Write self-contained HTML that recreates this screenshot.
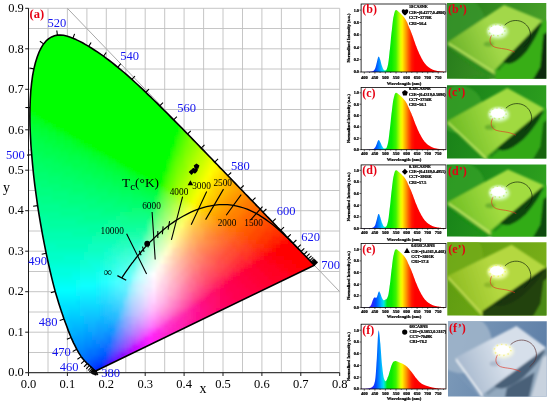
<!DOCTYPE html>
<html><head><meta charset="utf-8"><title>CIE chromaticity and LED spectra</title>
<style>
html,body{margin:0;padding:0;background:#fff;}
body{width:550px;height:403px;overflow:hidden;font-family:"Liberation Serif",serif;}
svg{display:block}
text{font-family:"Liberation Serif",serif}
</style></head><body>
<svg width="550" height="403" viewBox="0 0 550 403">
<rect width="550" height="403" fill="#fff"/>
<path d="M28.5 372.7V8.3M48 372.7V8.3M67.4 372.7V8.3M86.9 372.7V8.3M106.3 372.7V8.3M125.8 372.7V8.3M145.2 372.7V8.3M164.7 372.7V8.3M184.1 372.7V8.3M203.6 372.7V8.3M223 372.7V8.3M242.5 372.7V8.3M261.9 372.7V8.3M281.4 372.7V8.3M300.8 372.7V8.3M320.2 372.7V8.3M339.7 372.7V8.3M28.5 372.7H339.7M28.5 352.5H339.7M28.5 332.2H339.7M28.5 312H339.7M28.5 291.7H339.7M28.5 271.5H339.7M28.5 251.2H339.7M28.5 231H339.7M28.5 210.7H339.7M28.5 190.5H339.7M28.5 170.2H339.7M28.5 150H339.7M28.5 129.8H339.7M28.5 109.5H339.7M28.5 89.3H339.7M28.5 69H339.7M28.5 48.8H339.7M28.5 28.5H339.7M28.5 8.3H339.7" stroke="#c0c0c0" stroke-width="0.9" fill="none"/>
<path d="M67.4 8.3L339.7 291.7" stroke="#a8a8a8" stroke-width="1" fill="none"/>
<clipPath id="lc"><polygon points="96.2,370.7 96.2,370.7 96.2,370.7 96.2,370.7 96.2,370.7 96.2,370.7 96.2,370.7 96.2,370.7 96.1,370.7 96.1,370.7 96.1,370.7 96.1,370.7 96.1,370.7 96.1,370.7 96,370.7 96,370.7 96,370.7 96,370.7 96,370.7 95.9,370.8 95.9,370.8 95.9,370.8 95.9,370.8 95.9,370.8 95.8,370.8 95.8,370.8 95.8,370.8 95.7,370.8 95.7,370.8 95.7,370.8 95.6,370.8 95.6,370.8 95.6,370.8 95.5,370.8 95.5,370.8 95.4,370.7 95.4,370.7 95.4,370.7 95.3,370.7 95.2,370.7 95.2,370.6 95.1,370.6 95,370.5 94.9,370.5 94.8,370.4 94.7,370.4 94.6,370.3 94.5,370.2 94.4,370.1 94.3,370 94.2,369.9 94.1,369.8 93.9,369.7 93.8,369.5 93.6,369.4 93.4,369.2 93.2,369.1 93.1,368.9 92.9,368.7 92.7,368.5 92.5,368.3 92.2,368.1 92,367.9 91.7,367.6 91.5,367.4 91.2,367.1 90.9,366.8 90.5,366.5 90.2,366.2 89.8,365.9 89.4,365.5 89,365.2 88.6,364.8 88.2,364.4 87.7,363.9 87.2,363.5 86.7,363 86.2,362.5 85.7,361.9 85.1,361.3 84.5,360.7 83.9,360 83.3,359.3 82.6,358.4 81.9,357.6 81.2,356.6 80.4,355.4 79.6,354.1 78.7,352.7 77.8,351.1 76.8,349.3 75.8,347.4 74.7,345.2 73.5,342.9 72.4,340.4 71.1,337.5 69.8,334.4 68.5,331.1 67.1,327.3 65.6,323.3 64,319 62.4,314.3 60.7,309.2 58.9,303.7 57.1,297.8 55.2,291.4 53.4,284.6 51.6,277.4 49.8,269.8 48,261.8 46.2,253.3 44.4,244.4 42.6,235.1 40.9,225.5 39.2,215.6 37.6,205.6 36.2,195.5 34.8,185.2 33.6,175 32.6,164.8 31.7,154.7 30.9,144.7 30.4,135 30,125.5 29.9,116.4 30,107.6 30.3,99 30.8,90.8 31.6,83.1 32.6,75.7 33.9,68.9 35.4,62.7 37.2,57 39.1,52 41.3,47.6 43.6,43.9 46.1,40.9 48.8,38.6 51.6,36.9 54.5,35.7 57.4,35.1 60.4,35 63.5,35.3 66.6,36 69.7,37 72.9,38.2 76.1,39.6 79.3,41.1 82.5,42.8 85.6,44.6 88.7,46.4 91.7,48.3 94.7,50.2 97.7,52.1 100.6,54.2 103.5,56.2 106.4,58.3 109.3,60.5 112.1,62.7 115,65 117.8,67.3 120.6,69.6 123.5,72 126.3,74.4 129.1,76.9 131.9,79.4 134.7,82 137.5,84.5 140.3,87.1 143,89.7 145.8,92.4 148.6,95.1 151.4,97.7 154.2,100.5 157,103.2 159.7,105.9 162.5,108.7 165.3,111.5 168.1,114.3 170.9,117.1 173.6,119.9 176.4,122.7 179.2,125.5 182,128.3 184.7,131.1 187.5,134 190.3,136.8 193,139.6 195.8,142.5 198.5,145.3 201.2,148.1 204,150.9 206.7,153.7 209.4,156.5 212.1,159.3 214.7,162.1 217.4,164.8 220,167.6 222.7,170.3 225.3,173 227.9,175.7 230.4,178.3 233,181 235.5,183.6 238,186.2 240.4,188.7 242.9,191.2 245.2,193.7 247.6,196.1 249.9,198.6 252.2,200.9 254.5,203.3 256.7,205.6 258.9,207.8 261,210 263,212.2 265,214.2 266.9,216.2 268.8,218.1 270.6,220 272.4,221.9 274.2,223.7 275.9,225.5 277.5,227.2 279.1,228.8 280.7,230.4 282.1,231.9 283.6,233.4 284.9,234.8 286.2,236.2 287.5,237.5 288.7,238.7 289.9,239.9 291,241.1 292,242.2 293.1,243.2 294,244.2 295,245.2 295.8,246.1 296.7,247 297.5,247.9 298.3,248.7 299,249.4 299.7,250.1 300.4,250.8 301,251.5 301.7,252.2 302.2,252.8 302.8,253.3 303.4,253.9 303.9,254.5 304.4,255 304.9,255.5 305.4,256 305.8,256.5 306.3,256.9 306.7,257.4 307.1,257.8 307.5,258.2 307.8,258.6 308.2,258.9 308.5,259.3 308.9,259.6 309.2,260 309.5,260.3 309.8,260.6 310,260.8 310.3,261.1 310.5,261.3 310.7,261.5 310.9,261.8 311.1,262 311.3,262.2 311.5,262.3 311.6,262.5 311.8,262.7 311.9,262.8 312.1,263 312.2,263.1 312.3,263.2 312.5,263.4 312.6,263.5 312.7,263.6 312.7,263.7 312.8,263.7 312.9,263.8 313,263.9 313,264 313.1,264 313.2,264.1 313.2,264.2 313.3,264.2 313.4,264.3 313.4,264.4 313.5,264.4 313.5,264.5 313.6,264.5 313.6,264.6 313.7,264.6 313.7,264.7 313.8,264.8 313.9,264.8 313.9,264.9 314,264.9 314,265 314,265 314.1,265.1 314.1,265.1 314.1,265.1 314.2,265.1 314.2,265.2 314.2,265.2 314.2,265.2 314.2,265.2 314.2,265.2 314.3,265.2 314.3,265.2 314.3,265.3 314.3,265.3 314.3,265.3 314.3,265.3"/></clipPath>
<filter id="bl" x="-5%" y="-5%" width="110%" height="110%"><feGaussianBlur stdDeviation="1.6"/></filter>
<g clip-path="url(#lc)"><g filter="url(#bl)" shape-rendering="crispEdges">
<path fill="#00ff00" d="M52 28h16v4h-16zM44 32h36v4h-36zM40 36h48v4h-48zM36 40h56v4h-56zM36 44h64v4h-64zM32 48h72v4h-72zM32 52h80v4h-80zM32 56h84v4h-84zM28 60h92v4h-92zM28 64h96v4h-96zM28 68h104v4h-104zM28 72h108v4h-108zM28 76h112v4h-112zM24 80h120v4h-120zM24 84h124v4h-124zM24 88h128v4h-128zM24 92h132v4h-132zM24 96h136v4h-136zM24 100h140v4h-140zM24 104h144v4h-144zM28 108h144v4h-144zM36 112h140v4h-140zM40 116h140v4h-140zM48 120h132v4h-132zM56 124h124v4h-124zM64 128h116v4h-116zM68 132h108v4h-108zM76 136h100v4h-100zM84 140h92v4h-92zM92 144h80v4h-80zM96 148h76v4h-76zM104 152h68v4h-68zM112 156h56v4h-56zM120 160h48v4h-48zM124 164h44v4h-44zM132 168h36v4h-36zM140 172h24v4h-24zM148 176h16v4h-16zM152 180h12v4h-12z"/>
<path fill="#00ff10" d="M24 108h4v4h-4zM44 120h4v4h-4zM52 124h4v4h-4zM72 136h4v4h-4zM80 140h4v4h-4zM108 156h4v4h-4zM136 172h4v4h-4z"/>
<path fill="#00ff20" d="M24 112h4v4h-4zM32 116h4v4h-4zM40 120h4v4h-4zM44 124h8v4h-8zM52 128h4v4h-4zM60 132h4v4h-4zM68 136h4v4h-4zM76 140h4v4h-4zM80 144h4v4h-4zM88 148h4v4h-4zM96 152h4v4h-4zM104 156h4v4h-4zM112 160h4v4h-4zM124 168h4v4h-4zM132 172h4v4h-4zM140 176h4v4h-4zM148 180h4v4h-4z"/>
<path fill="#00ff18" d="M28 112h4v4h-4zM36 116h4v4h-4zM56 128h4v4h-4zM64 132h4v4h-4zM84 144h4v4h-4zM92 148h4v4h-4zM100 152h4v4h-4zM120 164h4v4h-4zM128 168h4v4h-4zM156 184h4v4h-4z"/>
<path fill="#00ff08" d="M32 112h4v4h-4zM60 128h4v4h-4zM88 144h4v4h-4zM116 160h4v4h-4zM144 176h4v4h-4z"/>
<path fill="#00ff28" d="M24 116h8v4h-8zM32 120h8v4h-8zM40 124h4v4h-4zM48 128h4v4h-4zM56 132h4v4h-4zM64 136h4v4h-4zM72 140h4v4h-4zM76 144h4v4h-4zM84 148h4v4h-4zM92 152h4v4h-4zM100 156h4v4h-4zM108 160h4v4h-4zM116 164h4v4h-4zM128 172h4v4h-4zM136 176h4v4h-4zM144 180h4v4h-4zM152 184h4v4h-4z"/>
<path fill="#00ff30" d="M24 120h8v4h-8zM32 124h8v4h-8zM40 128h8v4h-8zM48 132h8v4h-8zM56 136h8v4h-8zM64 140h8v4h-8zM72 144h4v4h-4zM80 148h4v4h-4zM88 152h4v4h-4zM92 156h8v4h-8zM100 160h8v4h-8zM108 164h8v4h-8zM116 168h8v4h-8zM124 172h4v4h-4zM132 176h4v4h-4zM140 180h4v4h-4zM148 184h4v4h-4zM156 188h4v4h-4z"/>
<path fill="#10ff00" d="M180 120h4v4h-4zM176 132h4v4h-4zM172 144h4v4h-4z"/>
<path fill="#00ff38" d="M24 124h8v4h-8zM32 128h8v4h-8zM40 132h8v4h-8zM48 136h8v4h-8zM56 140h8v4h-8zM64 144h8v4h-8zM72 148h8v4h-8zM80 152h8v4h-8zM88 156h4v4h-4zM96 160h4v4h-4zM104 164h4v4h-4zM112 168h4v4h-4zM120 172h4v4h-4zM128 176h4v4h-4zM136 180h4v4h-4zM144 184h4v4h-4zM152 188h4v4h-4z"/>
<path fill="#28ff00" d="M180 124h4v4h-4zM176 136h4v4h-4zM172 148h4v4h-4zM168 160h4v4h-4zM164 172h4v4h-4zM160 184h4v4h-4z"/>
<path fill="#48ff00" d="M184 124h4v4h-4zM180 136h4v4h-4zM176 148h4v4h-4z"/>
<path fill="#00ff40" d="M24 128h8v4h-8zM28 132h12v4h-12zM36 136h12v4h-12zM44 140h12v4h-12zM52 144h12v4h-12zM60 148h12v4h-12zM68 152h12v4h-12zM80 156h8v4h-8zM88 160h8v4h-8zM96 164h8v4h-8zM104 168h8v4h-8zM112 172h8v4h-8zM120 176h8v4h-8zM128 180h8v4h-8zM136 184h8v4h-8zM144 188h8v4h-8zM156 192h4v4h-4z"/>
<path fill="#38ff00" d="M180 128h4v4h-4zM176 140h4v4h-4zM172 152h4v4h-4zM168 164h4v4h-4zM164 176h4v4h-4z"/>
<path fill="#50ff00" d="M184 128h4v4h-4zM180 140h4v4h-4zM176 152h4v4h-4zM172 160h4v4h-4zM168 172h4v4h-4zM164 184h4v4h-4z"/>
<path fill="#68ff00" d="M188 128h4v4h-4zM184 140h4v4h-4zM180 152h4v4h-4zM176 160h4v4h-4zM172 172h4v4h-4zM168 184h4v4h-4z"/>
<path fill="#00ff48" d="M24 132h4v4h-4zM24 136h12v4h-12zM36 140h8v4h-8zM44 144h8v4h-8zM52 148h8v4h-8zM60 152h8v4h-8zM68 156h12v4h-12zM80 160h8v4h-8zM88 164h8v4h-8zM96 168h8v4h-8zM104 172h8v4h-8zM112 176h8v4h-8zM124 180h4v4h-4zM132 184h4v4h-4zM140 188h4v4h-4zM148 192h8v4h-8z"/>
<path fill="#40ff00" d="M180 132h4v4h-4zM176 144h4v4h-4zM172 156h4v4h-4zM168 168h4v4h-4zM164 180h4v4h-4z"/>
<path fill="#58ff00" d="M184 132h4v4h-4zM180 144h4v4h-4zM172 164h4v4h-4zM168 176h4v4h-4z"/>
<path fill="#70ff00" d="M188 132h4v4h-4zM184 144h4v4h-4zM180 156h4v4h-4zM176 164h4v4h-4zM172 176h4v4h-4zM168 188h4v4h-4z"/>
<path fill="#80ff00" d="M192 132h4v4h-4zM188 140h4v4h-4zM188 144h4v4h-4zM184 152h4v4h-4zM180 164h4v4h-4zM176 172h4v4h-4zM172 184h4v4h-4z"/>
<path fill="#60ff00" d="M184 136h4v4h-4zM180 148h4v4h-4zM176 156h4v4h-4zM172 168h4v4h-4zM168 180h4v4h-4z"/>
<path fill="#78ff00" d="M188 136h4v4h-4zM184 148h4v4h-4zM180 160h4v4h-4zM176 168h4v4h-4zM172 180h4v4h-4z"/>
<path fill="#88ff00" d="M192 136h4v4h-4zM188 148h4v4h-4zM184 156h4v4h-4zM180 168h4v4h-4zM176 176h4v4h-4zM172 188h4v4h-4z"/>
<path fill="#98ff00" d="M196 136h4v4h-4zM192 148h4v4h-4zM188 156h4v4h-4zM184 168h4v4h-4zM180 176h4v4h-4zM176 184h4v4h-4z"/>
<path fill="#00ff50" d="M24 140h12v4h-12zM28 144h16v4h-16zM36 148h16v4h-16zM44 152h16v4h-16zM56 156h12v4h-12zM64 160h16v4h-16zM72 164h16v4h-16zM84 168h12v4h-12zM92 172h12v4h-12zM104 176h8v4h-8zM112 180h12v4h-12zM120 184h12v4h-12zM132 188h8v4h-8zM140 192h8v4h-8zM152 196h4v4h-4z"/>
<path fill="#90ff00" d="M192 140h4v4h-4zM192 144h4v4h-4zM188 152h4v4h-4zM184 160h4v4h-4zM184 164h4v4h-4zM180 172h4v4h-4zM176 180h4v4h-4zM172 192h4v4h-4z"/>
<path fill="#a0ff00" d="M196 140h4v4h-4zM196 144h4v4h-4zM192 152h4v4h-4zM188 160h4v4h-4zM184 172h4v4h-4zM180 180h4v4h-4zM176 188h4v4h-4z"/>
<path fill="#a8ff00" d="M200 140h4v4h-4zM196 148h4v4h-4zM192 156h4v4h-4zM188 164h4v4h-4zM184 176h4v4h-4zM180 184h4v4h-4zM176 192h4v4h-4z"/>
<path fill="#00ff58" d="M24 144h4v4h-4zM24 148h12v4h-12zM32 152h12v4h-12zM40 156h16v4h-16zM52 160h12v4h-12zM60 164h12v4h-12zM72 168h12v4h-12zM80 172h12v4h-12zM92 176h12v4h-12zM100 180h12v4h-12zM112 184h8v4h-8zM120 188h12v4h-12zM132 192h8v4h-8zM144 196h8v4h-8zM152 200h4v4h-4z"/>
<path fill="#b0ff00" d="M200 144h4v4h-4zM196 152h4v4h-4zM192 160h4v4h-4zM188 168h4v4h-4zM188 172h4v4h-4zM184 180h4v4h-4zM180 188h4v4h-4z"/>
<path fill="#c0ff00" d="M204 144h4v4h-4zM200 152h4v4h-4zM200 156h4v4h-4zM196 160h4v4h-4zM196 164h4v4h-4zM192 168h4v4h-4zM192 172h4v4h-4zM188 180h4v4h-4zM184 188h4v4h-4zM180 196h4v4h-4z"/>
<path fill="#b8ff00" d="M200 148h4v4h-4zM196 156h4v4h-4zM192 164h4v4h-4zM188 176h4v4h-4zM184 184h4v4h-4zM180 192h4v4h-4z"/>
<path fill="#c8ff00" d="M204 148h4v4h-4zM200 160h4v4h-4zM196 168h4v4h-4zM192 176h4v4h-4zM188 184h4v4h-4zM184 192h4v4h-4z"/>
<path fill="#d0ff00" d="M208 148h4v4h-4zM204 152h4v4h-4zM204 156h4v4h-4zM200 164h4v4h-4zM196 172h4v4h-4zM192 180h4v4h-4zM188 188h4v4h-4zM184 196h4v4h-4z"/>
<path fill="#00ff60" d="M24 152h8v4h-8zM24 156h16v4h-16zM32 160h20v4h-20zM44 164h16v4h-16zM52 168h20v4h-20zM64 172h16v4h-16zM76 176h16v4h-16zM84 180h16v4h-16zM96 184h16v4h-16zM108 188h12v4h-12zM120 192h12v4h-12zM132 196h12v4h-12zM144 200h8v4h-8zM152 204h4v4h-4z"/>
<path fill="#d8ff00" d="M208 152h4v4h-4zM204 160h4v4h-4zM200 168h4v4h-4zM196 176h4v4h-4zM192 184h4v4h-4zM188 192h4v4h-4z"/>
<path fill="#e8ff00" d="M212 152h4v4h-4zM208 160h4v4h-4zM204 168h4v4h-4zM200 176h4v4h-4zM196 184h4v4h-4zM192 192h4v4h-4zM188 200h4v4h-4z"/>
<path fill="#08ff00" d="M168 156h4v4h-4z"/>
<path fill="#e0ff00" d="M208 156h4v4h-4zM204 164h4v4h-4zM200 172h4v4h-4zM196 180h4v4h-4zM192 188h4v4h-4zM188 196h4v4h-4z"/>
<path fill="#f0ff00" d="M212 156h4v4h-4zM212 160h4v4h-4zM208 164h4v4h-4zM204 172h4v4h-4zM200 180h4v4h-4zM196 188h4v4h-4zM192 196h4v4h-4z"/>
<path fill="#f8ff00" d="M216 156h4v4h-4zM208 168h4v4h-4zM204 176h4v4h-4zM200 184h4v4h-4zM196 192h4v4h-4zM192 200h4v4h-4z"/>
<path fill="#00ff68" d="M28 160h4v4h-4zM28 164h16v4h-16zM36 168h16v4h-16zM48 172h16v4h-16zM60 176h16v4h-16zM72 180h12v4h-12zM84 184h12v4h-12zM96 188h12v4h-12zM108 192h12v4h-12zM120 196h12v4h-12zM132 200h12v4h-12zM144 204h8v4h-8z"/>
<path fill="#ffff00" d="M216 160h4v4h-4zM212 164h4v4h-4zM208 172h4v4h-4zM204 180h4v4h-4zM200 188h4v4h-4z"/>
<path fill="#fff000" d="M220 160h4v4h-4zM216 164h4v4h-4zM216 168h4v4h-4zM212 172h4v4h-4zM208 180h4v4h-4zM204 188h4v4h-4zM200 192h4v4h-4zM196 200h4v4h-4z"/>
<path fill="#ffe800" d="M220 164h4v4h-4zM216 172h4v4h-4zM212 176h4v4h-4zM208 184h4v4h-4zM204 192h4v4h-4zM200 196h4v4h-4zM196 204h4v4h-4z"/>
<path fill="#ffe000" d="M224 164h4v4h-4zM220 168h4v4h-4zM216 176h4v4h-4zM212 180h4v4h-4zM208 188h4v4h-4zM204 196h4v4h-4zM200 200h4v4h-4z"/>
<path fill="#00ff70" d="M28 168h8v4h-8zM28 172h20v4h-20zM36 176h24v4h-24zM48 180h24v4h-24zM60 184h24v4h-24zM72 188h24v4h-24zM88 192h20v4h-20zM100 196h20v4h-20zM116 200h16v4h-16zM128 204h16v4h-16z"/>
<path fill="#fff800" d="M212 168h4v4h-4zM208 176h4v4h-4zM204 184h4v4h-4zM196 196h4v4h-4z"/>
<path fill="#ffd800" d="M224 168h4v4h-4zM220 172h4v4h-4zM216 180h4v4h-4zM212 184h4v4h-4zM208 192h4v4h-4zM204 200h4v4h-4zM200 204h4v4h-4z"/>
<path fill="#ffc800" d="M228 168h4v4h-4zM228 172h4v4h-4zM224 176h4v4h-4zM220 184h4v4h-4zM216 188h4v4h-4zM212 196h4v4h-4zM208 200h4v4h-4zM204 208h4v4h-4z"/>
<path fill="#ffd000" d="M224 172h4v4h-4zM220 176h4v4h-4zM220 180h4v4h-4zM216 184h4v4h-4zM212 188h4v4h-4zM212 192h4v4h-4zM208 196h4v4h-4zM204 204h4v4h-4zM200 208h4v4h-4z"/>
<path fill="#ffc000" d="M232 172h4v4h-4zM228 176h4v4h-4zM224 180h4v4h-4zM220 188h4v4h-4zM216 192h4v4h-4zM212 200h4v4h-4zM208 204h4v4h-4z"/>
<path fill="#00ff78" d="M28 176h8v4h-8zM28 180h20v4h-20zM40 184h20v4h-20zM52 188h20v4h-20zM68 192h20v4h-20zM84 196h16v4h-16zM96 200h20v4h-20zM112 204h16v4h-16zM128 208h4v4h-4z"/>
<path fill="#ffb800" d="M232 176h4v4h-4zM228 180h4v4h-4zM224 184h4v4h-4zM224 188h4v4h-4zM220 192h4v4h-4zM216 196h4v4h-4zM212 204h4v4h-4zM208 208h4v4h-4z"/>
<path fill="#ffb000" d="M236 176h4v4h-4zM232 180h4v4h-4zM228 184h4v4h-4zM228 188h4v4h-4zM224 192h4v4h-4zM220 196h4v4h-4zM216 200h4v4h-4zM216 204h4v4h-4zM212 208h4v4h-4zM208 212h4v4h-4z"/>
<path fill="#ffa800" d="M236 180h4v4h-4zM232 184h4v4h-4zM232 188h4v4h-4zM228 192h4v4h-4zM224 196h4v4h-4zM220 200h4v4h-4zM220 204h4v4h-4zM216 208h4v4h-4zM212 212h4v4h-4z"/>
<path fill="#ffa000" d="M240 180h4v4h-4zM236 184h8v4h-8zM236 188h4v4h-4zM232 192h4v4h-4zM228 196h4v4h-4zM224 200h4v4h-4zM224 204h4v4h-4zM220 208h4v4h-4zM216 212h4v4h-4z"/>
<path fill="#00ff80" d="M28 184h12v4h-12zM28 188h24v4h-24zM36 192h32v4h-32zM52 196h32v4h-32zM68 200h28v4h-28zM88 204h24v4h-24zM104 208h24v4h-24z"/>
<path fill="#ff9800" d="M244 184h4v4h-4zM240 188h4v4h-4zM236 192h4v4h-4zM232 196h4v4h-4zM228 200h4v4h-4zM228 204h4v4h-4zM224 208h4v4h-4zM220 212h4v4h-4zM216 216h4v4h-4z"/>
<path fill="#38ff28" d="M160 188h4v4h-4z"/>
<path fill="#58ff10" d="M164 188h4v4h-4z"/>
<path fill="#ff9000" d="M244 188h4v4h-4zM240 192h4v4h-4zM236 196h8v4h-8zM232 200h8v4h-8zM232 204h4v4h-4zM228 208h4v4h-4zM224 212h4v4h-4zM220 216h4v4h-4z"/>
<path fill="#ff8800" d="M248 188h4v4h-4zM244 192h8v4h-8zM244 196h4v4h-4zM240 200h4v4h-4zM236 204h4v4h-4zM232 208h4v4h-4zM228 212h4v4h-4zM224 216h4v4h-4zM224 220h4v4h-4z"/>
<path fill="#00ff88" d="M28 192h8v4h-8zM32 196h20v4h-20zM40 200h28v4h-28zM60 204h28v4h-28zM80 208h24v4h-24zM100 212h20v4h-20z"/>
<path fill="#48ff38" d="M160 192h4v4h-4z"/>
<path fill="#68ff30" d="M164 192h4v4h-4z"/>
<path fill="#80ff20" d="M168 192h4v4h-4z"/>
<path fill="#28ff48" d="M156 196h4v4h-4z"/>
<path fill="#50ff48" d="M160 196h4v4h-4z"/>
<path fill="#70ff40" d="M164 196h4v4h-4z"/>
<path fill="#88ff38" d="M168 196h4v4h-4z"/>
<path fill="#98ff30" d="M172 196h4v4h-4z"/>
<path fill="#b0ff20" d="M176 196h4v4h-4z"/>
<path fill="#ff8000" d="M248 196h4v4h-4zM244 200h4v4h-4zM240 204h4v4h-4zM236 208h8v4h-8zM232 212h8v4h-8zM228 216h8v4h-8zM228 220h4v4h-4z"/>
<path fill="#ff7800" d="M252 196h4v4h-4zM248 200h8v4h-8zM244 204h8v4h-8zM244 208h4v4h-4zM240 212h4v4h-4zM236 216h4v4h-4zM232 220h4v4h-4zM228 224h4v4h-4z"/>
<path fill="#00ff90" d="M32 200h8v4h-8zM32 204h28v4h-28zM40 208h40v4h-40zM60 212h40v4h-40zM84 216h32v4h-32z"/>
<path fill="#38ff58" d="M156 200h4v4h-4z"/>
<path fill="#60ff50" d="M160 200h4v4h-4z"/>
<path fill="#78ff50" d="M164 200h4v4h-4z"/>
<path fill="#90ff48" d="M168 200h4v4h-4z"/>
<path fill="#a0ff40" d="M172 200h4v4h-4z"/>
<path fill="#b8ff38" d="M176 200h4v4h-4z"/>
<path fill="#c8ff28" d="M180 200h4v4h-4z"/>
<path fill="#d8ff18" d="M184 200h4v4h-4z"/>
<path fill="#ff7000" d="M256 200h4v4h-4zM252 204h4v4h-4zM248 208h4v4h-4zM244 212h4v4h-4zM240 216h4v4h-4zM236 220h8v4h-8zM232 224h8v4h-8z"/>
<path fill="#48ff60" d="M156 204h4v4h-4z"/>
<path fill="#68ff60" d="M160 204h4v4h-4z"/>
<path fill="#80ff58" d="M164 204h4v4h-4z"/>
<path fill="#98ff50" d="M168 204h4v4h-4z"/>
<path fill="#b0ff50" d="M172 204h4v4h-4z"/>
<path fill="#c0ff48" d="M176 204h4v4h-4z"/>
<path fill="#d0ff38" d="M180 204h4v4h-4z"/>
<path fill="#e0ff30" d="M184 204h4v4h-4z"/>
<path fill="#f0ff20" d="M188 204h4v4h-4z"/>
<path fill="#fff810" d="M192 204h4v4h-4z"/>
<path fill="#ff6800" d="M256 204h8v4h-8zM252 208h8v4h-8zM248 212h8v4h-8zM244 216h8v4h-8zM244 220h4v4h-4zM240 224h4v4h-4zM236 228h4v4h-4z"/>
<path fill="#00ff98" d="M32 208h8v4h-8zM32 212h28v4h-28zM48 216h36v4h-36zM76 220h32v4h-32z"/>
<path fill="#08ff78" d="M132 208h12v4h-12zM148 212h4v4h-4z"/>
<path fill="#08ff70" d="M144 208h8v4h-8z"/>
<path fill="#28ff70" d="M152 208h4v4h-4z"/>
<path fill="#58ff68" d="M156 208h4v4h-4z"/>
<path fill="#70ff68" d="M160 208h4v4h-4z"/>
<path fill="#90ff60" d="M164 208h4v4h-4z"/>
<path fill="#a0ff60" d="M168 208h4v4h-4z"/>
<path fill="#b8ff58" d="M172 208h4v4h-4z"/>
<path fill="#c8ff50" d="M176 208h4v4h-4z"/>
<path fill="#d8ff48" d="M180 208h4v4h-4z"/>
<path fill="#f0ff40" d="M184 208h4v4h-4z"/>
<path fill="#ffff30" d="M188 208h4v4h-4z"/>
<path fill="#fff028" d="M192 208h4v4h-4z"/>
<path fill="#ffe018" d="M196 208h4v4h-4z"/>
<path fill="#ff6000" d="M260 208h8v4h-8zM256 212h8v4h-8zM252 216h8v4h-8zM248 220h4v4h-4zM244 224h4v4h-4zM240 228h4v4h-4z"/>
<path fill="#08ff88" d="M120 212h4v4h-4zM128 216h20v4h-20z"/>
<path fill="#08ff80" d="M124 212h24v4h-24zM148 216h4v4h-4z"/>
<path fill="#40ff78" d="M152 212h4v4h-4z"/>
<path fill="#60ff70" d="M156 212h4v4h-4z"/>
<path fill="#80ff70" d="M160 212h4v4h-4z"/>
<path fill="#98ff70" d="M164 212h4v4h-4z"/>
<path fill="#a8ff68" d="M168 212h4v4h-4z"/>
<path fill="#c0ff60" d="M172 212h4v4h-4z"/>
<path fill="#d0ff60" d="M176 212h4v4h-4z"/>
<path fill="#e0ff50" d="M180 212h4v4h-4z"/>
<path fill="#f8ff48" d="M184 212h4v4h-4z"/>
<path fill="#fff840" d="M188 212h4v4h-4z"/>
<path fill="#ffe830" d="M192 212h4v4h-4z"/>
<path fill="#ffd828" d="M196 212h4v4h-4z"/>
<path fill="#ffc818" d="M200 212h4v4h-4z"/>
<path fill="#ffc010" d="M204 212h4v4h-4z"/>
<path fill="#ff5800" d="M264 212h4v4h-4zM260 216h4v4h-4zM252 220h8v4h-8zM248 224h8v4h-8zM244 228h8v4h-8zM244 232h4v4h-4z"/>
<path fill="#ff5000" d="M268 212h4v4h-4zM264 216h8v4h-8zM260 220h8v4h-8zM256 224h8v4h-8zM252 228h4v4h-4zM248 232h4v4h-4z"/>
<path fill="#00ffa0" d="M32 216h16v4h-16zM36 220h40v4h-40zM48 224h56v4h-56zM88 228h12v4h-12z"/>
<path fill="#08ff90" d="M116 216h12v4h-12zM120 220h12v4h-12z"/>
<path fill="#50ff80" d="M152 216h4v4h-4z"/>
<path fill="#70ff80" d="M156 216h4v4h-4z"/>
<path fill="#88ff78" d="M160 216h4v4h-4z"/>
<path fill="#a0ff78" d="M164 216h4v4h-4z"/>
<path fill="#b8ff70" d="M168 216h4v4h-4z"/>
<path fill="#c8ff70" d="M172 216h4v4h-4z"/>
<path fill="#d8ff68" d="M176 216h4v4h-4z"/>
<path fill="#f0ff60" d="M180 216h4v4h-4z"/>
<path fill="#ffff58" d="M184 216h4v4h-4z"/>
<path fill="#fff048" d="M188 216h4v4h-4z"/>
<path fill="#ffe040" d="M192 216h4v4h-4z"/>
<path fill="#ffd030" d="M196 216h4v4h-4z"/>
<path fill="#ffc028" d="M200 216h4v4h-4z"/>
<path fill="#ffb820" d="M204 216h4v4h-4z"/>
<path fill="#ffb018" d="M208 216h4v4h-4z"/>
<path fill="#ffa008" d="M212 216h4v4h-4z"/>
<path fill="#ff4800" d="M272 216h4v4h-4zM268 220h4v4h-4zM264 224h4v4h-4zM256 228h8v4h-8zM252 232h8v4h-8zM248 236h8v4h-8z"/>
<path fill="#08ff98" d="M108 220h12v4h-12zM120 224h4v4h-4z"/>
<path fill="#10ff90" d="M132 220h16v4h-16z"/>
<path fill="#30ff90" d="M148 220h4v4h-4z"/>
<path fill="#60ff88" d="M152 220h4v4h-4z"/>
<path fill="#80ff88" d="M156 220h4v4h-4z"/>
<path fill="#98ff88" d="M160 220h4v4h-4z"/>
<path fill="#a8ff80" d="M164 220h4v4h-4z"/>
<path fill="#c0ff80" d="M168 220h4v4h-4z"/>
<path fill="#d0ff78" d="M172 220h4v4h-4z"/>
<path fill="#e8ff70" d="M176 220h4v4h-4z"/>
<path fill="#f8ff68" d="M180 220h4v4h-4z"/>
<path fill="#fff060" d="M184 220h4v4h-4z"/>
<path fill="#ffe050" d="M188 220h4v4h-4z"/>
<path fill="#ffd040" d="M192 220h4v4h-4z"/>
<path fill="#ffc838" d="M196 220h4v4h-4z"/>
<path fill="#ffb830" d="M200 220h4v4h-4z"/>
<path fill="#ffb028" d="M204 220h4v4h-4z"/>
<path fill="#ffa820" d="M208 220h4v4h-4z"/>
<path fill="#ffa018" d="M212 220h4v4h-4z"/>
<path fill="#ff9010" d="M216 220h4v4h-4z"/>
<path fill="#ff9008" d="M220 220h4v4h-4z"/>
<path fill="#ff4000" d="M272 220h8v4h-8zM268 224h8v4h-8zM264 228h8v4h-8zM260 232h4v4h-4zM256 236h4v4h-4z"/>
<path fill="#00ffa8" d="M36 224h12v4h-12zM36 228h52v4h-52zM72 232h24v4h-24z"/>
<path fill="#08ffa0" d="M104 224h16v4h-16zM100 228h16v4h-16z"/>
<path fill="#10ff98" d="M124 224h24v4h-24z"/>
<path fill="#48ff98" d="M148 224h4v4h-4z"/>
<path fill="#70ff90" d="M152 224h4v4h-4z"/>
<path fill="#88ff90" d="M156 224h4v4h-4z"/>
<path fill="#a0ff90" d="M160 224h4v4h-4z"/>
<path fill="#b8ff90" d="M164 224h4v4h-4z"/>
<path fill="#c8ff88" d="M168 224h4v4h-4z"/>
<path fill="#e0ff80" d="M172 224h4v4h-4z"/>
<path fill="#f0ff78" d="M176 224h4v4h-4z"/>
<path fill="#ffff70" d="M180 224h4v4h-4z"/>
<path fill="#ffe860" d="M184 224h4v4h-4z"/>
<path fill="#ffd858" d="M188 224h4v4h-4z"/>
<path fill="#ffc848" d="M192 224h4v4h-4z"/>
<path fill="#ffc040" d="M196 224h4v4h-4z"/>
<path fill="#ffb038" d="M200 224h4v4h-4z"/>
<path fill="#ffa830" d="M204 224h4v4h-4z"/>
<path fill="#ffa028" d="M208 224h4v4h-4z"/>
<path fill="#ff9820" d="M212 224h4v4h-4z"/>
<path fill="#ff9020" d="M216 224h4v4h-4z"/>
<path fill="#ff8818" d="M220 224h4v4h-4z"/>
<path fill="#ff8010" d="M224 224h4v4h-4z"/>
<path fill="#ff3800" d="M276 224h4v4h-4zM272 228h4v4h-4zM264 232h8v4h-8zM260 236h8v4h-8zM256 240h4v4h-4z"/>
<path fill="#ff3000" d="M280 224h4v4h-4zM276 228h8v4h-8zM272 232h8v4h-8zM268 236h4v4h-4zM260 240h8v4h-8z"/>
<path fill="#10ffa0" d="M116 228h20v4h-20z"/>
<path fill="#18ffa0" d="M136 228h12v4h-12z"/>
<path fill="#58ffa0" d="M148 228h4v4h-4z"/>
<path fill="#78ffa0" d="M152 228h4v4h-4z"/>
<path fill="#98ffa0" d="M156 228h4v4h-4z"/>
<path fill="#a8ff98" d="M160 228h4v4h-4z"/>
<path fill="#c0ff98" d="M164 228h4v4h-4z"/>
<path fill="#d0ff90" d="M168 228h4v4h-4z"/>
<path fill="#e8ff88" d="M172 228h4v4h-4z"/>
<path fill="#f8ff80" d="M176 228h4v4h-4z"/>
<path fill="#fff078" d="M180 228h4v4h-4z"/>
<path fill="#ffe068" d="M184 228h4v4h-4z"/>
<path fill="#ffd060" d="M188 228h4v4h-4z"/>
<path fill="#ffc050" d="M192 228h4v4h-4z"/>
<path fill="#ffb848" d="M196 228h4v4h-4z"/>
<path fill="#ffb040" d="M200 228h4v4h-4z"/>
<path fill="#ffa038" d="M204 228h4v4h-4z"/>
<path fill="#ff9830" d="M208 228h4v4h-4z"/>
<path fill="#ff9028" d="M212 228h4v4h-4z"/>
<path fill="#ff8820" d="M216 228h4v4h-4z"/>
<path fill="#ff8020" d="M220 228h4v4h-4z"/>
<path fill="#ff7818" d="M224 228h4v4h-4z"/>
<path fill="#ff7010" d="M228 228h4v4h-4z"/>
<path fill="#ff7008" d="M232 228h4v4h-4z"/>
<path fill="#ff2800" d="M284 228h4v4h-4zM280 232h4v4h-4zM272 236h4v4h-4zM268 240h4v4h-4zM264 244h4v4h-4z"/>
<path fill="#00ffb0" d="M36 232h36v4h-36zM36 236h56v4h-56z"/>
<path fill="#08ffa8" d="M96 232h16v4h-16z"/>
<path fill="#10ffa8" d="M112 232h12v4h-12z"/>
<path fill="#18ffa8" d="M124 232h16v4h-16z"/>
<path fill="#20ffa8" d="M140 232h4v4h-4z"/>
<path fill="#38ffa8" d="M144 232h4v4h-4z"/>
<path fill="#68ffa8" d="M148 232h4v4h-4z"/>
<path fill="#88ffa8" d="M152 232h4v4h-4z"/>
<path fill="#a0ffa8" d="M156 232h4v4h-4z"/>
<path fill="#b8ffa0" d="M160 232h4v4h-4z"/>
<path fill="#c8ffa0" d="M164 232h4v4h-4z"/>
<path fill="#e0ff98" d="M168 232h4v4h-4z"/>
<path fill="#f0ff90" d="M172 232h4v4h-4z"/>
<path fill="#fff888" d="M176 232h4v4h-4z"/>
<path fill="#ffe878" d="M180 232h4v4h-4z"/>
<path fill="#ffd870" d="M184 232h4v4h-4z"/>
<path fill="#ffc860" d="M188 232h4v4h-4z"/>
<path fill="#ffb858" d="M192 232h4v4h-4z"/>
<path fill="#ffb050" d="M196 232h4v4h-4z"/>
<path fill="#ffa848" d="M200 232h4v4h-4z"/>
<path fill="#ff9840" d="M204 232h4v4h-4z"/>
<path fill="#ff9038" d="M208 232h4v4h-4z"/>
<path fill="#ff8830" d="M212 232h4v4h-4z"/>
<path fill="#ff8028" d="M216 232h4v4h-4z"/>
<path fill="#ff7828" d="M220 232h4v4h-4z"/>
<path fill="#ff7020" d="M224 232h4v4h-4z"/>
<path fill="#ff7018" d="M228 232h4v4h-4z"/>
<path fill="#ff6818" d="M232 232h4v4h-4z"/>
<path fill="#ff6010" d="M236 232h4v4h-4z"/>
<path fill="#ff5808" d="M240 232h4v4h-4z"/>
<path fill="#ff2000" d="M284 232h4v4h-4zM276 236h8v4h-8zM272 240h8v4h-8zM268 244h4v4h-4z"/>
<path fill="#ff1800" d="M288 232h4v4h-4zM284 236h4v4h-4zM272 244h4v4h-4z"/>
<path fill="#08ffb0" d="M92 236h16v4h-16z"/>
<path fill="#10ffb0" d="M108 236h12v4h-12z"/>
<path fill="#18ffb0" d="M120 236h8v4h-8z"/>
<path fill="#20ffb0" d="M128 236h16v4h-16z"/>
<path fill="#58ffb0" d="M144 236h4v4h-4z"/>
<path fill="#78ffb0" d="M148 236h4v4h-4z"/>
<path fill="#98ffb0" d="M152 236h4v4h-4z"/>
<path fill="#b0ffb0" d="M156 236h4v4h-4z"/>
<path fill="#c0ffb0" d="M160 236h4v4h-4z"/>
<path fill="#d8ffa8" d="M164 236h4v4h-4z"/>
<path fill="#e8ffa0" d="M168 236h4v4h-4z"/>
<path fill="#f8ffa0" d="M172 236h4v4h-4z"/>
<path fill="#fff090" d="M176 236h4v4h-4z"/>
<path fill="#ffe080" d="M180 236h4v4h-4z"/>
<path fill="#ffd070" d="M184 236h4v4h-4z"/>
<path fill="#ffc068" d="M188 236h4v4h-4z"/>
<path fill="#ffb060" d="M192 236h4v4h-4zM192 240h4v4h-4z"/>
<path fill="#ffa850" d="M196 236h4v4h-4z"/>
<path fill="#ffa050" d="M200 236h4v4h-4z"/>
<path fill="#ff9040" d="M204 236h4v4h-4z"/>
<path fill="#ff8840" d="M208 236h4v4h-4zM208 240h4v4h-4z"/>
<path fill="#ff8038" d="M212 236h4v4h-4z"/>
<path fill="#ff7830" d="M216 236h4v4h-4z"/>
<path fill="#ff7030" d="M220 236h4v4h-4zM220 240h4v4h-4z"/>
<path fill="#ff7028" d="M224 236h4v4h-4z"/>
<path fill="#ff6820" d="M228 236h4v4h-4z"/>
<path fill="#ff6020" d="M232 236h4v4h-4z"/>
<path fill="#ff5818" d="M236 236h4v4h-4z"/>
<path fill="#ff5810" d="M240 236h4v4h-4z"/>
<path fill="#ff5010" d="M244 236h4v4h-4z"/>
<path fill="#ff1000" d="M288 236h4v4h-4zM280 240h4v4h-4zM276 244h4v4h-4z"/>
<path fill="#ff0000" d="M292 236h4v4h-4zM288 240h12v4h-12zM280 244h24v4h-24zM276 248h32v4h-32zM276 252h36v4h-36zM284 256h32v4h-32zM292 260h28v4h-28zM296 264h28v4h-28zM304 268h24v4h-24zM316 272h12v4h-12zM320 276h8v4h-8zM324 280h4v4h-4z"/>
<path fill="#00ffb8" d="M36 240h56v4h-56zM56 244h32v4h-32z"/>
<path fill="#08ffb8" d="M92 240h12v4h-12z"/>
<path fill="#10ffb8" d="M104 240h12v4h-12z"/>
<path fill="#18ffb8" d="M116 240h4v4h-4z"/>
<path fill="#20ffb8" d="M120 240h8v4h-8z"/>
<path fill="#20ffc0" d="M128 240h4v4h-4zM116 244h8v4h-8z"/>
<path fill="#28ffc0" d="M132 240h8v4h-8zM124 244h8v4h-8z"/>
<path fill="#30ffc0" d="M140 240h4v4h-4z"/>
<path fill="#68ffc0" d="M144 240h4v4h-4z"/>
<path fill="#88ffc0" d="M148 240h4v4h-4z"/>
<path fill="#a0ffb8" d="M152 240h4v4h-4z"/>
<path fill="#b8ffb8" d="M156 240h4v4h-4z"/>
<path fill="#d0ffb8" d="M160 240h4v4h-4z"/>
<path fill="#e0ffb0" d="M164 240h4v4h-4z"/>
<path fill="#f0ffb0" d="M168 240h4v4h-4z"/>
<path fill="#fff8a0" d="M172 240h4v4h-4z"/>
<path fill="#ffe890" d="M176 240h4v4h-4z"/>
<path fill="#ffd888" d="M180 240h4v4h-4z"/>
<path fill="#ffc878" d="M184 240h4v4h-4z"/>
<path fill="#ffb870" d="M188 240h4v4h-4z"/>
<path fill="#ffa058" d="M196 240h4v4h-4z"/>
<path fill="#ff9850" d="M200 240h4v4h-4z"/>
<path fill="#ff9048" d="M204 240h4v4h-4z"/>
<path fill="#ff8040" d="M212 240h4v4h-4z"/>
<path fill="#ff7838" d="M216 240h4v4h-4z"/>
<path fill="#ff6830" d="M224 240h4v4h-4z"/>
<path fill="#ff6028" d="M228 240h4v4h-4z"/>
<path fill="#ff5820" d="M232 240h8v4h-8z"/>
<path fill="#ff5018" d="M240 240h4v4h-4z"/>
<path fill="#ff4818" d="M244 240h4v4h-4z"/>
<path fill="#ff4010" d="M248 240h4v4h-4z"/>
<path fill="#ff4008" d="M252 240h4v4h-4z"/>
<path fill="#ff0800" d="M284 240h4v4h-4zM272 248h4v4h-4z"/>
<path fill="#00ffc0" d="M40 244h16v4h-16zM40 248h48v4h-48z"/>
<path fill="#08ffc0" d="M88 244h12v4h-12zM88 248h12v4h-12z"/>
<path fill="#10ffc0" d="M100 244h12v4h-12zM100 248h4v4h-4z"/>
<path fill="#18ffc0" d="M112 244h4v4h-4z"/>
<path fill="#30ffc8" d="M132 244h8v4h-8zM124 248h4v4h-4z"/>
<path fill="#48ffc8" d="M140 244h4v4h-4z"/>
<path fill="#80ffc8" d="M144 244h4v4h-4z"/>
<path fill="#98ffc8" d="M148 244h4v4h-4z"/>
<path fill="#b0ffc8" d="M152 244h4v4h-4z"/>
<path fill="#c8ffc0" d="M156 244h4v4h-4z"/>
<path fill="#d8ffc0" d="M160 244h4v4h-4z"/>
<path fill="#e8ffc0" d="M164 244h4v4h-4z"/>
<path fill="#ffffb8" d="M168 244h4v4h-4z"/>
<path fill="#fff0a8" d="M172 244h4v4h-4z"/>
<path fill="#ffe098" d="M176 244h4v4h-4z"/>
<path fill="#ffd088" d="M180 244h4v4h-4z"/>
<path fill="#ffc080" d="M184 244h4v4h-4z"/>
<path fill="#ffb070" d="M188 244h4v4h-4z"/>
<path fill="#ffa868" d="M192 244h4v4h-4z"/>
<path fill="#ff9860" d="M196 244h4v4h-4z"/>
<path fill="#ff9058" d="M200 244h4v4h-4z"/>
<path fill="#ff8850" d="M204 244h4v4h-4z"/>
<path fill="#ff8048" d="M208 244h4v4h-4z"/>
<path fill="#ff7840" d="M212 244h4v4h-4z"/>
<path fill="#ff7040" d="M216 244h4v4h-4z"/>
<path fill="#ff6838" d="M220 244h4v4h-4z"/>
<path fill="#ff6030" d="M224 244h4v4h-4z"/>
<path fill="#ff5830" d="M228 244h4v4h-4z"/>
<path fill="#ff5028" d="M232 244h4v4h-4z"/>
<path fill="#ff5020" d="M236 244h4v4h-4z"/>
<path fill="#ff4820" d="M240 244h4v4h-4z"/>
<path fill="#ff4020" d="M244 244h4v4h-4zM244 248h4v4h-4z"/>
<path fill="#ff4018" d="M248 244h4v4h-4z"/>
<path fill="#ff3810" d="M252 244h4v4h-4z"/>
<path fill="#ff3010" d="M256 244h4v4h-4z"/>
<path fill="#ff3008" d="M260 244h4v4h-4z"/>
<path fill="#10ffc8" d="M104 248h4v4h-4zM96 252h8v4h-8z"/>
<path fill="#18ffc8" d="M108 248h4v4h-4z"/>
<path fill="#20ffc8" d="M112 248h8v4h-8z"/>
<path fill="#28ffc8" d="M120 248h4v4h-4z"/>
<path fill="#30ffd0" d="M128 248h4v4h-4zM120 252h4v4h-4z"/>
<path fill="#38ffd0" d="M132 248h4v4h-4zM124 252h8v4h-8z"/>
<path fill="#40ffd0" d="M136 248h4v4h-4z"/>
<path fill="#68ffd0" d="M140 248h4v4h-4z"/>
<path fill="#90ffd0" d="M144 248h4v4h-4z"/>
<path fill="#a8ffd0" d="M148 248h4v4h-4z"/>
<path fill="#c0ffd0" d="M152 248h4v4h-4z"/>
<path fill="#d0ffd0" d="M156 248h4v4h-4z"/>
<path fill="#e0ffc8" d="M160 248h4v4h-4z"/>
<path fill="#f8ffc8" d="M164 248h4v4h-4z"/>
<path fill="#fff8c0" d="M168 248h4v4h-4z"/>
<path fill="#ffe0a8" d="M172 248h4v4h-4z"/>
<path fill="#ffd0a0" d="M176 248h4v4h-4zM176 252h4v4h-4z"/>
<path fill="#ffc890" d="M180 248h4v4h-4z"/>
<path fill="#ffb880" d="M184 248h4v4h-4z"/>
<path fill="#ffa878" d="M188 248h4v4h-4z"/>
<path fill="#ffa070" d="M192 248h4v4h-4z"/>
<path fill="#ff9060" d="M196 248h4v4h-4z"/>
<path fill="#ff8858" d="M200 248h4v4h-4z"/>
<path fill="#ff8050" d="M204 248h4v4h-4z"/>
<path fill="#ff7850" d="M208 248h4v4h-4z"/>
<path fill="#ff7048" d="M212 248h4v4h-4z"/>
<path fill="#ff6840" d="M216 248h4v4h-4z"/>
<path fill="#ff6040" d="M220 248h4v4h-4z"/>
<path fill="#ff5838" d="M224 248h4v4h-4z"/>
<path fill="#ff5030" d="M228 248h8v4h-8z"/>
<path fill="#ff4828" d="M236 248h4v4h-4z"/>
<path fill="#ff4028" d="M240 248h4v4h-4z"/>
<path fill="#ff3820" d="M248 248h4v4h-4z"/>
<path fill="#ff3018" d="M252 248h4v4h-4z"/>
<path fill="#ff2818" d="M256 248h4v4h-4z"/>
<path fill="#ff2010" d="M260 248h8v4h-8z"/>
<path fill="#ff1808" d="M268 248h4v4h-4z"/>
<path fill="#00ffc8" d="M40 252h44v4h-44zM40 256h24v4h-24z"/>
<path fill="#08ffc8" d="M84 252h12v4h-12z"/>
<path fill="#18ffd0" d="M104 252h8v4h-8zM104 256h4v4h-4z"/>
<path fill="#20ffd0" d="M112 252h4v4h-4zM108 256h4v4h-4z"/>
<path fill="#28ffd0" d="M116 252h4v4h-4z"/>
<path fill="#40ffd8" d="M132 252h4v4h-4zM124 256h4v4h-4z"/>
<path fill="#48ffd8" d="M136 252h4v4h-4z"/>
<path fill="#80ffd8" d="M140 252h4v4h-4z"/>
<path fill="#a0ffd8" d="M144 252h4v4h-4z"/>
<path fill="#b8ffd8" d="M148 252h4v4h-4z"/>
<path fill="#c8ffd8" d="M152 252h4v4h-4z"/>
<path fill="#e0ffd8" d="M156 252h4v4h-4z"/>
<path fill="#f0ffd0" d="M160 252h4v4h-4z"/>
<path fill="#ffffd0" d="M164 252h4v4h-4z"/>
<path fill="#fff0c0" d="M168 252h4v4h-4z"/>
<path fill="#ffd8b0" d="M172 252h4v4h-4z"/>
<path fill="#ffc090" d="M180 252h4v4h-4z"/>
<path fill="#ffb088" d="M184 252h4v4h-4z"/>
<path fill="#ffa080" d="M188 252h4v4h-4zM188 256h4v4h-4z"/>
<path fill="#ff9870" d="M192 252h4v4h-4z"/>
<path fill="#ff9068" d="M196 252h4v4h-4z"/>
<path fill="#ff8060" d="M200 252h4v4h-4z"/>
<path fill="#ff7858" d="M204 252h4v4h-4z"/>
<path fill="#ff7050" d="M208 252h4v4h-4z"/>
<path fill="#ff6848" d="M212 252h4v4h-4z"/>
<path fill="#ff6048" d="M216 252h4v4h-4z"/>
<path fill="#ff5840" d="M220 252h4v4h-4z"/>
<path fill="#ff5038" d="M224 252h8v4h-8z"/>
<path fill="#ff4830" d="M232 252h4v4h-4z"/>
<path fill="#ff4030" d="M236 252h4v4h-4z"/>
<path fill="#ff3828" d="M240 252h8v4h-8z"/>
<path fill="#ff3020" d="M248 252h4v4h-4z"/>
<path fill="#ff2820" d="M252 252h4v4h-4z"/>
<path fill="#ff2018" d="M256 252h4v4h-4z"/>
<path fill="#ff1818" d="M260 252h4v4h-4z"/>
<path fill="#ff1010" d="M264 252h4v4h-4z"/>
<path fill="#ff0010" d="M268 252h4v4h-4zM272 256h8v4h-8zM276 260h12v4h-12zM284 264h8v4h-8zM288 268h12v4h-12zM296 272h12v4h-12zM324 284h4v4h-4z"/>
<path fill="#ff0008" d="M272 252h4v4h-4zM280 256h4v4h-4zM288 260h4v4h-4zM292 264h4v4h-4zM300 268h4v4h-4zM308 272h4v4h-4z"/>
<path fill="#00ffd0" d="M64 256h20v4h-20zM40 260h40v4h-40z"/>
<path fill="#08ffd0" d="M84 256h12v4h-12zM80 260h8v4h-8z"/>
<path fill="#10ffd0" d="M96 256h8v4h-8z"/>
<path fill="#28ffd8" d="M112 256h4v4h-4z"/>
<path fill="#30ffd8" d="M116 256h4v4h-4z"/>
<path fill="#38ffd8" d="M120 256h4v4h-4z"/>
<path fill="#40ffe0" d="M128 256h4v4h-4zM120 260h8v4h-8z"/>
<path fill="#48ffe0" d="M132 256h4v4h-4z"/>
<path fill="#60ffe0" d="M136 256h4v4h-4z"/>
<path fill="#90ffe0" d="M140 256h4v4h-4z"/>
<path fill="#b0ffe0" d="M144 256h4v4h-4z"/>
<path fill="#c0ffe0" d="M148 256h4v4h-4z"/>
<path fill="#d8ffe0" d="M152 256h4v4h-4z"/>
<path fill="#e8ffe0" d="M156 256h4v4h-4z"/>
<path fill="#f8ffe0" d="M160 256h4v4h-4z"/>
<path fill="#fff0d0" d="M164 256h4v4h-4zM164 260h4v4h-4z"/>
<path fill="#ffe0c0" d="M168 256h4v4h-4z"/>
<path fill="#ffd0b0" d="M172 256h4v4h-4z"/>
<path fill="#ffc8a8" d="M176 256h4v4h-4z"/>
<path fill="#ffb898" d="M180 256h4v4h-4z"/>
<path fill="#ffa890" d="M184 256h4v4h-4zM184 260h4v4h-4z"/>
<path fill="#ff9078" d="M192 256h4v4h-4zM192 260h4v4h-4z"/>
<path fill="#ff8870" d="M196 256h4v4h-4z"/>
<path fill="#ff8068" d="M200 256h4v4h-4z"/>
<path fill="#ff7060" d="M204 256h4v4h-4zM204 260h4v4h-4z"/>
<path fill="#ff6858" d="M208 256h4v4h-4zM208 260h4v4h-4z"/>
<path fill="#ff6050" d="M212 256h4v4h-4zM212 260h4v4h-4z"/>
<path fill="#ff5848" d="M216 256h4v4h-4z"/>
<path fill="#ff5040" d="M220 256h8v4h-8z"/>
<path fill="#ff4838" d="M228 256h4v4h-4z"/>
<path fill="#ff4038" d="M232 256h4v4h-4z"/>
<path fill="#ff3830" d="M236 256h4v4h-4z"/>
<path fill="#ff3030" d="M240 256h4v4h-4z"/>
<path fill="#ff3028" d="M244 256h4v4h-4z"/>
<path fill="#ff2828" d="M248 256h4v4h-4z"/>
<path fill="#ff2020" d="M252 256h4v4h-4z"/>
<path fill="#ff1820" d="M256 256h4v4h-4z"/>
<path fill="#ff0820" d="M260 256h4v4h-4z"/>
<path fill="#ff0018" d="M264 256h8v4h-8zM268 260h8v4h-8zM276 264h8v4h-8zM280 268h8v4h-8zM288 272h8v4h-8zM292 276h8v4h-8z"/>
<path fill="#08ffd8" d="M88 260h4v4h-4zM80 264h12v4h-12z"/>
<path fill="#10ffd8" d="M92 260h8v4h-8z"/>
<path fill="#18ffd8" d="M100 260h4v4h-4z"/>
<path fill="#20ffd8" d="M104 260h8v4h-8z"/>
<path fill="#28ffe0" d="M112 260h4v4h-4zM108 264h4v4h-4z"/>
<path fill="#30ffe0" d="M116 260h4v4h-4zM112 264h4v4h-4z"/>
<path fill="#50ffe0" d="M128 260h4v4h-4z"/>
<path fill="#50ffe8" d="M132 260h4v4h-4zM124 264h4v4h-4z"/>
<path fill="#80ffe8" d="M136 260h4v4h-4z"/>
<path fill="#a0ffe8" d="M140 260h4v4h-4z"/>
<path fill="#b8ffe8" d="M144 260h4v4h-4z"/>
<path fill="#d0ffe8" d="M148 260h4v4h-4z"/>
<path fill="#e0ffe8" d="M152 260h4v4h-4z"/>
<path fill="#f0ffe8" d="M156 260h4v4h-4z"/>
<path fill="#ffffe0" d="M160 260h4v4h-4z"/>
<path fill="#ffe0c8" d="M168 260h4v4h-4z"/>
<path fill="#ffd0b8" d="M172 260h4v4h-4z"/>
<path fill="#ffc0a8" d="M176 260h4v4h-4z"/>
<path fill="#ffb0a0" d="M180 260h4v4h-4zM180 264h4v4h-4z"/>
<path fill="#ff9888" d="M188 260h4v4h-4z"/>
<path fill="#ff8070" d="M196 260h4v4h-4z"/>
<path fill="#ff7868" d="M200 260h4v4h-4z"/>
<path fill="#ff5050" d="M216 260h4v4h-4zM216 264h4v4h-4z"/>
<path fill="#ff5048" d="M220 260h4v4h-4z"/>
<path fill="#ff4840" d="M224 260h4v4h-4z"/>
<path fill="#ff4040" d="M228 260h4v4h-4z"/>
<path fill="#ff3838" d="M232 260h4v4h-4z"/>
<path fill="#ff3038" d="M236 260h4v4h-4z"/>
<path fill="#ff2830" d="M240 260h4v4h-4z"/>
<path fill="#ff2030" d="M244 260h8v4h-8z"/>
<path fill="#ff1028" d="M252 260h4v4h-4z"/>
<path fill="#ff0028" d="M256 260h4v4h-4zM256 264h8v4h-8zM260 268h8v4h-8zM264 272h8v4h-8zM268 276h12v4h-12zM272 280h12v4h-12zM280 284h4v4h-4z"/>
<path fill="#ff0020" d="M260 260h8v4h-8zM264 264h12v4h-12zM268 268h12v4h-12zM272 272h16v4h-16zM280 276h12v4h-12zM284 280h8v4h-8z"/>
<path fill="#00ffd8" d="M44 264h36v4h-36zM44 268h8v4h-8z"/>
<path fill="#10ffe0" d="M92 264h8v4h-8zM92 268h4v4h-4z"/>
<path fill="#18ffe0" d="M100 264h4v4h-4z"/>
<path fill="#20ffe0" d="M104 264h4v4h-4z"/>
<path fill="#38ffe8" d="M116 264h4v4h-4z"/>
<path fill="#40ffe8" d="M120 264h4v4h-4z"/>
<path fill="#58ffe8" d="M128 264h4v4h-4z"/>
<path fill="#60fff0" d="M132 264h4v4h-4zM128 268h4v4h-4z"/>
<path fill="#90fff0" d="M136 264h4v4h-4z"/>
<path fill="#b0fff0" d="M140 264h4v4h-4z"/>
<path fill="#c8fff0" d="M144 264h4v4h-4z"/>
<path fill="#d8fff0" d="M148 264h4v4h-4z"/>
<path fill="#e8fff0" d="M152 264h4v4h-4z"/>
<path fill="#f8fff0" d="M156 264h4v4h-4z"/>
<path fill="#fff0e8" d="M160 264h4v4h-4zM160 268h4v4h-4z"/>
<path fill="#ffe0d8" d="M164 264h4v4h-4zM164 268h4v4h-4z"/>
<path fill="#ffd8c8" d="M168 264h4v4h-4z"/>
<path fill="#ffc8b8" d="M172 264h4v4h-4z"/>
<path fill="#ffb8b0" d="M176 264h4v4h-4zM176 268h4v4h-4z"/>
<path fill="#ffa098" d="M184 264h4v4h-4z"/>
<path fill="#ff9088" d="M188 264h4v4h-4z"/>
<path fill="#ff8880" d="M192 264h4v4h-4z"/>
<path fill="#ff8078" d="M196 264h4v4h-4z"/>
<path fill="#ff7070" d="M200 264h4v4h-4z"/>
<path fill="#ff6868" d="M204 264h4v4h-4z"/>
<path fill="#ff6060" d="M208 264h4v4h-4z"/>
<path fill="#ff5858" d="M212 264h4v4h-4z"/>
<path fill="#ff4850" d="M220 264h4v4h-4zM216 268h4v4h-4z"/>
<path fill="#ff4048" d="M224 264h4v4h-4z"/>
<path fill="#ff3840" d="M228 264h4v4h-4z"/>
<path fill="#ff3040" d="M232 264h4v4h-4z"/>
<path fill="#ff2838" d="M236 264h4v4h-4z"/>
<path fill="#ff2038" d="M240 264h4v4h-4z"/>
<path fill="#ff1830" d="M244 264h4v4h-4z"/>
<path fill="#ff1030" d="M248 264h4v4h-4z"/>
<path fill="#ff0030" d="M252 264h4v4h-4zM248 268h12v4h-12zM252 272h12v4h-12zM256 276h12v4h-12zM260 280h12v4h-12zM264 284h16v4h-16zM268 288h8v4h-8z"/>
<path fill="#00ffe0" d="M52 268h28v4h-28zM44 272h28v4h-28z"/>
<path fill="#08ffe0" d="M80 268h12v4h-12z"/>
<path fill="#10ffe8" d="M96 268h4v4h-4zM88 272h8v4h-8z"/>
<path fill="#18ffe8" d="M100 268h4v4h-4z"/>
<path fill="#20ffe8" d="M104 268h4v4h-4z"/>
<path fill="#28ffe8" d="M108 268h4v4h-4z"/>
<path fill="#30ffe8" d="M112 268h4v4h-4z"/>
<path fill="#40fff0" d="M116 268h4v4h-4zM116 272h4v4h-4z"/>
<path fill="#48fff0" d="M120 268h4v4h-4z"/>
<path fill="#50fff0" d="M124 268h4v4h-4z"/>
<path fill="#70fff0" d="M132 268h4v4h-4z"/>
<path fill="#a0fff8" d="M136 268h4v4h-4z"/>
<path fill="#c0fff8" d="M140 268h4v4h-4z"/>
<path fill="#d0fff8" d="M144 268h4v4h-4z"/>
<path fill="#e0fff8" d="M148 268h4v4h-4z"/>
<path fill="#f0fff8" d="M152 268h4v4h-4z"/>
<path fill="#fff8f0" d="M156 268h4v4h-4z"/>
<path fill="#ffd0c8" d="M168 268h4v4h-4z"/>
<path fill="#ffc0c0" d="M172 268h4v4h-4zM172 272h4v4h-4z"/>
<path fill="#ffa8a8" d="M180 268h4v4h-4z"/>
<path fill="#ff9898" d="M184 268h4v4h-4z"/>
<path fill="#ff9090" d="M188 268h4v4h-4z"/>
<path fill="#ff8080" d="M192 268h4v4h-4z"/>
<path fill="#ff7878" d="M196 268h4v4h-4z"/>
<path fill="#ff6870" d="M200 268h4v4h-4z"/>
<path fill="#ff6068" d="M204 268h4v4h-4z"/>
<path fill="#ff5860" d="M208 268h4v4h-4z"/>
<path fill="#ff5058" d="M212 268h4v4h-4z"/>
<path fill="#ff4050" d="M220 268h4v4h-4z"/>
<path fill="#ff3848" d="M224 268h4v4h-4z"/>
<path fill="#ff3048" d="M228 268h4v4h-4z"/>
<path fill="#ff2840" d="M232 268h4v4h-4z"/>
<path fill="#ff2040" d="M236 268h4v4h-4z"/>
<path fill="#ff1038" d="M240 268h4v4h-4z"/>
<path fill="#ff0038" d="M244 268h4v4h-4zM244 272h8v4h-8zM248 276h8v4h-8zM252 280h8v4h-8zM256 284h8v4h-8zM260 288h8v4h-8zM264 292h4v4h-4z"/>
<path fill="#00ffe8" d="M72 272h8v4h-8zM44 276h28v4h-28z"/>
<path fill="#08ffe8" d="M80 272h8v4h-8z"/>
<path fill="#18fff0" d="M96 272h4v4h-4zM96 276h4v4h-4z"/>
<path fill="#20fff0" d="M100 272h8v4h-8z"/>
<path fill="#30fff0" d="M108 272h4v4h-4z"/>
<path fill="#38fff0" d="M112 272h4v4h-4z"/>
<path fill="#50fff8" d="M120 272h4v4h-4z"/>
<path fill="#58fff8" d="M124 272h4v4h-4z"/>
<path fill="#60fff8" d="M128 272h4v4h-4z"/>
<path fill="#88fff8" d="M132 272h4v4h-4z"/>
<path fill="#b0fff8" d="M136 272h4v4h-4z"/>
<path fill="#c8ffff" d="M140 272h4v4h-4z"/>
<path fill="#d8ffff" d="M144 272h4v4h-4z"/>
<path fill="#f0ffff" d="M148 272h4v4h-4z"/>
<path fill="#ffffff" d="M152 272h4v4h-4z"/>
<path fill="#fff0f0" d="M156 272h4v4h-4zM156 276h4v4h-4z"/>
<path fill="#ffe8e8" d="M160 272h4v4h-4z"/>
<path fill="#ffd8d8" d="M164 272h4v4h-4z"/>
<path fill="#ffc8d0" d="M168 272h4v4h-4zM168 276h4v4h-4z"/>
<path fill="#ffb0b8" d="M176 272h4v4h-4z"/>
<path fill="#ffa0a8" d="M180 272h4v4h-4z"/>
<path fill="#ff98a0" d="M184 272h4v4h-4z"/>
<path fill="#ff8890" d="M188 272h4v4h-4z"/>
<path fill="#ff7888" d="M192 272h4v4h-4z"/>
<path fill="#ff7080" d="M196 272h4v4h-4z"/>
<path fill="#ff6070" d="M200 272h4v4h-4z"/>
<path fill="#ff5870" d="M204 272h4v4h-4z"/>
<path fill="#ff5060" d="M208 272h4v4h-4z"/>
<path fill="#ff4860" d="M212 272h4v4h-4z"/>
<path fill="#ff4058" d="M216 272h4v4h-4z"/>
<path fill="#ff3850" d="M220 272h4v4h-4z"/>
<path fill="#ff3050" d="M224 272h4v4h-4z"/>
<path fill="#ff2048" d="M228 272h4v4h-4z"/>
<path fill="#ff1848" d="M232 272h4v4h-4z"/>
<path fill="#ff1040" d="M236 272h4v4h-4z"/>
<path fill="#ff0040" d="M240 272h4v4h-4zM236 276h12v4h-12zM240 280h12v4h-12zM244 284h12v4h-12zM248 288h12v4h-12zM252 292h12v4h-12zM252 296h8v4h-8z"/>
<path fill="#00fff0" d="M72 276h8v4h-8zM48 280h28v4h-28zM48 284h8v4h-8z"/>
<path fill="#08fff0" d="M80 276h8v4h-8zM76 280h4v4h-4z"/>
<path fill="#10fff0" d="M88 276h8v4h-8z"/>
<path fill="#20fff8" d="M100 276h4v4h-4z"/>
<path fill="#28fff8" d="M104 276h4v4h-4z"/>
<path fill="#30fff8" d="M108 276h4v4h-4z"/>
<path fill="#38fff8" d="M112 276h4v4h-4z"/>
<path fill="#48fff8" d="M116 276h4v4h-4z"/>
<path fill="#50ffff" d="M120 276h4v4h-4z"/>
<path fill="#60ffff" d="M124 276h4v4h-4z"/>
<path fill="#68ffff" d="M128 276h4v4h-4z"/>
<path fill="#98ffff" d="M132 276h4v4h-4z"/>
<path fill="#b8ffff" d="M136 276h4v4h-4z"/>
<path fill="#d0ffff" d="M140 276h4v4h-4z"/>
<path fill="#e0f8ff" d="M144 276h4v4h-4zM144 280h4v4h-4z"/>
<path fill="#f0f8ff" d="M148 276h4v4h-4z"/>
<path fill="#fff8ff" d="M152 276h4v4h-4z"/>
<path fill="#ffe0e8" d="M160 276h4v4h-4z"/>
<path fill="#ffd0e0" d="M164 276h4v4h-4zM164 280h4v4h-4z"/>
<path fill="#ffb8c0" d="M172 276h4v4h-4z"/>
<path fill="#ffa8b8" d="M176 276h4v4h-4zM176 280h4v4h-4z"/>
<path fill="#ffa0b0" d="M180 276h4v4h-4z"/>
<path fill="#ff90a0" d="M184 276h4v4h-4z"/>
<path fill="#ff8098" d="M188 276h4v4h-4z"/>
<path fill="#ff7088" d="M192 276h4v4h-4z"/>
<path fill="#ff6880" d="M196 276h4v4h-4z"/>
<path fill="#ff6078" d="M200 276h4v4h-4z"/>
<path fill="#ff5070" d="M204 276h4v4h-4z"/>
<path fill="#ff4868" d="M208 276h4v4h-4z"/>
<path fill="#ff4060" d="M212 276h4v4h-4z"/>
<path fill="#ff3858" d="M216 276h4v4h-4z"/>
<path fill="#ff2858" d="M220 276h4v4h-4z"/>
<path fill="#ff2050" d="M224 276h4v4h-4z"/>
<path fill="#ff1850" d="M228 276h4v4h-4z"/>
<path fill="#ff0048" d="M232 276h4v4h-4zM232 280h8v4h-8zM236 284h8v4h-8zM240 288h8v4h-8zM240 292h12v4h-12zM244 296h8v4h-8zM248 300h4v4h-4z"/>
<path fill="#08fff8" d="M80 280h8v4h-8zM76 284h4v4h-4z"/>
<path fill="#10fff8" d="M88 280h8v4h-8z"/>
<path fill="#18fff8" d="M96 280h4v4h-4z"/>
<path fill="#20ffff" d="M100 280h4v4h-4z"/>
<path fill="#28ffff" d="M104 280h4v4h-4z"/>
<path fill="#30ffff" d="M108 280h4v4h-4z"/>
<path fill="#40ffff" d="M112 280h4v4h-4z"/>
<path fill="#48ffff" d="M116 280h4v4h-4z"/>
<path fill="#50f8ff" d="M120 280h4v4h-4z"/>
<path fill="#60f8ff" d="M124 280h4v4h-4z"/>
<path fill="#70f8ff" d="M128 280h4v4h-4z"/>
<path fill="#a8f8ff" d="M132 280h4v4h-4z"/>
<path fill="#c0f8ff" d="M136 280h4v4h-4z"/>
<path fill="#d0f8ff" d="M140 280h4v4h-4z"/>
<path fill="#f0f0ff" d="M148 280h4v4h-4zM148 284h4v4h-4z"/>
<path fill="#fff0ff" d="M152 280h4v4h-4zM152 284h4v4h-4z"/>
<path fill="#ffe8f0" d="M156 280h4v4h-4z"/>
<path fill="#ffd8e8" d="M160 280h4v4h-4z"/>
<path fill="#ffc0d0" d="M168 280h4v4h-4z"/>
<path fill="#ffb0c8" d="M172 280h4v4h-4zM172 284h4v4h-4z"/>
<path fill="#ff98b0" d="M180 280h4v4h-4z"/>
<path fill="#ff88a0" d="M184 280h4v4h-4z"/>
<path fill="#ff7898" d="M188 280h4v4h-4z"/>
<path fill="#ff7090" d="M192 280h4v4h-4z"/>
<path fill="#ff6080" d="M196 280h4v4h-4z"/>
<path fill="#ff5878" d="M200 280h4v4h-4z"/>
<path fill="#ff4870" d="M204 280h4v4h-4z"/>
<path fill="#ff4068" d="M208 280h4v4h-4z"/>
<path fill="#ff3060" d="M212 280h4v4h-4z"/>
<path fill="#ff2860" d="M216 280h4v4h-4z"/>
<path fill="#ff2058" d="M220 280h4v4h-4z"/>
<path fill="#ff1050" d="M224 280h4v4h-4z"/>
<path fill="#ff0050" d="M228 280h4v4h-4zM228 284h8v4h-8zM228 288h12v4h-12zM232 292h8v4h-8zM232 296h12v4h-12zM236 300h12v4h-12zM240 304h4v4h-4z"/>
<path fill="#00fff8" d="M56 284h20v4h-20zM48 288h8v4h-8z"/>
<path fill="#08ffff" d="M80 284h8v4h-8z"/>
<path fill="#10ffff" d="M88 284h8v4h-8z"/>
<path fill="#18f8ff" d="M96 284h4v4h-4z"/>
<path fill="#20f8ff" d="M100 284h4v4h-4z"/>
<path fill="#28f8ff" d="M104 284h4v4h-4z"/>
<path fill="#30f8ff" d="M108 284h4v4h-4z"/>
<path fill="#40f8ff" d="M112 284h4v4h-4z"/>
<path fill="#48f8ff" d="M116 284h4v4h-4z"/>
<path fill="#58f8ff" d="M120 284h4v4h-4z"/>
<path fill="#60f0ff" d="M124 284h4v4h-4zM124 288h4v4h-4z"/>
<path fill="#88f0ff" d="M128 284h4v4h-4z"/>
<path fill="#b0f0ff" d="M132 284h4v4h-4zM132 288h4v4h-4z"/>
<path fill="#c8f0ff" d="M136 284h4v4h-4zM136 288h4v4h-4z"/>
<path fill="#d8f0ff" d="M140 284h4v4h-4zM140 288h4v4h-4z"/>
<path fill="#e8f0ff" d="M144 284h4v4h-4z"/>
<path fill="#ffe0f0" d="M156 284h4v4h-4z"/>
<path fill="#ffd0e8" d="M160 284h4v4h-4zM160 288h4v4h-4z"/>
<path fill="#ffc8e0" d="M164 284h4v4h-4z"/>
<path fill="#ffb8d0" d="M168 284h4v4h-4z"/>
<path fill="#ffa0c0" d="M176 284h4v4h-4z"/>
<path fill="#ff90b0" d="M180 284h4v4h-4z"/>
<path fill="#ff80a8" d="M184 284h4v4h-4z"/>
<path fill="#ff7098" d="M188 284h4v4h-4zM188 288h4v4h-4z"/>
<path fill="#ff6890" d="M192 284h4v4h-4z"/>
<path fill="#ff5888" d="M196 284h4v4h-4z"/>
<path fill="#ff5080" d="M200 284h4v4h-4z"/>
<path fill="#ff4070" d="M204 284h4v4h-4z"/>
<path fill="#ff3870" d="M208 284h4v4h-4z"/>
<path fill="#ff2868" d="M212 284h4v4h-4z"/>
<path fill="#ff2060" d="M216 284h4v4h-4z"/>
<path fill="#ff0858" d="M220 284h4v4h-4z"/>
<path fill="#ff0058" d="M224 284h4v4h-4zM224 288h4v4h-4zM224 292h8v4h-8zM228 296h4v4h-4zM228 300h8v4h-8zM232 304h8v4h-8zM232 308h4v4h-4z"/>
<path fill="#00ffff" d="M56 288h20v4h-20zM48 292h8v4h-8z"/>
<path fill="#08f8ff" d="M76 288h12v4h-12z"/>
<path fill="#10f8ff" d="M88 288h8v4h-8z"/>
<path fill="#18f0ff" d="M96 288h4v4h-4zM96 292h4v4h-4z"/>
<path fill="#20f0ff" d="M100 288h4v4h-4z"/>
<path fill="#28f0ff" d="M104 288h4v4h-4z"/>
<path fill="#30f0ff" d="M108 288h4v4h-4z"/>
<path fill="#40f0ff" d="M112 288h4v4h-4z"/>
<path fill="#48f0ff" d="M116 288h4v4h-4z"/>
<path fill="#58f0ff" d="M120 288h4v4h-4z"/>
<path fill="#90f0ff" d="M128 288h4v4h-4z"/>
<path fill="#e8e8ff" d="M144 288h4v4h-4zM144 292h4v4h-4z"/>
<path fill="#f0e8ff" d="M148 288h4v4h-4z"/>
<path fill="#ffe8ff" d="M152 288h4v4h-4z"/>
<path fill="#ffd8f0" d="M156 288h4v4h-4z"/>
<path fill="#ffc0e0" d="M164 288h4v4h-4z"/>
<path fill="#ffb0d0" d="M168 288h4v4h-4zM168 292h4v4h-4z"/>
<path fill="#ffa8c8" d="M172 288h4v4h-4z"/>
<path fill="#ff98c0" d="M176 288h4v4h-4z"/>
<path fill="#ff88b0" d="M180 288h4v4h-4z"/>
<path fill="#ff78a8" d="M184 288h4v4h-4z"/>
<path fill="#ff6090" d="M192 288h4v4h-4z"/>
<path fill="#ff5088" d="M196 288h4v4h-4z"/>
<path fill="#ff4080" d="M200 288h4v4h-4z"/>
<path fill="#ff3878" d="M204 288h4v4h-4z"/>
<path fill="#ff2870" d="M208 288h4v4h-4z"/>
<path fill="#ff1868" d="M212 288h4v4h-4z"/>
<path fill="#ff0860" d="M216 288h4v4h-4zM216 292h4v4h-4z"/>
<path fill="#ff0060" d="M220 288h4v4h-4zM220 292h4v4h-4zM220 296h8v4h-8zM220 300h8v4h-8zM224 304h8v4h-8zM224 308h8v4h-8z"/>
<path fill="#00f8ff" d="M56 292h20v4h-20zM52 296h4v4h-4z"/>
<path fill="#08f0ff" d="M76 292h12v4h-12z"/>
<path fill="#10f0ff" d="M88 292h8v4h-8z"/>
<path fill="#20e8ff" d="M100 292h4v4h-4z"/>
<path fill="#28e8ff" d="M104 292h4v4h-4z"/>
<path fill="#30e8ff" d="M108 292h4v4h-4z"/>
<path fill="#40e8ff" d="M112 292h4v4h-4z"/>
<path fill="#48e8ff" d="M116 292h4v4h-4z"/>
<path fill="#50e8ff" d="M120 292h4v4h-4z"/>
<path fill="#60e8ff" d="M124 292h4v4h-4z"/>
<path fill="#98e8ff" d="M128 292h4v4h-4z"/>
<path fill="#b0e8ff" d="M132 292h4v4h-4z"/>
<path fill="#c8e8ff" d="M136 292h4v4h-4z"/>
<path fill="#d8e8ff" d="M140 292h4v4h-4z"/>
<path fill="#f8e0ff" d="M148 292h4v4h-4z"/>
<path fill="#ffe0ff" d="M152 292h4v4h-4z"/>
<path fill="#ffd0f0" d="M156 292h4v4h-4z"/>
<path fill="#ffc8e8" d="M160 292h4v4h-4z"/>
<path fill="#ffb8e0" d="M164 292h4v4h-4z"/>
<path fill="#ffa0c8" d="M172 292h4v4h-4z"/>
<path fill="#ff90c0" d="M176 292h4v4h-4z"/>
<path fill="#ff80b0" d="M180 292h4v4h-4z"/>
<path fill="#ff70a8" d="M184 292h4v4h-4z"/>
<path fill="#ff60a0" d="M188 292h4v4h-4z"/>
<path fill="#ff5090" d="M192 292h4v4h-4z"/>
<path fill="#ff4888" d="M196 292h4v4h-4z"/>
<path fill="#ff3880" d="M200 292h4v4h-4z"/>
<path fill="#ff2878" d="M204 292h4v4h-4z"/>
<path fill="#ff1070" d="M208 292h4v4h-4z"/>
<path fill="#ff0868" d="M212 292h4v4h-4zM216 296h4v4h-4zM216 300h4v4h-4zM216 304h4v4h-4z"/>
<path fill="#00f0ff" d="M56 296h24v4h-24zM52 300h8v4h-8z"/>
<path fill="#08e8ff" d="M80 296h8v4h-8z"/>
<path fill="#10e8ff" d="M88 296h8v4h-8z"/>
<path fill="#18e0ff" d="M96 296h4v4h-4zM96 300h4v4h-4z"/>
<path fill="#20e0ff" d="M100 296h4v4h-4z"/>
<path fill="#28e0ff" d="M104 296h4v4h-4z"/>
<path fill="#30e0ff" d="M108 296h4v4h-4z"/>
<path fill="#38e0ff" d="M112 296h4v4h-4z"/>
<path fill="#48e0ff" d="M116 296h4v4h-4z"/>
<path fill="#50e0ff" d="M120 296h4v4h-4z"/>
<path fill="#70e0ff" d="M124 296h4v4h-4z"/>
<path fill="#a0e0ff" d="M128 296h4v4h-4z"/>
<path fill="#b8e0ff" d="M132 296h4v4h-4z"/>
<path fill="#c8e0ff" d="M136 296h4v4h-4z"/>
<path fill="#d8e0ff" d="M140 296h4v4h-4z"/>
<path fill="#e8e0ff" d="M144 296h4v4h-4z"/>
<path fill="#f8d8ff" d="M148 296h4v4h-4z"/>
<path fill="#ffd8ff" d="M152 296h4v4h-4z"/>
<path fill="#ffc8f0" d="M156 296h4v4h-4z"/>
<path fill="#ffc0e8" d="M160 296h4v4h-4z"/>
<path fill="#ffb0e0" d="M164 296h4v4h-4z"/>
<path fill="#ffa0d0" d="M168 296h4v4h-4z"/>
<path fill="#ff98c8" d="M172 296h4v4h-4z"/>
<path fill="#ff88c0" d="M176 296h4v4h-4z"/>
<path fill="#ff78b0" d="M180 296h4v4h-4z"/>
<path fill="#ff68a8" d="M184 296h4v4h-4z"/>
<path fill="#ff58a0" d="M188 296h4v4h-4z"/>
<path fill="#ff4890" d="M192 296h4v4h-4z"/>
<path fill="#ff3888" d="M196 296h4v4h-4z"/>
<path fill="#ff2880" d="M200 296h4v4h-4z"/>
<path fill="#ff1078" d="M204 296h4v4h-4zM204 300h4v4h-4z"/>
<path fill="#ff0870" d="M208 296h8v4h-8zM208 300h8v4h-8zM212 304h4v4h-4zM212 308h4v4h-4zM212 312h4v4h-4zM212 316h4v4h-4z"/>
<path fill="#00e8ff" d="M60 300h16v4h-16zM52 304h8v4h-8z"/>
<path fill="#00e0ff" d="M76 300h4v4h-4zM60 304h20v4h-20zM56 308h12v4h-12z"/>
<path fill="#08e0ff" d="M80 300h8v4h-8z"/>
<path fill="#10e0ff" d="M88 300h8v4h-8z"/>
<path fill="#20d8ff" d="M100 300h8v4h-8z"/>
<path fill="#30d8ff" d="M108 300h4v4h-4z"/>
<path fill="#38d8ff" d="M112 300h4v4h-4z"/>
<path fill="#40d8ff" d="M116 300h4v4h-4z"/>
<path fill="#50d8ff" d="M120 300h4v4h-4z"/>
<path fill="#80d8ff" d="M124 300h4v4h-4z"/>
<path fill="#a0d8ff" d="M128 300h4v4h-4z"/>
<path fill="#b8d8ff" d="M132 300h4v4h-4z"/>
<path fill="#c8d8ff" d="M136 300h4v4h-4z"/>
<path fill="#d8d8ff" d="M140 300h4v4h-4z"/>
<path fill="#e8d8ff" d="M144 300h4v4h-4z"/>
<path fill="#f8d0ff" d="M148 300h4v4h-4z"/>
<path fill="#ffd0ff" d="M152 300h4v4h-4z"/>
<path fill="#ffc0f0" d="M156 300h4v4h-4z"/>
<path fill="#ffb8e8" d="M160 300h4v4h-4z"/>
<path fill="#ffa8e0" d="M164 300h4v4h-4z"/>
<path fill="#ff98d0" d="M168 300h4v4h-4z"/>
<path fill="#ff88c8" d="M172 300h4v4h-4z"/>
<path fill="#ff78c0" d="M176 300h4v4h-4z"/>
<path fill="#ff68b0" d="M180 300h4v4h-4z"/>
<path fill="#ff58a8" d="M184 300h4v4h-4z"/>
<path fill="#ff48a0" d="M188 300h4v4h-4z"/>
<path fill="#ff3890" d="M192 300h4v4h-4z"/>
<path fill="#ff2088" d="M196 300h4v4h-4z"/>
<path fill="#ff1080" d="M200 300h4v4h-4zM200 304h8v4h-8zM204 308h4v4h-4z"/>
<path fill="#08d8ff" d="M80 304h12v4h-12z"/>
<path fill="#10d8ff" d="M92 304h8v4h-8z"/>
<path fill="#18d0ff" d="M100 304h4v4h-4z"/>
<path fill="#20d0ff" d="M104 304h4v4h-4z"/>
<path fill="#28d0ff" d="M108 304h4v4h-4z"/>
<path fill="#30d0ff" d="M112 304h4v4h-4z"/>
<path fill="#40d0ff" d="M116 304h4v4h-4z"/>
<path fill="#48d0ff" d="M120 304h4v4h-4z"/>
<path fill="#80d0ff" d="M124 304h4v4h-4z"/>
<path fill="#a0d0ff" d="M128 304h4v4h-4z"/>
<path fill="#b8d0ff" d="M132 304h4v4h-4z"/>
<path fill="#c8d0ff" d="M136 304h4v4h-4z"/>
<path fill="#d8d0ff" d="M140 304h4v4h-4z"/>
<path fill="#e8d0ff" d="M144 304h4v4h-4z"/>
<path fill="#f8c8ff" d="M148 304h4v4h-4z"/>
<path fill="#ffc0f8" d="M152 304h4v4h-4z"/>
<path fill="#ffb8f0" d="M156 304h4v4h-4z"/>
<path fill="#ffa8e8" d="M160 304h4v4h-4z"/>
<path fill="#ffa0d8" d="M164 304h4v4h-4z"/>
<path fill="#ff90d0" d="M168 304h4v4h-4z"/>
<path fill="#ff80c8" d="M172 304h4v4h-4z"/>
<path fill="#ff70c0" d="M176 304h4v4h-4z"/>
<path fill="#ff60b0" d="M180 304h4v4h-4z"/>
<path fill="#ff50a8" d="M184 304h4v4h-4z"/>
<path fill="#ff38a0" d="M188 304h4v4h-4z"/>
<path fill="#ff2098" d="M192 304h4v4h-4z"/>
<path fill="#ff1890" d="M196 304h4v4h-4zM196 308h4v4h-4z"/>
<path fill="#ff0878" d="M208 304h4v4h-4zM208 308h4v4h-4zM208 312h4v4h-4zM208 316h4v4h-4zM208 320h4v4h-4z"/>
<path fill="#ff0068" d="M220 304h4v4h-4zM220 308h4v4h-4zM220 312h8v4h-8z"/>
<path fill="#00d8ff" d="M68 308h12v4h-12zM56 312h12v4h-12z"/>
<path fill="#08d0ff" d="M80 308h12v4h-12zM80 312h4v4h-4z"/>
<path fill="#10d0ff" d="M92 308h8v4h-8z"/>
<path fill="#18c8ff" d="M100 308h4v4h-4z"/>
<path fill="#20c8ff" d="M104 308h4v4h-4z"/>
<path fill="#28c8ff" d="M108 308h4v4h-4z"/>
<path fill="#30c8ff" d="M112 308h4v4h-4z"/>
<path fill="#38c8ff" d="M116 308h4v4h-4z"/>
<path fill="#58c8ff" d="M120 308h4v4h-4z"/>
<path fill="#80c8ff" d="M124 308h4v4h-4z"/>
<path fill="#a0c8ff" d="M128 308h4v4h-4z"/>
<path fill="#b8c8ff" d="M132 308h4v4h-4z"/>
<path fill="#c8c8ff" d="M136 308h4v4h-4z"/>
<path fill="#d8c8ff" d="M140 308h4v4h-4z"/>
<path fill="#e8c0ff" d="M144 308h4v4h-4z"/>
<path fill="#f8c0ff" d="M148 308h4v4h-4z"/>
<path fill="#ffb8f8" d="M152 308h4v4h-4z"/>
<path fill="#ffa8f0" d="M156 308h4v4h-4z"/>
<path fill="#ffa0e0" d="M160 308h4v4h-4z"/>
<path fill="#ff90d8" d="M164 308h4v4h-4z"/>
<path fill="#ff80d0" d="M168 308h4v4h-4z"/>
<path fill="#ff70c8" d="M172 308h4v4h-4z"/>
<path fill="#ff60b8" d="M176 308h4v4h-4z"/>
<path fill="#ff50b0" d="M180 308h4v4h-4z"/>
<path fill="#ff38a8" d="M184 308h4v4h-4z"/>
<path fill="#ff20a0" d="M188 308h4v4h-4zM188 312h4v4h-4zM188 316h4v4h-4z"/>
<path fill="#ff1898" d="M192 308h4v4h-4zM192 312h4v4h-4zM192 316h4v4h-4z"/>
<path fill="#ff1088" d="M200 308h4v4h-4zM200 312h4v4h-4zM200 316h4v4h-4z"/>
<path fill="#ff0070" d="M216 308h4v4h-4zM216 312h4v4h-4zM216 316h4v4h-4z"/>
<path fill="#00d0ff" d="M68 312h12v4h-12zM56 316h12v4h-12z"/>
<path fill="#08c8ff" d="M84 312h8v4h-8z"/>
<path fill="#10c8ff" d="M92 312h8v4h-8z"/>
<path fill="#18c0ff" d="M100 312h4v4h-4z"/>
<path fill="#20c0ff" d="M104 312h8v4h-8z"/>
<path fill="#28c0ff" d="M112 312h4v4h-4z"/>
<path fill="#30c0ff" d="M116 312h4v4h-4z"/>
<path fill="#60c0ff" d="M120 312h4v4h-4z"/>
<path fill="#88c0ff" d="M124 312h4v4h-4z"/>
<path fill="#a0c0ff" d="M128 312h4v4h-4z"/>
<path fill="#b8c0ff" d="M132 312h4v4h-4z"/>
<path fill="#c8c0ff" d="M136 312h4v4h-4z"/>
<path fill="#d8b8ff" d="M140 312h4v4h-4z"/>
<path fill="#e8b8ff" d="M144 312h4v4h-4z"/>
<path fill="#f8b0ff" d="M148 312h4v4h-4z"/>
<path fill="#ffa8f8" d="M152 312h4v4h-4z"/>
<path fill="#ff98f0" d="M156 312h4v4h-4z"/>
<path fill="#ff90e0" d="M160 312h4v4h-4z"/>
<path fill="#ff80d8" d="M164 312h4v4h-4z"/>
<path fill="#ff70d0" d="M168 312h4v4h-4z"/>
<path fill="#ff60c0" d="M172 312h4v4h-4z"/>
<path fill="#ff48b8" d="M176 312h4v4h-4z"/>
<path fill="#ff30b0" d="M180 312h4v4h-4z"/>
<path fill="#ff28a8" d="M184 312h4v4h-4z"/>
<path fill="#ff1090" d="M196 312h4v4h-4zM196 316h4v4h-4zM196 320h4v4h-4zM196 324h4v4h-4z"/>
<path fill="#ff0880" d="M204 312h4v4h-4zM204 316h4v4h-4zM204 320h4v4h-4z"/>
<path fill="#00c8ff" d="M68 316h16v4h-16zM60 320h8v4h-8z"/>
<path fill="#08c0ff" d="M84 316h12v4h-12z"/>
<path fill="#10c0ff" d="M96 316h4v4h-4z"/>
<path fill="#10b8ff" d="M100 316h4v4h-4z"/>
<path fill="#18b8ff" d="M104 316h4v4h-4z"/>
<path fill="#20b8ff" d="M108 316h4v4h-4z"/>
<path fill="#28b8ff" d="M112 316h4v4h-4z"/>
<path fill="#30b8ff" d="M116 316h4v4h-4z"/>
<path fill="#68b8ff" d="M120 316h4v4h-4z"/>
<path fill="#88b0ff" d="M124 316h4v4h-4z"/>
<path fill="#a0b0ff" d="M128 316h4v4h-4z"/>
<path fill="#b8b0ff" d="M132 316h4v4h-4z"/>
<path fill="#c8b0ff" d="M136 316h4v4h-4z"/>
<path fill="#d8b0ff" d="M140 316h4v4h-4z"/>
<path fill="#e8a8ff" d="M144 316h4v4h-4z"/>
<path fill="#f8a0ff" d="M148 316h4v4h-4z"/>
<path fill="#ff98f8" d="M152 316h4v4h-4z"/>
<path fill="#ff88f0" d="M156 316h4v4h-4z"/>
<path fill="#ff78e0" d="M160 316h4v4h-4z"/>
<path fill="#ff70d8" d="M164 316h4v4h-4z"/>
<path fill="#ff58d0" d="M168 316h4v4h-4z"/>
<path fill="#ff40c0" d="M172 316h4v4h-4z"/>
<path fill="#ff30b8" d="M176 316h4v4h-4z"/>
<path fill="#ff28b0" d="M180 316h4v4h-4z"/>
<path fill="#ff20a8" d="M184 316h4v4h-4zM184 320h4v4h-4z"/>
<path fill="#00c0ff" d="M68 320h16v4h-16zM60 324h12v4h-12z"/>
<path fill="#08b8ff" d="M84 320h12v4h-12z"/>
<path fill="#10b0ff" d="M96 320h8v4h-8z"/>
<path fill="#18b0ff" d="M104 320h8v4h-8z"/>
<path fill="#20b0ff" d="M112 320h4v4h-4z"/>
<path fill="#40a8ff" d="M116 320h4v4h-4z"/>
<path fill="#68a8ff" d="M120 320h4v4h-4z"/>
<path fill="#88a8ff" d="M124 320h4v4h-4z"/>
<path fill="#a0a8ff" d="M128 320h4v4h-4z"/>
<path fill="#b8a8ff" d="M132 320h4v4h-4z"/>
<path fill="#c8a0ff" d="M136 320h4v4h-4z"/>
<path fill="#d8a0ff" d="M140 320h4v4h-4z"/>
<path fill="#e898ff" d="M144 320h4v4h-4z"/>
<path fill="#f890ff" d="M148 320h4v4h-4z"/>
<path fill="#ff80f8" d="M152 320h4v4h-4z"/>
<path fill="#ff78e8" d="M156 320h4v4h-4z"/>
<path fill="#ff68e0" d="M160 320h4v4h-4z"/>
<path fill="#ff50d8" d="M164 320h4v4h-4z"/>
<path fill="#ff38c8" d="M168 320h4v4h-4z"/>
<path fill="#ff30c0" d="M172 320h4v4h-4z"/>
<path fill="#ff28b8" d="M176 320h4v4h-4z"/>
<path fill="#ff20b0" d="M180 320h4v4h-4zM180 324h4v4h-4z"/>
<path fill="#ff18a0" d="M188 320h4v4h-4z"/>
<path fill="#ff1098" d="M192 320h4v4h-4zM192 324h4v4h-4zM192 328h4v4h-4z"/>
<path fill="#ff0888" d="M200 320h4v4h-4zM200 324h4v4h-4z"/>
<path fill="#00b8ff" d="M72 324h12v4h-12zM60 328h12v4h-12z"/>
<path fill="#00b0ff" d="M84 324h4v4h-4zM72 328h12v4h-12zM64 332h12v4h-12z"/>
<path fill="#08b0ff" d="M88 324h8v4h-8z"/>
<path fill="#08a8ff" d="M96 324h4v4h-4zM88 328h8v4h-8z"/>
<path fill="#10a8ff" d="M100 324h8v4h-8z"/>
<path fill="#18a0ff" d="M108 324h4v4h-4z"/>
<path fill="#20a0ff" d="M112 324h4v4h-4z"/>
<path fill="#48a0ff" d="M116 324h4v4h-4z"/>
<path fill="#70a0ff" d="M120 324h4v4h-4z"/>
<path fill="#88a0ff" d="M124 324h4v4h-4z"/>
<path fill="#a098ff" d="M128 324h4v4h-4z"/>
<path fill="#b898ff" d="M132 324h4v4h-4z"/>
<path fill="#c890ff" d="M136 324h4v4h-4z"/>
<path fill="#d890ff" d="M140 324h4v4h-4z"/>
<path fill="#e888ff" d="M144 324h4v4h-4z"/>
<path fill="#f880ff" d="M148 324h4v4h-4z"/>
<path fill="#ff70f8" d="M152 324h4v4h-4z"/>
<path fill="#ff60e8" d="M156 324h4v4h-4z"/>
<path fill="#ff48e0" d="M160 324h4v4h-4z"/>
<path fill="#ff30d0" d="M164 324h4v4h-4zM164 328h4v4h-4z"/>
<path fill="#ff30c8" d="M168 324h4v4h-4z"/>
<path fill="#ff28c0" d="M172 324h4v4h-4z"/>
<path fill="#ff20b8" d="M176 324h4v4h-4zM176 328h4v4h-4z"/>
<path fill="#ff18a8" d="M184 324h4v4h-4zM184 328h4v4h-4z"/>
<path fill="#ff10a0" d="M188 324h4v4h-4zM188 328h4v4h-4z"/>
<path fill="#00a8ff" d="M84 328h4v4h-4zM76 332h8v4h-8zM64 336h8v4h-8z"/>
<path fill="#08a0ff" d="M96 328h4v4h-4zM92 332h4v4h-4z"/>
<path fill="#10a0ff" d="M100 328h8v4h-8z"/>
<path fill="#1098ff" d="M108 328h4v4h-4z"/>
<path fill="#1898ff" d="M112 328h4v4h-4z"/>
<path fill="#5098ff" d="M116 328h4v4h-4z"/>
<path fill="#7090ff" d="M120 328h4v4h-4z"/>
<path fill="#9090ff" d="M124 328h4v4h-4z"/>
<path fill="#a090ff" d="M128 328h4v4h-4z"/>
<path fill="#b888ff" d="M132 328h4v4h-4z"/>
<path fill="#c880ff" d="M136 328h4v4h-4z"/>
<path fill="#d878ff" d="M140 328h4v4h-4z"/>
<path fill="#e870ff" d="M144 328h4v4h-4z"/>
<path fill="#f860ff" d="M148 328h4v4h-4z"/>
<path fill="#ff50f8" d="M152 328h4v4h-4z"/>
<path fill="#ff30e8" d="M156 328h4v4h-4z"/>
<path fill="#ff30e0" d="M160 328h4v4h-4z"/>
<path fill="#ff28c8" d="M168 328h4v4h-4z"/>
<path fill="#ff20c0" d="M172 328h4v4h-4zM172 332h4v4h-4z"/>
<path fill="#ff18b0" d="M180 328h4v4h-4zM180 332h4v4h-4z"/>
<path fill="#00a0ff" d="M84 332h8v4h-8zM72 336h12v4h-12zM68 340h8v4h-8z"/>
<path fill="#0898ff" d="M96 332h8v4h-8z"/>
<path fill="#1090ff" d="M104 332h8v4h-8z"/>
<path fill="#2890ff" d="M112 332h4v4h-4z"/>
<path fill="#5888ff" d="M116 332h4v4h-4z"/>
<path fill="#7088ff" d="M120 332h4v4h-4z"/>
<path fill="#9080ff" d="M124 332h4v4h-4z"/>
<path fill="#a080ff" d="M128 332h4v4h-4z"/>
<path fill="#b878ff" d="M132 332h4v4h-4z"/>
<path fill="#c870ff" d="M136 332h4v4h-4z"/>
<path fill="#e060ff" d="M140 332h4v4h-4z"/>
<path fill="#f058ff" d="M144 332h4v4h-4z"/>
<path fill="#ff40ff" d="M148 332h4v4h-4z"/>
<path fill="#ff28f0" d="M152 332h4v4h-4z"/>
<path fill="#ff28e8" d="M156 332h4v4h-4z"/>
<path fill="#ff28d8" d="M160 332h4v4h-4z"/>
<path fill="#ff20d0" d="M164 332h4v4h-4zM164 336h4v4h-4z"/>
<path fill="#ff20c8" d="M168 332h4v4h-4z"/>
<path fill="#ff18b8" d="M176 332h4v4h-4z"/>
<path fill="#0098ff" d="M84 336h8v4h-8zM76 340h8v4h-8zM68 344h8v4h-8z"/>
<path fill="#0890ff" d="M92 336h12v4h-12z"/>
<path fill="#0888ff" d="M104 336h4v4h-4zM96 340h4v4h-4z"/>
<path fill="#1080ff" d="M108 336h4v4h-4z"/>
<path fill="#3880ff" d="M112 336h4v4h-4z"/>
<path fill="#5880ff" d="M116 336h4v4h-4z"/>
<path fill="#7878ff" d="M120 336h4v4h-4z"/>
<path fill="#9070ff" d="M124 336h4v4h-4z"/>
<path fill="#a868ff" d="M128 336h4v4h-4z"/>
<path fill="#b860ff" d="M132 336h4v4h-4z"/>
<path fill="#d058ff" d="M136 336h4v4h-4z"/>
<path fill="#e048ff" d="M140 336h4v4h-4z"/>
<path fill="#f020ff" d="M144 336h4v4h-4zM144 340h4v4h-4z"/>
<path fill="#ff20ff" d="M148 336h4v4h-4zM148 340h4v4h-4z"/>
<path fill="#ff20f0" d="M152 336h4v4h-4zM152 340h4v4h-4z"/>
<path fill="#ff20e8" d="M156 336h4v4h-4z"/>
<path fill="#ff20d8" d="M160 336h4v4h-4z"/>
<path fill="#ff18c8" d="M168 336h4v4h-4z"/>
<path fill="#ff18c0" d="M172 336h4v4h-4z"/>
<path fill="#0090ff" d="M84 340h8v4h-8zM76 344h8v4h-8zM72 348h4v4h-4z"/>
<path fill="#0088ff" d="M92 340h4v4h-4zM84 344h8v4h-8zM76 348h8v4h-8zM72 352h4v4h-4z"/>
<path fill="#0880ff" d="M100 340h8v4h-8z"/>
<path fill="#0878ff" d="M108 340h4v4h-4zM100 344h4v4h-4z"/>
<path fill="#4070ff" d="M112 340h4v4h-4z"/>
<path fill="#6070ff" d="M116 340h4v4h-4z"/>
<path fill="#7868ff" d="M120 340h4v4h-4z"/>
<path fill="#9060ff" d="M124 340h4v4h-4z"/>
<path fill="#a858ff" d="M128 340h4v4h-4z"/>
<path fill="#b848ff" d="M132 340h4v4h-4z"/>
<path fill="#d038ff" d="M136 340h4v4h-4z"/>
<path fill="#e018ff" d="M140 340h4v4h-4zM140 344h4v4h-4z"/>
<path fill="#ff18e8" d="M156 340h4v4h-4z"/>
<path fill="#ff18d8" d="M160 340h4v4h-4z"/>
<path fill="#ff18d0" d="M164 340h4v4h-4z"/>
<path fill="#0080ff" d="M92 344h8v4h-8zM84 348h4v4h-4zM76 352h8v4h-8z"/>
<path fill="#0870ff" d="M104 344h4v4h-4z"/>
<path fill="#2070ff" d="M108 344h4v4h-4z"/>
<path fill="#4868ff" d="M112 344h4v4h-4z"/>
<path fill="#6860ff" d="M116 344h4v4h-4z"/>
<path fill="#8058ff" d="M120 344h4v4h-4z"/>
<path fill="#9850ff" d="M124 344h4v4h-4z"/>
<path fill="#a840ff" d="M128 344h4v4h-4z"/>
<path fill="#c010ff" d="M132 344h4v4h-4zM132 348h4v4h-4z"/>
<path fill="#d010ff" d="M136 344h4v4h-4zM136 348h4v4h-4zM136 352h4v4h-4z"/>
<path fill="#f018ff" d="M144 344h4v4h-4z"/>
<path fill="#ff18ff" d="M148 344h4v4h-4z"/>
<path fill="#ff18f0" d="M152 344h4v4h-4z"/>
<path fill="#ff18e0" d="M156 344h4v4h-4z"/>
<path fill="#0078ff" d="M88 348h8v4h-8zM84 352h4v4h-4zM76 356h4v4h-4z"/>
<path fill="#0070ff" d="M96 348h4v4h-4zM88 352h8v4h-8zM80 356h8v4h-8zM76 360h4v4h-4z"/>
<path fill="#0068ff" d="M100 348h4v4h-4zM96 352h4v4h-4zM88 356h4v4h-4zM80 360h4v4h-4z"/>
<path fill="#0868ff" d="M104 348h4v4h-4z"/>
<path fill="#2860ff" d="M108 348h4v4h-4z"/>
<path fill="#5058ff" d="M112 348h4v4h-4z"/>
<path fill="#6850ff" d="M116 348h4v4h-4z"/>
<path fill="#8040ff" d="M120 348h4v4h-4z"/>
<path fill="#9830ff" d="M124 348h4v4h-4z"/>
<path fill="#a810ff" d="M128 348h4v4h-4z"/>
<path fill="#e010ff" d="M140 348h4v4h-4zM140 352h4v4h-4z"/>
<path fill="#f010ff" d="M144 348h4v4h-4z"/>
<path fill="#ff10ff" d="M148 348h4v4h-4z"/>
<path fill="#0060ff" d="M100 352h4v4h-4zM92 356h4v4h-4zM84 360h4v4h-4zM80 364h4v4h-4z"/>
<path fill="#0058ff" d="M104 352h4v4h-4zM96 356h4v4h-4zM88 360h4v4h-4zM84 364h4v4h-4z"/>
<path fill="#3850ff" d="M108 352h4v4h-4z"/>
<path fill="#5840ff" d="M112 352h4v4h-4z"/>
<path fill="#7030ff" d="M116 352h4v4h-4z"/>
<path fill="#8810ff" d="M120 352h4v4h-4z"/>
<path fill="#9808ff" d="M124 352h4v4h-4z"/>
<path fill="#b008ff" d="M128 352h4v4h-4zM128 356h4v4h-4z"/>
<path fill="#c008ff" d="M132 352h4v4h-4zM132 356h4v4h-4z"/>
<path fill="#0050ff" d="M100 356h4v4h-4zM92 360h4v4h-4zM88 364h4v4h-4z"/>
<path fill="#1048ff" d="M104 356h4v4h-4z"/>
<path fill="#4038ff" d="M108 356h4v4h-4z"/>
<path fill="#6028ff" d="M112 356h4v4h-4z"/>
<path fill="#7008ff" d="M116 356h4v4h-4z"/>
<path fill="#8808ff" d="M120 356h4v4h-4z"/>
<path fill="#a008ff" d="M124 356h4v4h-4zM124 360h4v4h-4z"/>
<path fill="#0048ff" d="M96 360h4v4h-4zM84 368h4v4h-4z"/>
<path fill="#0040ff" d="M100 360h4v4h-4zM92 364h4v4h-4zM88 368h4v4h-4z"/>
<path fill="#2030ff" d="M104 360h4v4h-4z"/>
<path fill="#4810ff" d="M108 360h4v4h-4z"/>
<path fill="#6000ff" d="M112 360h4v4h-4z"/>
<path fill="#7800ff" d="M116 360h4v4h-4z"/>
<path fill="#9000ff" d="M120 360h4v4h-4z"/>
<path fill="#0038ff" d="M96 364h4v4h-4z"/>
<path fill="#0020ff" d="M100 364h4v4h-4z"/>
<path fill="#3000ff" d="M104 364h4v4h-4z"/>
<path fill="#5000ff" d="M108 364h4v4h-4z"/>
<path fill="#6800ff" d="M112 364h4v4h-4z"/>
<path fill="#8000ff" d="M116 364h4v4h-4z"/>
<path fill="#0030ff" d="M92 368h4v4h-4zM88 372h4v4h-4z"/>
<path fill="#0010ff" d="M96 368h4v4h-4zM92 372h4v4h-4z"/>
<path fill="#1000ff" d="M100 368h4v4h-4z"/>
<path fill="#3800ff" d="M104 368h4v4h-4z"/>
<path fill="#5800ff" d="M108 368h4v4h-4z"/>
<path fill="#0000ff" d="M96 372h4v4h-4z"/>
<path fill="#1800ff" d="M100 372h4v4h-4z"/>
</g></g>
<polygon points="96.2,370.7 96.2,370.7 96.2,370.7 96.2,370.7 96.2,370.7 96.2,370.7 96.2,370.7 96.2,370.7 96.1,370.7 96.1,370.7 96.1,370.7 96.1,370.7 96.1,370.7 96.1,370.7 96,370.7 96,370.7 96,370.7 96,370.7 96,370.7 95.9,370.8 95.9,370.8 95.9,370.8 95.9,370.8 95.9,370.8 95.8,370.8 95.8,370.8 95.8,370.8 95.7,370.8 95.7,370.8 95.7,370.8 95.6,370.8 95.6,370.8 95.6,370.8 95.5,370.8 95.5,370.8 95.4,370.7 95.4,370.7 95.4,370.7 95.3,370.7 95.2,370.7 95.2,370.6 95.1,370.6 95,370.5 94.9,370.5 94.8,370.4 94.7,370.4 94.6,370.3 94.5,370.2 94.4,370.1 94.3,370 94.2,369.9 94.1,369.8 93.9,369.7 93.8,369.5 93.6,369.4 93.4,369.2 93.2,369.1 93.1,368.9 92.9,368.7 92.7,368.5 92.5,368.3 92.2,368.1 92,367.9 91.7,367.6 91.5,367.4 91.2,367.1 90.9,366.8 90.5,366.5 90.2,366.2 89.8,365.9 89.4,365.5 89,365.2 88.6,364.8 88.2,364.4 87.7,363.9 87.2,363.5 86.7,363 86.2,362.5 85.7,361.9 85.1,361.3 84.5,360.7 83.9,360 83.3,359.3 82.6,358.4 81.9,357.6 81.2,356.6 80.4,355.4 79.6,354.1 78.7,352.7 77.8,351.1 76.8,349.3 75.8,347.4 74.7,345.2 73.5,342.9 72.4,340.4 71.1,337.5 69.8,334.4 68.5,331.1 67.1,327.3 65.6,323.3 64,319 62.4,314.3 60.7,309.2 58.9,303.7 57.1,297.8 55.2,291.4 53.4,284.6 51.6,277.4 49.8,269.8 48,261.8 46.2,253.3 44.4,244.4 42.6,235.1 40.9,225.5 39.2,215.6 37.6,205.6 36.2,195.5 34.8,185.2 33.6,175 32.6,164.8 31.7,154.7 30.9,144.7 30.4,135 30,125.5 29.9,116.4 30,107.6 30.3,99 30.8,90.8 31.6,83.1 32.6,75.7 33.9,68.9 35.4,62.7 37.2,57 39.1,52 41.3,47.6 43.6,43.9 46.1,40.9 48.8,38.6 51.6,36.9 54.5,35.7 57.4,35.1 60.4,35 63.5,35.3 66.6,36 69.7,37 72.9,38.2 76.1,39.6 79.3,41.1 82.5,42.8 85.6,44.6 88.7,46.4 91.7,48.3 94.7,50.2 97.7,52.1 100.6,54.2 103.5,56.2 106.4,58.3 109.3,60.5 112.1,62.7 115,65 117.8,67.3 120.6,69.6 123.5,72 126.3,74.4 129.1,76.9 131.9,79.4 134.7,82 137.5,84.5 140.3,87.1 143,89.7 145.8,92.4 148.6,95.1 151.4,97.7 154.2,100.5 157,103.2 159.7,105.9 162.5,108.7 165.3,111.5 168.1,114.3 170.9,117.1 173.6,119.9 176.4,122.7 179.2,125.5 182,128.3 184.7,131.1 187.5,134 190.3,136.8 193,139.6 195.8,142.5 198.5,145.3 201.2,148.1 204,150.9 206.7,153.7 209.4,156.5 212.1,159.3 214.7,162.1 217.4,164.8 220,167.6 222.7,170.3 225.3,173 227.9,175.7 230.4,178.3 233,181 235.5,183.6 238,186.2 240.4,188.7 242.9,191.2 245.2,193.7 247.6,196.1 249.9,198.6 252.2,200.9 254.5,203.3 256.7,205.6 258.9,207.8 261,210 263,212.2 265,214.2 266.9,216.2 268.8,218.1 270.6,220 272.4,221.9 274.2,223.7 275.9,225.5 277.5,227.2 279.1,228.8 280.7,230.4 282.1,231.9 283.6,233.4 284.9,234.8 286.2,236.2 287.5,237.5 288.7,238.7 289.9,239.9 291,241.1 292,242.2 293.1,243.2 294,244.2 295,245.2 295.8,246.1 296.7,247 297.5,247.9 298.3,248.7 299,249.4 299.7,250.1 300.4,250.8 301,251.5 301.7,252.2 302.2,252.8 302.8,253.3 303.4,253.9 303.9,254.5 304.4,255 304.9,255.5 305.4,256 305.8,256.5 306.3,256.9 306.7,257.4 307.1,257.8 307.5,258.2 307.8,258.6 308.2,258.9 308.5,259.3 308.9,259.6 309.2,260 309.5,260.3 309.8,260.6 310,260.8 310.3,261.1 310.5,261.3 310.7,261.5 310.9,261.8 311.1,262 311.3,262.2 311.5,262.3 311.6,262.5 311.8,262.7 311.9,262.8 312.1,263 312.2,263.1 312.3,263.2 312.5,263.4 312.6,263.5 312.7,263.6 312.7,263.7 312.8,263.7 312.9,263.8 313,263.9 313,264 313.1,264 313.2,264.1 313.2,264.2 313.3,264.2 313.4,264.3 313.4,264.4 313.5,264.4 313.5,264.5 313.6,264.5 313.6,264.6 313.7,264.6 313.7,264.7 313.8,264.8 313.9,264.8 313.9,264.9 314,264.9 314,265 314,265 314.1,265.1 314.1,265.1 314.1,265.1 314.2,265.1 314.2,265.2 314.2,265.2 314.2,265.2 314.2,265.2 314.2,265.2 314.3,265.2 314.3,265.2 314.3,265.3 314.3,265.3 314.3,265.3 314.3,265.3" fill="none" stroke="#000" stroke-width="1.6" stroke-linejoin="round"/>
<path d="M96.2 370.7L95.2 375.2M96.2 370.7L97.6 375.1M96.1 370.7L95.8 375.3M96 370.7L97.9 374.9M95.9 370.8L97.3 375.1M95.8 370.8L95.6 375.4M95.6 370.8L95.7 375.4M95.4 370.7L94.5 375.2M95.2 370.6L93 374.7M94.7 370.4L92 374M94.2 369.9L91.2 373.4M93.4 369.2L90.3 372.6M92.5 368.3L89.3 371.6M91.2 367.1L88.1 370.5M89.4 365.5L86.3 368.9M87.2 363.5L84 366.8M84.5 360.7L81.1 363.7M81.2 356.6L77.4 359.2M76.8 349.3L72.7 351.5M71.1 337.5L66.9 339.3M64 319L59.7 320.5M55.2 291.4L50.8 292.7M46.2 253.3L41.7 254.2M37.6 205.6L33.1 206.3M31.7 154.7L27.1 155.1M30 107.6L25.4 107.5M33.9 68.9L29.4 68M43.6 43.9L39.9 41.2M57.4 35.1L56.8 30.5M72.9 38.2L74.6 33.9M88.7 46.4L91.1 42.5M103.5 56.2L106.2 52.5M117.8 67.3L120.7 63.7M131.9 79.4L135 76M145.8 92.4L149 89.1M159.7 105.9L163 102.7M173.6 119.9L176.9 116.6M187.5 134L190.8 130.8M201.2 148.1L204.5 144.9M214.7 162.1L218.1 158.9M227.9 175.7L231.2 172.5M240.4 188.7L243.7 185.5M252.2 200.9L255.5 197.7M263 212.2L266.4 209M272.4 221.9L275.7 218.7M280.7 230.4L284 227.2M287.5 237.5L290.8 234.3M293.1 243.2L296.4 240M297.5 247.9L300.8 244.7M301 251.5L304.3 248.3M303.9 254.5L307.2 251.3M306.3 256.9L309.6 253.7M308.2 258.9L311.5 255.8M309.8 260.6L313.1 257.4M310.9 261.8L314.2 258.6M311.8 262.7L315.1 259.5M312.5 263.4L315.8 260.2M312.9 263.8L316.2 260.6M313.2 264.2L316.6 261M313.5 264.5L316.8 261.3M313.8 264.8L317.1 261.6M314 265L317.4 261.8M314.2 265.2L317.5 262M314.3 265.2L317.6 262M314.3 265.3L317.6 262.1" stroke="#000" stroke-width="1.1" fill="none"/>
<path d="M28.5 8.3V372.7H339.7M28.5 372.7v3.3M67.4 372.7v3.3M106.3 372.7v3.3M145.2 372.7v3.3M184.1 372.7v3.3M223 372.7v3.3M261.9 372.7v3.3M300.8 372.7v3.3M339.7 372.7v3.3M28.5 372.7h-3.3M28.5 332.2h-3.3M28.5 291.7h-3.3M28.5 251.2h-3.3M28.5 210.7h-3.3M28.5 170.2h-3.3M28.5 129.8h-3.3M28.5 89.3h-3.3M28.5 48.8h-3.3M28.5 8.3h-3.3" stroke="#111" stroke-width="0.95" fill="none"/>
<text x="28.5" y="388.2" font-size="12.5" fill="#000" text-anchor="middle">0.0</text>
<text x="67.4" y="388.2" font-size="12.5" fill="#000" text-anchor="middle">0.1</text>
<text x="106.3" y="388.2" font-size="12.5" fill="#000" text-anchor="middle">0.2</text>
<text x="145.2" y="388.2" font-size="12.5" fill="#000" text-anchor="middle">0.3</text>
<text x="184.1" y="388.2" font-size="12.5" fill="#000" text-anchor="middle">0.4</text>
<text x="223" y="388.2" font-size="12.5" fill="#000" text-anchor="middle">0.5</text>
<text x="261.9" y="388.2" font-size="12.5" fill="#000" text-anchor="middle">0.6</text>
<text x="300.8" y="388.2" font-size="12.5" fill="#000" text-anchor="middle">0.7</text>
<text x="339.7" y="388.2" font-size="12.5" fill="#000" text-anchor="middle">0.8</text>
<text x="23.8" y="376.4" font-size="12.5" fill="#000" text-anchor="end">0.0</text>
<text x="23.8" y="335.9" font-size="12.5" fill="#000" text-anchor="end">0.1</text>
<text x="23.8" y="295.4" font-size="12.5" fill="#000" text-anchor="end">0.2</text>
<text x="23.8" y="254.9" font-size="12.5" fill="#000" text-anchor="end">0.3</text>
<text x="23.8" y="214.4" font-size="12.5" fill="#000" text-anchor="end">0.4</text>
<text x="23.8" y="173.9" font-size="12.5" fill="#000" text-anchor="end">0.5</text>
<text x="23.8" y="133.5" font-size="12.5" fill="#000" text-anchor="end">0.6</text>
<text x="23.8" y="93" font-size="12.5" fill="#000" text-anchor="end">0.7</text>
<text x="23.8" y="52.5" font-size="12.5" fill="#000" text-anchor="end">0.8</text>
<text x="23.8" y="12" font-size="12.5" fill="#000" text-anchor="end">0.9</text>
<text x="203" y="392.5" font-size="14" fill="#000" text-anchor="middle">x</text>
<text x="6.5" y="191.5" font-size="14" fill="#000" text-anchor="middle">y</text>
<text x="29.5" y="17.5" font-size="12.5" fill="#e60012" text-anchor="start" font-weight="bold">(a)</text>
<text x="56.8" y="26.6" font-size="12.5" fill="#1414f0" text-anchor="middle">520</text>
<text x="129.6" y="59.9" font-size="12.5" fill="#1414f0" text-anchor="middle">540</text>
<text x="186.5" y="111.6" font-size="12.5" fill="#1414f0" text-anchor="middle">560</text>
<text x="240.4" y="169.8" font-size="12.5" fill="#1414f0" text-anchor="middle">580</text>
<text x="286.1" y="214.8" font-size="12.5" fill="#1414f0" text-anchor="middle">600</text>
<text x="310.5" y="241.4" font-size="12.5" fill="#1414f0" text-anchor="middle">620</text>
<text x="330.5" y="269" font-size="12.5" fill="#1414f0" text-anchor="middle">700</text>
<text x="15.4" y="158.5" font-size="12.5" fill="#1414f0" text-anchor="middle">500</text>
<text x="37.6" y="265" font-size="12.5" fill="#1414f0" text-anchor="middle">490</text>
<text x="48.2" y="325.5" font-size="12.5" fill="#1414f0" text-anchor="middle">480</text>
<text x="61.3" y="356.2" font-size="12.5" fill="#1414f0" text-anchor="middle">470</text>
<text x="69.2" y="371" font-size="12.5" fill="#1414f0" text-anchor="middle">460</text>
<text x="110.7" y="377.2" font-size="12.5" fill="#1414f0" text-anchor="middle">380</text>
<path d="M299 249.5L297.1 247.6L295.1 245.5L293 243.4L290.7 241.2L288.4 238.9L285.9 236.5L283.3 234.1L280.6 231.6L277.8 229.1L274.9 226.6L271.9 224.1L268.8 221.7L265.6 219.4L262.2 217.1L258.8 214.9L255.2 212.9L251.5 211.1L247.8 209.4L243.9 208L239.9 206.8L235.9 205.8L231.8 205.1L227.6 204.7L223.4 204.6L219.1 204.7L214.9 205.1L210.7 205.8L206.5 206.7L202.3 207.8L198.3 209.2L194.3 210.7L190.4 212.4L186.6 214.3L183 216.2L179.5 218.3L176.1 220.4L172.8 222.6L169.7 224.8L166.8 227.1L164 229.3L161.4 231.5L158.8 233.7L156.5 235.8L154.3 237.9L152.2 240L150.2 241.9L148.4 243.8L146.6 245.6L145 247.4L143.5 249.1L142.1 250.7L140.8 252.2L139.6 253.6L138.5 255L137.4 256.3L136.4 257.5L135.5 258.7L134.6 259.8L133.8 260.8L133.1 261.8L132.4 262.7L131.7 263.6L131.1 264.4L130.6 265.2L130 265.9L129.5 266.6L129.1 267.2L128.7 267.8L128.3 268.4L127.6 269.4L126 271.7L124.8 273.4L124 274.5L123.5 275.4L123 276L122.7 276.5L122.5 276.9L122.3 277.1L122.2 277.3L122.1 277.5L122 277.6L122 277.7L121.9 277.7L121.9 277.8L121.8 278" stroke="#000" stroke-width="1.3" fill="none"/>
<path d="M117.4 275.6L126.2 280.3" stroke="#000" stroke-width="1.3"/>
<path d="M126.6 233.7L146.6 273.9M152.1 212L155.2 259.5M182.6 196.6L171.4 239.8M206.7 191.4L191.2 224.7M223.5 189.1L205.6 219.6M241.2 194.6L226.2 215.3M262.5 206.6L250.5 220.1M139.2 250.7L141.1 255.3M142.5 246.7L144.1 251.8M147.1 241.6L148.2 247.4M157.8 231L157.8 238.1M163.1 226.4L162.4 234.2M169.6 221.2L168.1 229.7" stroke="#000" stroke-width="1.1" fill="none"/>
<text x="112.2" y="233.9" font-size="9.3" fill="#000" text-anchor="middle">10000</text>
<text x="151.5" y="208.7" font-size="9.3" fill="#000" text-anchor="middle">6000</text>
<text x="179" y="194.6" font-size="9.3" fill="#000" text-anchor="middle">4000</text>
<text x="201.5" y="188.9" font-size="9.3" fill="#000" text-anchor="middle">3000</text>
<text x="222.7" y="185.8" font-size="9.3" fill="#000" text-anchor="middle">2500</text>
<text x="227" y="225.9" font-size="9.3" fill="#000" text-anchor="middle">2000</text>
<text x="253.6" y="225.9" font-size="9.3" fill="#000" text-anchor="middle">1500</text>
<text x="107.8" y="275.5" font-size="12" fill="#000" text-anchor="middle">∞</text>
<text x="122" y="186.9" font-size="13.4" fill="#000">T<tspan font-size="11" dy="3">c</tspan><tspan dy="-3">(°K)</tspan></text>
<circle cx="147.2" cy="243.7" r="2.9" fill="#000"/>
<path d="M190.4 180.3l2.8 4.9h-5.6z" fill="#000"/>
<path d="M191.5 169.3l2.8 2.8l-2.8 2.8l-2.8-2.8z" fill="#000"/>
<path transform="translate(194.9 170.8) scale(0.824)" d="M0 3.6C-1.2 2.4-3.6 0.6-3.6-1.2C-3.6-2.8-2.5-3.4-1.7-3.4C-0.9-3.4-0.3-3 0-2.3C0.3-3 0.9-3.4 1.7-3.4C2.5-3.4 3.6-2.8 3.6-1.2C3.6 0.6 1.2 2.4 0 3.6z" fill="#000"/>
<polygon points="196.5,163.4 199.4,165.4 198.3,168.8 194.7,168.8 193.7,165.4" fill="#000"/>
<defs><linearGradient id="rb" gradientUnits="userSpaceOnUse" x1="361.1" x2="445.2" y1="0" y2="0"><stop offset="0.000" stop-color="#5a00b0"/><stop offset="0.063" stop-color="#5a10d8"/><stop offset="0.126" stop-color="#3020ff"/><stop offset="0.176" stop-color="#0048ff"/><stop offset="0.214" stop-color="#0088ff"/><stop offset="0.244" stop-color="#00c0ff"/><stop offset="0.269" stop-color="#00e8e0"/><stop offset="0.289" stop-color="#00f080"/><stop offset="0.309" stop-color="#00e418"/><stop offset="0.364" stop-color="#08ec00"/><stop offset="0.415" stop-color="#40f400"/><stop offset="0.445" stop-color="#98fc00"/><stop offset="0.470" stop-color="#e0ff00"/><stop offset="0.490" stop-color="#fff000"/><stop offset="0.515" stop-color="#ffc000"/><stop offset="0.540" stop-color="#ff9000"/><stop offset="0.570" stop-color="#ff5000"/><stop offset="0.603" stop-color="#ff1800"/><stop offset="0.641" stop-color="#ff0000"/><stop offset="1.000" stop-color="#f80000"/></linearGradient></defs>
<polygon points="361.1,72 361.1,71.96 361.3,71.96 361.6,71.96 361.8,71.96 362,71.95 362.2,71.95 362.4,71.95 362.6,71.95 362.8,71.94 363,71.94 363.2,71.94 363.5,71.94 363.7,71.93 363.9,71.93 364.1,71.93 364.3,71.93 364.5,71.92 364.7,71.92 364.9,71.91 365.1,71.91 365.4,71.91 365.6,71.9 365.8,71.9 366,71.89 366.2,71.89 366.4,71.88 366.6,71.87 366.8,71.87 367,71.86 367.3,71.85 367.5,71.85 367.7,71.84 367.9,71.83 368.1,71.82 368.3,71.81 368.5,71.8 368.7,71.79 368.9,71.78 369.2,71.76 369.4,71.75 369.6,71.73 369.8,71.72 370,71.7 370.2,71.68 370.4,71.66 370.6,71.64 370.8,71.61 371.1,71.59 371.3,71.56 371.5,71.52 371.7,71.49 371.9,71.45 372.1,71.4 372.3,71.35 372.5,71.28 372.7,71.21 373,71.12 373.2,71.02 373.4,70.9 373.6,70.75 373.8,70.58 374,70.37 374.2,70.12 374.4,69.82 374.6,69.48 374.9,69.07 375.1,68.61 375.3,68.07 375.5,67.47 375.7,66.8 375.9,66.05 376.1,65.25 376.3,64.39 376.5,63.48 376.8,62.55 377,61.6 377.2,60.67 377.4,59.77 377.6,58.93 377.8,58.18 378,57.55 378.2,57.05 378.5,56.7 378.7,56.52 378.9,56.67 379.1,56.93 379.3,57.3 379.5,57.77 379.7,58.32 379.9,58.94 380.1,59.62 380.4,60.35 380.6,61.11 380.8,61.88 381,62.66 381.2,63.43 381.4,64.18 381.6,64.9 381.8,65.59 382,66.24 382.3,66.84 382.5,67.4 382.7,67.91 382.9,68.38 383.1,68.8 383.3,69.17 383.5,69.5 383.7,69.76 383.9,69.97 384.2,70.13 384.4,70.25 384.6,70.33 384.8,70.38 385,70.4 385.2,70.4 385.4,70.37 385.6,70.31 385.8,70.2 386.1,70.04 386.3,69.83 386.5,69.57 386.7,69.21 386.9,68.72 387.1,68.11 387.3,67.41 387.5,66.64 387.7,65.73 388,64.63 388.2,63.37 388.4,62 388.6,60.55 388.8,58.97 389,57.19 389.2,55.29 389.4,53.32 389.6,51.34 389.9,49.33 390.1,47.25 390.3,45.12 390.5,42.98 390.7,40.87 390.9,38.75 391.1,36.61 391.3,34.48 391.5,32.4 391.8,30.38 392,28.4 392.2,26.42 392.4,24.51 392.6,22.72 392.8,21.13 393,19.69 393.2,18.33 393.4,17.09 393.7,15.96 393.9,14.96 394.1,14.04 394.3,13.17 394.5,12.39 394.7,11.74 394.9,11.26 395.1,10.9 395.3,10.57 395.6,10.29 395.8,10.11 396,10.1 396.2,10.1 396.4,10.11 396.6,10.18 396.8,10.27 397,10.36 397.2,10.49 397.5,10.67 397.7,10.88 397.9,11.09 398.1,11.3 398.3,11.48 398.5,11.67 398.7,11.85 398.9,12.03 399.1,12.21 399.4,12.4 399.6,12.59 399.8,12.77 400,12.97 400.2,13.17 400.4,13.37 400.6,13.58 400.8,13.79 401,14 401.3,14.22 401.5,14.43 401.7,14.66 401.9,14.88 402.1,15.11 402.3,15.34 402.5,15.57 402.7,15.8 402.9,16.04 403.2,16.27 403.4,16.51 403.6,16.76 403.8,17.01 404,17.27 404.2,17.54 404.4,17.82 404.6,18.11 404.9,18.42 405.1,18.73 405.3,19.05 405.5,19.38 405.7,19.73 405.9,20.08 406.1,20.45 406.3,20.83 406.5,21.23 406.8,21.65 407,22.11 407.2,22.58 407.4,23.08 407.6,23.59 407.8,24.12 408,24.64 408.2,25.17 408.4,25.68 408.7,26.19 408.9,26.68 409.1,27.17 409.3,27.65 409.5,28.14 409.7,28.63 409.9,29.12 410.1,29.61 410.3,30.11 410.6,30.62 410.8,31.14 411,31.67 411.2,32.2 411.4,32.75 411.6,33.29 411.8,33.85 412,34.41 412.2,34.98 412.5,35.55 412.7,36.13 412.9,36.71 413.1,37.31 413.3,37.92 413.5,38.54 413.7,39.17 413.9,39.81 414.1,40.44 414.4,41.07 414.6,41.7 414.8,42.31 415,42.9 415.2,43.49 415.4,44.07 415.6,44.64 415.8,45.21 416,45.77 416.3,46.32 416.5,46.87 416.7,47.41 416.9,47.95 417.1,48.48 417.3,49 417.5,49.51 417.7,50.02 417.9,50.53 418.2,51.03 418.4,51.52 418.6,52.01 418.8,52.49 419,52.96 419.2,53.43 419.4,53.89 419.6,54.34 419.8,54.79 420.1,55.24 420.3,55.67 420.5,56.1 420.7,56.53 420.9,56.95 421.1,57.36 421.3,57.76 421.5,58.16 421.7,58.56 422,58.95 422.2,59.34 422.4,59.72 422.6,60.09 422.8,60.46 423,60.81 423.2,61.15 423.4,61.48 423.6,61.79 423.9,62.1 424.1,62.39 424.3,62.68 424.5,62.96 424.7,63.24 424.9,63.5 425.1,63.76 425.3,64.01 425.5,64.26 425.8,64.5 426,64.74 426.2,64.97 426.4,65.2 426.6,65.42 426.8,65.64 427,65.85 427.2,66.05 427.4,66.24 427.7,66.43 427.9,66.61 428.1,66.78 428.3,66.94 428.5,67.1 428.7,67.26 428.9,67.41 429.1,67.55 429.3,67.7 429.6,67.84 429.8,67.98 430,68.11 430.2,68.25 430.4,68.38 430.6,68.51 430.8,68.63 431,68.76 431.3,68.88 431.5,68.99 431.7,69.11 431.9,69.21 432.1,69.32 432.3,69.43 432.5,69.53 432.7,69.63 432.9,69.73 433.2,69.82 433.4,69.91 433.6,70 433.8,70.07 434,70.14 434.2,70.2 434.4,70.26 434.6,70.32 434.8,70.37 435.1,70.41 435.3,70.46 435.5,70.5 435.7,70.55 435.9,70.59 436.1,70.64 436.3,70.68 436.5,70.73 436.7,70.78 437,70.83 437.2,70.88 437.4,70.92 437.6,70.96 437.8,71 438,71.04 438.2,71.07 438.4,71.1 438.6,71.13 438.9,71.16 439.1,71.19 439.3,71.21 439.5,71.24 439.7,71.27 439.9,71.3 440.1,71.33 440.3,71.35 440.5,71.38 440.8,71.4 441,71.43 441.2,71.45 441.4,71.48 441.6,71.5 441.8,71.52 442,71.55 442.2,71.57 442.4,71.59 442.7,71.61 442.9,71.62 443.1,71.64 443.3,71.66 443.5,71.67 443.7,71.69 443.9,71.7 444.1,71.71 444.3,71.72 444.6,71.73 444.8,71.74 445,71.74 445.2,71.75 445.2,72" fill="url(#rb)"/>
<rect x="361.1" y="4" width="84.9" height="68" fill="none" stroke="#000" stroke-width="0.8"/>
<path d="M364.3 72v1.6M374.9 72v1.6M385.4 72v1.6M396 72v1.6M406.5 72v1.6M417.1 72v1.6M427.7 72v1.6M438.2 72v1.6M369.6 72v0.9M380.1 72v0.9M390.7 72v0.9M401.3 72v0.9M411.8 72v0.9M422.4 72v0.9M432.9 72v0.9M443.5 72v0.9M361.1 72h-1.6M361.1 59.6h-1.6M361.1 47.2h-1.6M361.1 34.9h-1.6M361.1 22.5h-1.6M361.1 10.1h-1.6" stroke="#000" stroke-width="0.6" fill="none"/>
<text x="364.3" y="78.5" font-size="4.5" font-weight="bold" text-anchor="middle" fill="#000" stroke="#000" stroke-width="0.22">400</text>
<text x="374.9" y="78.5" font-size="4.5" font-weight="bold" text-anchor="middle" fill="#000" stroke="#000" stroke-width="0.22">450</text>
<text x="385.4" y="78.5" font-size="4.5" font-weight="bold" text-anchor="middle" fill="#000" stroke="#000" stroke-width="0.22">500</text>
<text x="396" y="78.5" font-size="4.5" font-weight="bold" text-anchor="middle" fill="#000" stroke="#000" stroke-width="0.22">550</text>
<text x="406.5" y="78.5" font-size="4.5" font-weight="bold" text-anchor="middle" fill="#000" stroke="#000" stroke-width="0.22">600</text>
<text x="417.1" y="78.5" font-size="4.5" font-weight="bold" text-anchor="middle" fill="#000" stroke="#000" stroke-width="0.22">650</text>
<text x="427.7" y="78.5" font-size="4.5" font-weight="bold" text-anchor="middle" fill="#000" stroke="#000" stroke-width="0.22">700</text>
<text x="438.2" y="78.5" font-size="4.5" font-weight="bold" text-anchor="middle" fill="#000" stroke="#000" stroke-width="0.22">750</text>
<text x="358.9" y="73.4" font-size="4.2" font-weight="bold" text-anchor="end" fill="#000" stroke="#000" stroke-width="0.22">0.0</text>
<text x="358.9" y="61" font-size="4.2" font-weight="bold" text-anchor="end" fill="#000" stroke="#000" stroke-width="0.22">0.2</text>
<text x="358.9" y="48.6" font-size="4.2" font-weight="bold" text-anchor="end" fill="#000" stroke="#000" stroke-width="0.22">0.4</text>
<text x="358.9" y="36.3" font-size="4.2" font-weight="bold" text-anchor="end" fill="#000" stroke="#000" stroke-width="0.22">0.6</text>
<text x="358.9" y="23.9" font-size="4.2" font-weight="bold" text-anchor="end" fill="#000" stroke="#000" stroke-width="0.22">0.8</text>
<text x="358.9" y="11.5" font-size="4.2" font-weight="bold" text-anchor="end" fill="#000" stroke="#000" stroke-width="0.22">1.0</text>
<text x="404.1" y="85.4" font-size="4.7" font-weight="bold" text-anchor="middle" fill="#000" stroke="#000" stroke-width="0.22">Wavelength (nm)</text>
<text x="350.2" y="38" font-size="4.25" font-weight="bold" text-anchor="middle" fill="#000" stroke="#000" stroke-width="0.22" transform="rotate(-90 350.2 38)">Normalized Intensity (a.u.)</text>
<text x="409" y="7.8" font-size="4.2" font-weight="bold" text-anchor="start" fill="#000" stroke="#000" stroke-width="0.22">1SCASNE</text>
<text x="409" y="13.6" font-size="4.2" font-weight="bold" text-anchor="start" fill="#000" stroke="#000" stroke-width="0.22">CIE=(0.4277,0.4986)</text>
<text x="409" y="19.1" font-size="4.2" font-weight="bold" text-anchor="start" fill="#000" stroke="#000" stroke-width="0.22">CCT=3770K</text>
<text x="409" y="24.6" font-size="4.2" font-weight="bold" text-anchor="start" fill="#000" stroke="#000" stroke-width="0.22">CRI=56.4</text>
<path transform="translate(405 12.3) scale(0.912)" d="M0 3.6C-1.2 2.4-3.6 0.6-3.6-1.2C-3.6-2.8-2.5-3.4-1.7-3.4C-0.9-3.4-0.3-3 0-2.3C0.3-3 0.9-3.4 1.7-3.4C2.5-3.4 3.6-2.8 3.6-1.2C3.6 0.6 1.2 2.4 0 3.6z" fill="#000"/>
<text x="362.3" y="13.4" font-size="12" font-weight="bold" text-anchor="start" fill="#e60012">(b)</text>
<polygon points="361.1,149.7 361.1,149.68 361.3,149.67 361.6,149.67 361.8,149.67 362,149.67 362.2,149.67 362.4,149.67 362.6,149.67 362.8,149.67 363,149.66 363.2,149.66 363.5,149.66 363.7,149.66 363.9,149.66 364.1,149.66 364.3,149.65 364.5,149.65 364.7,149.65 364.9,149.65 365.1,149.64 365.4,149.64 365.6,149.64 365.8,149.64 366,149.63 366.2,149.63 366.4,149.63 366.6,149.62 366.8,149.62 367,149.61 367.3,149.61 367.5,149.6 367.7,149.6 367.9,149.59 368.1,149.59 368.3,149.58 368.5,149.57 368.7,149.57 368.9,149.56 369.2,149.55 369.4,149.54 369.6,149.53 369.8,149.52 370,149.51 370.2,149.5 370.4,149.49 370.6,149.47 370.8,149.46 371.1,149.44 371.3,149.42 371.5,149.4 371.7,149.38 371.9,149.35 372.1,149.32 372.3,149.29 372.5,149.25 372.7,149.21 373,149.15 373.2,149.09 373.4,149.01 373.6,148.92 373.8,148.81 374,148.68 374.2,148.52 374.4,148.34 374.6,148.12 374.9,147.87 375.1,147.58 375.3,147.24 375.5,146.87 375.7,146.45 375.9,145.98 376.1,145.48 376.3,144.94 376.5,144.38 376.8,143.79 377,143.2 377.2,142.62 377.4,142.06 377.6,141.53 377.8,141.06 378,140.67 378.2,140.35 378.5,140.14 378.7,140.03 378.9,140.12 379.1,140.28 379.3,140.51 379.5,140.8 379.7,141.15 379.9,141.54 380.1,141.96 380.4,142.42 380.6,142.89 380.8,143.37 381,143.86 381.2,144.34 381.4,144.81 381.6,145.26 381.8,145.69 382,146.1 382.3,146.48 382.5,146.83 382.7,147.15 382.9,147.44 383.1,147.7 383.3,147.93 383.5,148.13 383.7,148.29 383.9,148.41 384.2,148.49 384.4,148.54 384.6,148.57 384.8,148.57 385,148.55 385.2,148.51 385.4,148.46 385.6,148.39 385.8,148.26 386.1,148.1 386.3,147.89 386.5,147.63 386.7,147.29 386.9,146.83 387.1,146.26 387.3,145.61 387.5,144.89 387.7,144.05 388,143.03 388.2,141.87 388.4,140.6 388.6,139.27 388.8,137.81 389,136.17 389.2,134.42 389.4,132.6 389.6,130.78 389.9,128.93 390.1,127.01 390.3,125.05 390.5,123.08 390.7,121.14 390.9,119.19 391.1,117.22 391.3,115.26 391.5,113.34 391.8,111.49 392,109.66 392.2,107.84 392.4,106.08 392.6,104.44 392.8,102.97 393,101.64 393.2,100.4 393.4,99.25 393.7,98.21 393.9,97.29 394.1,96.45 394.3,95.65 394.5,94.93 394.7,94.33 394.9,93.89 395.1,93.56 395.3,93.25 395.6,93 395.8,92.82 396,92.8 396.2,92.8 396.4,92.82 396.6,92.89 396.8,92.97 397,93.05 397.2,93.17 397.5,93.34 397.7,93.53 397.9,93.73 398.1,93.91 398.3,94.08 398.5,94.25 398.7,94.42 398.9,94.59 399.1,94.75 399.4,94.92 399.6,95.09 399.8,95.27 400,95.45 400.2,95.63 400.4,95.81 400.6,96 400.8,96.2 401,96.39 401.3,96.59 401.5,96.79 401.7,97 401.9,97.2 402.1,97.41 402.3,97.62 402.5,97.84 402.7,98.05 402.9,98.26 403.2,98.48 403.4,98.7 403.6,98.93 403.8,99.16 404,99.4 404.2,99.65 404.4,99.9 404.6,100.17 404.9,100.45 405.1,100.73 405.3,101.03 405.5,101.34 405.7,101.65 405.9,101.98 406.1,102.32 406.3,102.67 406.5,103.04 406.8,103.42 407,103.84 407.2,104.28 407.4,104.74 407.6,105.21 407.8,105.69 408,106.17 408.2,106.65 408.4,107.13 408.7,107.59 408.9,108.04 409.1,108.49 409.3,108.94 409.5,109.38 409.7,109.83 409.9,110.28 410.1,110.74 410.3,111.2 410.6,111.67 410.8,112.14 411,112.63 411.2,113.12 411.4,113.62 411.6,114.12 411.8,114.63 412,115.15 412.2,115.67 412.5,116.2 412.7,116.73 412.9,117.26 413.1,117.81 413.3,118.37 413.5,118.95 413.7,119.53 413.9,120.11 414.1,120.69 414.4,121.27 414.6,121.85 414.8,122.41 415,122.96 415.2,123.49 415.4,124.02 415.6,124.55 415.8,125.07 416,125.59 416.3,126.1 416.5,126.6 416.7,127.1 416.9,127.59 417.1,128.08 417.3,128.56 417.5,129.03 417.7,129.5 417.9,129.97 418.2,130.42 418.4,130.88 418.6,131.32 418.8,131.77 419,132.2 419.2,132.63 419.4,133.05 419.6,133.47 419.8,133.88 420.1,134.29 420.3,134.69 420.5,135.09 420.7,135.48 420.9,135.86 421.1,136.24 421.3,136.61 421.5,136.98 421.7,137.34 422,137.71 422.2,138.06 422.4,138.41 422.6,138.76 422.8,139.09 423,139.41 423.2,139.73 423.4,140.03 423.6,140.31 423.9,140.6 424.1,140.87 424.3,141.13 424.5,141.39 424.7,141.64 424.9,141.89 425.1,142.13 425.3,142.36 425.5,142.59 425.8,142.81 426,143.03 426.2,143.24 426.4,143.45 426.6,143.66 426.8,143.85 427,144.05 427.2,144.23 427.4,144.41 427.7,144.58 427.9,144.74 428.1,144.9 428.3,145.05 428.5,145.2 428.7,145.34 428.9,145.48 429.1,145.61 429.3,145.74 429.6,145.87 429.8,146 430,146.13 430.2,146.25 430.4,146.37 430.6,146.49 430.8,146.61 431,146.72 431.3,146.83 431.5,146.94 431.7,147.04 431.9,147.14 432.1,147.24 432.3,147.33 432.5,147.43 432.7,147.52 432.9,147.61 433.2,147.7 433.4,147.78 433.6,147.86 433.8,147.93 434,147.99 434.2,148.05 434.4,148.1 434.6,148.15 434.8,148.2 435.1,148.24 435.3,148.28 435.5,148.32 435.7,148.37 435.9,148.41 436.1,148.45 436.3,148.49 436.5,148.54 436.7,148.58 437,148.62 437.2,148.67 437.4,148.71 437.6,148.75 437.8,148.78 438,148.82 438.2,148.85 438.4,148.87 438.6,148.9 438.9,148.93 439.1,148.95 439.3,148.98 439.5,149 439.7,149.03 439.9,149.05 440.1,149.08 440.3,149.1 440.5,149.13 440.8,149.15 441,149.18 441.2,149.2 441.4,149.22 441.6,149.24 441.8,149.26 442,149.28 442.2,149.3 442.4,149.32 442.7,149.34 442.9,149.35 443.1,149.37 443.3,149.38 443.5,149.4 443.7,149.41 443.9,149.42 444.1,149.43 444.3,149.44 444.6,149.45 444.8,149.46 445,149.46 445.2,149.47 445.2,149.7" fill="url(#rb)"/>
<rect x="361.1" y="87.4" width="84.9" height="62.3" fill="none" stroke="#000" stroke-width="0.8"/>
<path d="M364.3 149.7v1.6M374.9 149.7v1.6M385.4 149.7v1.6M396 149.7v1.6M406.5 149.7v1.6M417.1 149.7v1.6M427.7 149.7v1.6M438.2 149.7v1.6M369.6 149.7v0.9M380.1 149.7v0.9M390.7 149.7v0.9M401.3 149.7v0.9M411.8 149.7v0.9M422.4 149.7v0.9M432.9 149.7v0.9M443.5 149.7v0.9M361.1 149.7h-1.6M361.1 138.3h-1.6M361.1 126.9h-1.6M361.1 115.6h-1.6M361.1 104.2h-1.6M361.1 92.8h-1.6" stroke="#000" stroke-width="0.6" fill="none"/>
<text x="364.3" y="155.4" font-size="4.5" font-weight="bold" text-anchor="middle" fill="#000" stroke="#000" stroke-width="0.22">400</text>
<text x="374.9" y="155.4" font-size="4.5" font-weight="bold" text-anchor="middle" fill="#000" stroke="#000" stroke-width="0.22">450</text>
<text x="385.4" y="155.4" font-size="4.5" font-weight="bold" text-anchor="middle" fill="#000" stroke="#000" stroke-width="0.22">500</text>
<text x="396" y="155.4" font-size="4.5" font-weight="bold" text-anchor="middle" fill="#000" stroke="#000" stroke-width="0.22">550</text>
<text x="406.5" y="155.4" font-size="4.5" font-weight="bold" text-anchor="middle" fill="#000" stroke="#000" stroke-width="0.22">600</text>
<text x="417.1" y="155.4" font-size="4.5" font-weight="bold" text-anchor="middle" fill="#000" stroke="#000" stroke-width="0.22">650</text>
<text x="427.7" y="155.4" font-size="4.5" font-weight="bold" text-anchor="middle" fill="#000" stroke="#000" stroke-width="0.22">700</text>
<text x="438.2" y="155.4" font-size="4.5" font-weight="bold" text-anchor="middle" fill="#000" stroke="#000" stroke-width="0.22">750</text>
<text x="358.9" y="151.1" font-size="4.2" font-weight="bold" text-anchor="end" fill="#000" stroke="#000" stroke-width="0.22">0.0</text>
<text x="358.9" y="139.7" font-size="4.2" font-weight="bold" text-anchor="end" fill="#000" stroke="#000" stroke-width="0.22">0.2</text>
<text x="358.9" y="128.3" font-size="4.2" font-weight="bold" text-anchor="end" fill="#000" stroke="#000" stroke-width="0.22">0.4</text>
<text x="358.9" y="117" font-size="4.2" font-weight="bold" text-anchor="end" fill="#000" stroke="#000" stroke-width="0.22">0.6</text>
<text x="358.9" y="105.6" font-size="4.2" font-weight="bold" text-anchor="end" fill="#000" stroke="#000" stroke-width="0.22">0.8</text>
<text x="358.9" y="94.2" font-size="4.2" font-weight="bold" text-anchor="end" fill="#000" stroke="#000" stroke-width="0.22">1.0</text>
<text x="404.1" y="161.3" font-size="4.7" font-weight="bold" text-anchor="middle" fill="#000" stroke="#000" stroke-width="0.22">Wavelength (nm)</text>
<text x="350.2" y="118.5" font-size="4.25" font-weight="bold" text-anchor="middle" fill="#000" stroke="#000" stroke-width="0.22" transform="rotate(-90 350.2 118.5)">Normalized Intensity (a.u.)</text>
<text x="409" y="90.3" font-size="4.2" font-weight="bold" text-anchor="start" fill="#000" stroke="#000" stroke-width="0.22">0.3SCASNE</text>
<text x="409" y="95.5" font-size="4.2" font-weight="bold" text-anchor="start" fill="#000" stroke="#000" stroke-width="0.22">CIE=(0.4319,0.5096)</text>
<text x="409" y="100.8" font-size="4.2" font-weight="bold" text-anchor="start" fill="#000" stroke="#000" stroke-width="0.22">CCT=3756K</text>
<text x="409" y="106.1" font-size="4.2" font-weight="bold" text-anchor="start" fill="#000" stroke="#000" stroke-width="0.22">CRI=56.1</text>
<polygon points="404.9,89.9 407.8,92 406.7,95.5 403.1,95.5 402,92" fill="#000"/>
<text x="362.3" y="96.8" font-size="12" font-weight="bold" text-anchor="start" fill="#e60012">(c)</text>
<polygon points="361.1,228.4 361.1,228.36 361.3,228.36 361.6,228.36 361.8,228.36 362,228.36 362.2,228.35 362.4,228.35 362.6,228.35 362.8,228.35 363,228.35 363.2,228.34 363.5,228.34 363.7,228.34 363.9,228.34 364.1,228.33 364.3,228.33 364.5,228.33 364.7,228.32 364.9,228.32 365.1,228.32 365.4,228.31 365.6,228.31 365.8,228.3 366,228.3 366.2,228.29 366.4,228.29 366.6,228.28 366.8,228.28 367,228.27 367.3,228.26 367.5,228.26 367.7,228.25 367.9,228.24 368.1,228.23 368.3,228.22 368.5,228.21 368.7,228.2 368.9,228.19 369.2,228.18 369.4,228.16 369.6,228.15 369.8,228.13 370,228.12 370.2,228.1 370.4,228.08 370.6,228.06 370.8,228.04 371.1,228.01 371.3,227.98 371.5,227.95 371.7,227.92 371.9,227.88 372.1,227.84 372.3,227.79 372.5,227.73 372.7,227.66 373,227.58 373.2,227.48 373.4,227.37 373.6,227.23 373.8,227.06 374,226.87 374.2,226.63 374.4,226.36 374.6,226.03 374.9,225.65 375.1,225.21 375.3,224.71 375.5,224.15 375.7,223.51 375.9,222.82 376.1,222.06 376.3,221.25 376.5,220.4 376.8,219.53 377,218.64 377.2,217.76 377.4,216.92 377.6,216.13 377.8,215.43 378,214.83 378.2,214.36 378.5,214.04 378.7,213.88 378.9,214.01 379.1,214.26 379.3,214.6 379.5,215.04 379.7,215.56 379.9,216.14 380.1,216.78 380.4,217.47 380.6,218.18 380.8,218.9 381,219.63 381.2,220.35 381.4,221.06 381.6,221.73 381.8,222.38 382,222.99 382.3,223.56 382.5,224.08 382.7,224.57 382.9,225 383.1,225.4 383.3,225.75 383.5,226.05 383.7,226.3 383.9,226.5 384.2,226.65 384.4,226.76 384.6,226.83 384.8,226.88 385,226.9 385.2,226.89 385.4,226.87 385.6,226.82 385.8,226.71 386.1,226.56 386.3,226.36 386.5,226.12 386.7,225.78 386.9,225.32 387.1,224.75 387.3,224.09 387.5,223.37 387.7,222.51 388,221.48 388.2,220.3 388.4,219.01 388.6,217.66 388.8,216.17 389,214.5 389.2,212.71 389.4,210.86 389.6,209.01 389.9,207.12 390.1,205.17 390.3,203.17 390.5,201.17 390.7,199.18 390.9,197.19 391.1,195.18 391.3,193.19 391.5,191.23 391.8,189.34 392,187.48 392.2,185.62 392.4,183.82 392.6,182.15 392.8,180.65 393,179.3 393.2,178.03 393.4,176.86 393.7,175.8 393.9,174.86 394.1,174 394.3,173.18 394.5,172.45 394.7,171.84 394.9,171.39 395.1,171.05 395.3,170.74 395.6,170.48 395.8,170.31 396,170.3 396.2,170.3 396.4,170.31 396.6,170.37 396.8,170.46 397,170.54 397.2,170.66 397.5,170.83 397.7,171.03 397.9,171.23 398.1,171.42 398.3,171.6 398.5,171.77 398.7,171.94 398.9,172.11 399.1,172.28 399.4,172.46 399.6,172.63 399.8,172.81 400,172.99 400.2,173.18 400.4,173.37 400.6,173.56 400.8,173.76 401,173.96 401.3,174.16 401.5,174.37 401.7,174.58 401.9,174.79 402.1,175 402.3,175.22 402.5,175.44 402.7,175.65 402.9,175.87 403.2,176.09 403.4,176.32 403.6,176.55 403.8,176.79 404,177.03 404.2,177.28 404.4,177.55 404.6,177.82 404.9,178.11 405.1,178.4 405.3,178.7 405.5,179.01 405.7,179.33 405.9,179.67 406.1,180.02 406.3,180.38 406.5,180.75 406.8,181.14 407,181.57 407.2,182.02 407.4,182.48 407.6,182.97 407.8,183.46 408,183.95 408.2,184.44 408.4,184.93 408.7,185.4 408.9,185.86 409.1,186.32 409.3,186.78 409.5,187.23 409.7,187.69 409.9,188.15 410.1,188.61 410.3,189.08 410.6,189.56 410.8,190.05 411,190.54 411.2,191.05 411.4,191.56 411.6,192.07 411.8,192.59 412,193.12 412.2,193.65 412.5,194.19 412.7,194.73 412.9,195.28 413.1,195.84 413.3,196.41 413.5,197 413.7,197.59 413.9,198.18 414.1,198.78 414.4,199.37 414.6,199.96 414.8,200.53 415,201.09 415.2,201.64 415.4,202.18 415.6,202.72 415.8,203.25 416,203.78 416.3,204.3 416.5,204.81 416.7,205.32 416.9,205.82 417.1,206.32 417.3,206.81 417.5,207.29 417.7,207.77 417.9,208.25 418.2,208.72 418.4,209.18 418.6,209.64 418.8,210.09 419,210.53 419.2,210.97 419.4,211.4 419.6,211.83 419.8,212.25 420.1,212.66 420.3,213.07 420.5,213.48 420.7,213.88 420.9,214.27 421.1,214.66 421.3,215.04 421.5,215.41 421.7,215.78 422,216.15 422.2,216.52 422.4,216.87 422.6,217.22 422.8,217.57 423,217.9 423.2,218.22 423.4,218.52 423.6,218.82 423.9,219.1 424.1,219.38 424.3,219.65 424.5,219.92 424.7,220.17 424.9,220.42 425.1,220.67 425.3,220.91 425.5,221.14 425.8,221.36 426,221.59 426.2,221.81 426.4,222.02 426.6,222.23 426.8,222.43 427,222.63 427.2,222.82 427.4,223 427.7,223.17 427.9,223.34 428.1,223.5 428.3,223.65 428.5,223.8 428.7,223.95 428.9,224.09 429.1,224.23 429.3,224.36 429.6,224.49 429.8,224.62 430,224.75 430.2,224.88 430.4,225 430.6,225.12 430.8,225.24 431,225.36 431.3,225.47 431.5,225.58 431.7,225.68 431.9,225.79 432.1,225.88 432.3,225.98 432.5,226.08 432.7,226.18 432.9,226.27 433.2,226.36 433.4,226.44 433.6,226.52 433.8,226.59 434,226.66 434.2,226.71 434.4,226.77 434.6,226.82 434.8,226.87 435.1,226.91 435.3,226.95 435.5,227 435.7,227.04 435.9,227.08 436.1,227.12 436.3,227.17 436.5,227.21 436.7,227.26 437,227.3 437.2,227.35 437.4,227.39 437.6,227.43 437.8,227.47 438,227.5 438.2,227.53 438.4,227.56 438.6,227.58 438.9,227.61 439.1,227.64 439.3,227.66 439.5,227.69 439.7,227.72 439.9,227.74 440.1,227.77 440.3,227.79 440.5,227.82 440.8,227.84 441,227.86 441.2,227.89 441.4,227.91 441.6,227.93 441.8,227.95 442,227.97 442.2,227.99 442.4,228.01 442.7,228.03 442.9,228.05 443.1,228.06 443.3,228.08 443.5,228.09 443.7,228.1 443.9,228.12 444.1,228.13 444.3,228.14 444.6,228.15 444.8,228.15 445,228.16 445.2,228.16 445.2,228.4" fill="url(#rb)"/>
<rect x="361.1" y="164.9" width="84.9" height="63.5" fill="none" stroke="#000" stroke-width="0.8"/>
<path d="M364.3 228.4v1.6M374.9 228.4v1.6M385.4 228.4v1.6M396 228.4v1.6M406.5 228.4v1.6M417.1 228.4v1.6M427.7 228.4v1.6M438.2 228.4v1.6M369.6 228.4v0.9M380.1 228.4v0.9M390.7 228.4v0.9M401.3 228.4v0.9M411.8 228.4v0.9M422.4 228.4v0.9M432.9 228.4v0.9M443.5 228.4v0.9M361.1 228.4h-1.6M361.1 216.8h-1.6M361.1 205.2h-1.6M361.1 193.5h-1.6M361.1 181.9h-1.6M361.1 170.3h-1.6" stroke="#000" stroke-width="0.6" fill="none"/>
<text x="364.3" y="234.3" font-size="4.5" font-weight="bold" text-anchor="middle" fill="#000" stroke="#000" stroke-width="0.22">400</text>
<text x="374.9" y="234.3" font-size="4.5" font-weight="bold" text-anchor="middle" fill="#000" stroke="#000" stroke-width="0.22">450</text>
<text x="385.4" y="234.3" font-size="4.5" font-weight="bold" text-anchor="middle" fill="#000" stroke="#000" stroke-width="0.22">500</text>
<text x="396" y="234.3" font-size="4.5" font-weight="bold" text-anchor="middle" fill="#000" stroke="#000" stroke-width="0.22">550</text>
<text x="406.5" y="234.3" font-size="4.5" font-weight="bold" text-anchor="middle" fill="#000" stroke="#000" stroke-width="0.22">600</text>
<text x="417.1" y="234.3" font-size="4.5" font-weight="bold" text-anchor="middle" fill="#000" stroke="#000" stroke-width="0.22">650</text>
<text x="427.7" y="234.3" font-size="4.5" font-weight="bold" text-anchor="middle" fill="#000" stroke="#000" stroke-width="0.22">700</text>
<text x="438.2" y="234.3" font-size="4.5" font-weight="bold" text-anchor="middle" fill="#000" stroke="#000" stroke-width="0.22">750</text>
<text x="358.9" y="229.8" font-size="4.2" font-weight="bold" text-anchor="end" fill="#000" stroke="#000" stroke-width="0.22">0.0</text>
<text x="358.9" y="218.2" font-size="4.2" font-weight="bold" text-anchor="end" fill="#000" stroke="#000" stroke-width="0.22">0.2</text>
<text x="358.9" y="206.6" font-size="4.2" font-weight="bold" text-anchor="end" fill="#000" stroke="#000" stroke-width="0.22">0.4</text>
<text x="358.9" y="194.9" font-size="4.2" font-weight="bold" text-anchor="end" fill="#000" stroke="#000" stroke-width="0.22">0.6</text>
<text x="358.9" y="183.3" font-size="4.2" font-weight="bold" text-anchor="end" fill="#000" stroke="#000" stroke-width="0.22">0.8</text>
<text x="358.9" y="171.7" font-size="4.2" font-weight="bold" text-anchor="end" fill="#000" stroke="#000" stroke-width="0.22">1.0</text>
<text x="404.1" y="240.7" font-size="4.7" font-weight="bold" text-anchor="middle" fill="#000" stroke="#000" stroke-width="0.22">Wavelength (nm)</text>
<text x="350.2" y="196.7" font-size="4.25" font-weight="bold" text-anchor="middle" fill="#000" stroke="#000" stroke-width="0.22" transform="rotate(-90 350.2 196.7)">Normalized Intensity (a.u.)</text>
<text x="409" y="167.8" font-size="4.2" font-weight="bold" text-anchor="start" fill="#000" stroke="#000" stroke-width="0.22">0.1SCASNE</text>
<text x="409" y="173.1" font-size="4.2" font-weight="bold" text-anchor="start" fill="#000" stroke="#000" stroke-width="0.22">CIE=(0.4189,0.4955)</text>
<text x="409" y="178.4" font-size="4.2" font-weight="bold" text-anchor="start" fill="#000" stroke="#000" stroke-width="0.22">CCT=3903K</text>
<text x="409" y="183.6" font-size="4.2" font-weight="bold" text-anchor="start" fill="#000" stroke="#000" stroke-width="0.22">CRI=57.5</text>
<path d="M404.9 168.8l3 3l-3 3l-3-3z" fill="#000"/>
<text x="362.3" y="174.3" font-size="12" font-weight="bold" text-anchor="start" fill="#e60012">(d)</text>
<polygon points="361.1,307.4 361.1,307.37 361.3,307.36 361.6,307.36 361.8,307.36 362,307.36 362.2,307.36 362.4,307.36 362.6,307.36 362.8,307.35 363,307.35 363.2,307.35 363.5,307.35 363.7,307.34 363.9,307.34 364.1,307.34 364.3,307.34 364.5,307.33 364.7,307.33 364.9,307.33 365.1,307.32 365.4,307.32 365.6,307.32 365.8,307.31 366,307.31 366.2,307.3 366.4,307.3 366.6,307.29 366.8,307.28 367,307.28 367.3,307.27 367.5,307.26 367.7,307.24 367.9,307.22 368.1,307.2 368.3,307.17 368.5,307.14 368.7,307.09 368.9,307.03 369.2,306.95 369.4,306.86 369.6,306.74 369.8,306.59 370,306.41 370.2,306.2 370.4,305.94 370.6,305.64 370.8,305.29 371.1,304.89 371.3,304.44 371.5,303.94 371.7,303.4 371.9,302.83 372.1,302.22 372.3,301.6 372.5,300.98 372.7,300.37 373,299.78 373.2,299.23 373.4,298.74 373.6,298.31 373.8,297.97 374,297.7 374.2,297.52 374.4,297.42 374.6,297.4 374.9,297.44 375.1,297.52 375.3,297.62 375.5,297.73 375.7,297.81 375.9,297.85 376.1,297.82 376.3,297.7 376.5,297.48 376.8,297.15 377,296.72 377.2,296.18 377.4,295.56 377.6,294.88 377.8,294.17 378,293.45 378.2,292.79 378.5,292.2 378.7,291.74 378.9,291.44 379.1,291.32 379.3,291.53 379.5,291.82 379.7,292.18 379.9,292.59 380.1,293.07 380.4,293.59 380.6,294.14 380.8,294.72 381,295.31 381.2,295.91 381.4,296.49 381.6,297.05 381.8,297.59 382,298.08 382.3,298.53 382.5,298.93 382.7,299.28 382.9,299.58 383.1,299.82 383.3,300.01 383.5,300.14 383.7,300.21 383.9,300.22 384.2,300.19 384.4,300.12 384.6,300.03 384.8,299.92 385,299.8 385.2,299.69 385.4,299.59 385.6,299.49 385.8,299.37 386.1,299.25 386.3,299.13 386.5,299 386.7,298.82 386.9,298.55 387.1,298.2 387.3,297.81 387.5,297.37 387.7,296.82 388,296.1 388.2,295.25 388.4,294.3 388.6,293.27 388.8,292.11 389,290.76 389.2,289.27 389.4,287.71 389.6,286.11 389.9,284.47 390.1,282.74 390.3,280.95 390.5,279.12 390.7,277.29 390.9,275.44 391.1,273.55 391.3,271.66 391.5,269.79 391.8,267.97 392,266.17 392.2,264.37 392.4,262.61 392.6,260.97 392.8,259.5 393,258.17 393.2,256.92 393.4,255.77 393.7,254.72 393.9,253.79 394.1,252.94 394.3,252.12 394.5,251.39 394.7,250.79 394.9,250.35 395.1,250.01 395.3,249.7 395.6,249.44 395.8,249.3 396,249.3 396.2,249.3 396.4,249.3 396.6,249.35 396.8,249.43 397,249.52 397.2,249.64 397.5,249.81 397.7,250.01 397.9,250.21 398.1,250.4 398.3,250.58 398.5,250.75 398.7,250.92 398.9,251.09 399.1,251.27 399.4,251.44 399.6,251.62 399.8,251.79 400,251.98 400.2,252.16 400.4,252.35 400.6,252.55 400.8,252.75 401,252.95 401.3,253.15 401.5,253.36 401.7,253.57 401.9,253.78 402.1,253.99 402.3,254.21 402.5,254.43 402.7,254.64 402.9,254.86 403.2,255.08 403.4,255.31 403.6,255.54 403.8,255.78 404,256.02 404.2,256.28 404.4,256.54 404.6,256.82 404.9,257.1 405.1,257.39 405.3,257.69 405.5,258.01 405.7,258.33 405.9,258.66 406.1,259.01 406.3,259.37 406.5,259.74 406.8,260.14 407,260.56 407.2,261.01 407.4,261.48 407.6,261.96 407.8,262.45 408,262.95 408.2,263.44 408.4,263.92 408.7,264.39 408.9,264.86 409.1,265.32 409.3,265.77 409.5,266.23 409.7,266.69 409.9,267.15 410.1,267.61 410.3,268.08 410.6,268.56 410.8,269.05 411,269.54 411.2,270.04 411.4,270.55 411.6,271.07 411.8,271.59 412,272.12 412.2,272.65 412.5,273.19 412.7,273.73 412.9,274.28 413.1,274.84 413.3,275.41 413.5,275.99 413.7,276.59 413.9,277.18 414.1,277.78 414.4,278.37 414.6,278.96 414.8,279.53 415,280.09 415.2,280.64 415.4,281.18 415.6,281.72 415.8,282.25 416,282.78 416.3,283.3 416.5,283.81 416.7,284.32 416.9,284.82 417.1,285.32 417.3,285.81 417.5,286.29 417.7,286.77 417.9,287.25 418.2,287.72 418.4,288.18 418.6,288.64 418.8,289.09 419,289.53 419.2,289.97 419.4,290.4 419.6,290.83 419.8,291.25 420.1,291.66 420.3,292.07 420.5,292.48 420.7,292.88 420.9,293.27 421.1,293.66 421.3,294.03 421.5,294.41 421.7,294.78 422,295.15 422.2,295.52 422.4,295.87 422.6,296.22 422.8,296.57 423,296.9 423.2,297.22 423.4,297.52 423.6,297.82 423.9,298.1 424.1,298.38 424.3,298.65 424.5,298.92 424.7,299.17 424.9,299.42 425.1,299.67 425.3,299.9 425.5,300.14 425.8,300.36 426,300.59 426.2,300.81 426.4,301.02 426.6,301.23 426.8,301.43 427,301.63 427.2,301.81 427.4,302 427.7,302.17 427.9,302.34 428.1,302.5 428.3,302.65 428.5,302.8 428.7,302.95 428.9,303.09 429.1,303.23 429.3,303.36 429.6,303.49 429.8,303.62 430,303.75 430.2,303.88 430.4,304 430.6,304.12 430.8,304.24 431,304.36 431.3,304.47 431.5,304.58 431.7,304.68 431.9,304.78 432.1,304.88 432.3,304.98 432.5,305.08 432.7,305.18 432.9,305.27 433.2,305.36 433.4,305.44 433.6,305.52 433.8,305.59 434,305.66 434.2,305.71 434.4,305.77 434.6,305.82 434.8,305.87 435.1,305.91 435.3,305.95 435.5,306 435.7,306.04 435.9,306.08 436.1,306.12 436.3,306.17 436.5,306.21 436.7,306.26 437,306.3 437.2,306.35 437.4,306.39 437.6,306.43 437.8,306.47 438,306.5 438.2,306.53 438.4,306.56 438.6,306.58 438.9,306.61 439.1,306.64 439.3,306.66 439.5,306.69 439.7,306.72 439.9,306.74 440.1,306.77 440.3,306.79 440.5,306.82 440.8,306.84 441,306.86 441.2,306.89 441.4,306.91 441.6,306.93 441.8,306.95 442,306.97 442.2,306.99 442.4,307.01 442.7,307.03 442.9,307.05 443.1,307.06 443.3,307.08 443.5,307.09 443.7,307.1 443.9,307.12 444.1,307.13 444.3,307.14 444.6,307.15 444.8,307.15 445,307.16 445.2,307.16 445.2,307.4" fill="url(#rb)"/>
<rect x="361.1" y="243.4" width="84.9" height="64" fill="none" stroke="#000" stroke-width="0.8"/>
<path d="M364.3 307.4v1.6M374.9 307.4v1.6M385.4 307.4v1.6M396 307.4v1.6M406.5 307.4v1.6M417.1 307.4v1.6M427.7 307.4v1.6M438.2 307.4v1.6M369.6 307.4v0.9M380.1 307.4v0.9M390.7 307.4v0.9M401.3 307.4v0.9M411.8 307.4v0.9M422.4 307.4v0.9M432.9 307.4v0.9M443.5 307.4v0.9M361.1 307.4h-1.6M361.1 295.8h-1.6M361.1 284.2h-1.6M361.1 272.5h-1.6M361.1 260.9h-1.6M361.1 249.3h-1.6" stroke="#000" stroke-width="0.6" fill="none"/>
<text x="364.3" y="313" font-size="4.5" font-weight="bold" text-anchor="middle" fill="#000" stroke="#000" stroke-width="0.22">400</text>
<text x="374.9" y="313" font-size="4.5" font-weight="bold" text-anchor="middle" fill="#000" stroke="#000" stroke-width="0.22">450</text>
<text x="385.4" y="313" font-size="4.5" font-weight="bold" text-anchor="middle" fill="#000" stroke="#000" stroke-width="0.22">500</text>
<text x="396" y="313" font-size="4.5" font-weight="bold" text-anchor="middle" fill="#000" stroke="#000" stroke-width="0.22">550</text>
<text x="406.5" y="313" font-size="4.5" font-weight="bold" text-anchor="middle" fill="#000" stroke="#000" stroke-width="0.22">600</text>
<text x="417.1" y="313" font-size="4.5" font-weight="bold" text-anchor="middle" fill="#000" stroke="#000" stroke-width="0.22">650</text>
<text x="427.7" y="313" font-size="4.5" font-weight="bold" text-anchor="middle" fill="#000" stroke="#000" stroke-width="0.22">700</text>
<text x="438.2" y="313" font-size="4.5" font-weight="bold" text-anchor="middle" fill="#000" stroke="#000" stroke-width="0.22">750</text>
<text x="358.9" y="308.8" font-size="4.2" font-weight="bold" text-anchor="end" fill="#000" stroke="#000" stroke-width="0.22">0.0</text>
<text x="358.9" y="297.2" font-size="4.2" font-weight="bold" text-anchor="end" fill="#000" stroke="#000" stroke-width="0.22">0.2</text>
<text x="358.9" y="285.6" font-size="4.2" font-weight="bold" text-anchor="end" fill="#000" stroke="#000" stroke-width="0.22">0.4</text>
<text x="358.9" y="273.9" font-size="4.2" font-weight="bold" text-anchor="end" fill="#000" stroke="#000" stroke-width="0.22">0.6</text>
<text x="358.9" y="262.3" font-size="4.2" font-weight="bold" text-anchor="end" fill="#000" stroke="#000" stroke-width="0.22">0.8</text>
<text x="358.9" y="250.7" font-size="4.2" font-weight="bold" text-anchor="end" fill="#000" stroke="#000" stroke-width="0.22">1.0</text>
<text x="404.1" y="318.4" font-size="4.7" font-weight="bold" text-anchor="middle" fill="#000" stroke="#000" stroke-width="0.22">Wavelength (nm)</text>
<text x="350.2" y="275.4" font-size="4.25" font-weight="bold" text-anchor="middle" fill="#000" stroke="#000" stroke-width="0.22" transform="rotate(-90 350.2 275.4)">Normalized Intensity (a.u.)</text>
<text x="411.2" y="247.3" font-size="4.2" font-weight="bold" text-anchor="start" fill="#000" stroke="#000" stroke-width="0.22">0.05SCASNE</text>
<text x="411.2" y="252.7" font-size="4.2" font-weight="bold" text-anchor="start" fill="#000" stroke="#000" stroke-width="0.22">CIE=(0.4161,0.468)</text>
<text x="411.2" y="258" font-size="4.2" font-weight="bold" text-anchor="start" fill="#000" stroke="#000" stroke-width="0.22">CCT=3801K</text>
<text x="411.2" y="263.3" font-size="4.2" font-weight="bold" text-anchor="start" fill="#000" stroke="#000" stroke-width="0.22">CRI=57.8</text>
<path d="M407 247.8l3 5.2h-6z" fill="#000"/>
<text x="362.3" y="252.8" font-size="12" font-weight="bold" text-anchor="start" fill="#e60012">(e)</text>
<polygon points="361.1,389 361.1,388.87 361.3,388.87 361.6,388.86 361.8,388.86 362,388.85 362.2,388.84 362.4,388.84 362.6,388.83 362.8,388.82 363,388.82 363.2,388.81 363.5,388.8 363.7,388.79 363.9,388.78 364.1,388.77 364.3,388.76 364.5,388.75 364.7,388.74 364.9,388.72 365.1,388.71 365.4,388.7 365.6,388.68 365.8,388.67 366,388.65 366.2,388.63 366.4,388.61 366.6,388.59 366.8,388.57 367,388.55 367.3,388.53 367.5,388.5 367.7,388.48 367.9,388.45 368.1,388.42 368.3,388.38 368.5,388.35 368.7,388.31 368.9,388.27 369.2,388.23 369.4,388.18 369.6,388.13 369.8,388.07 370,388.02 370.2,387.95 370.4,387.88 370.6,387.81 370.8,387.73 371.1,387.64 371.3,387.55 371.5,387.45 371.7,387.33 371.9,387.21 372.1,387.07 372.3,386.92 372.5,386.75 372.7,386.56 373,386.35 373.2,386.1 373.4,385.82 373.6,385.49 373.8,385.09 374,384.61 374.2,384.04 374.4,383.34 374.6,382.49 374.9,381.46 375.1,380.2 375.3,378.69 375.5,376.88 375.7,374.74 375.9,372.26 376.1,369.41 376.3,366.2 376.5,362.64 376.8,358.8 377,354.73 377.2,350.54 377.4,346.36 377.6,342.33 377.8,338.62 378,335.41 378.2,332.85 378.5,331.08 378.7,330.2 378.9,330.81 379.1,331.8 379.3,333.15 379.5,334.84 379.7,336.81 379.9,339.04 380.1,341.47 380.4,344.05 380.6,346.74 380.8,349.49 381,352.27 381.2,355.03 381.4,357.72 381.6,360.29 381.8,362.72 382,365.01 382.3,367.14 382.5,369.1 382.7,370.89 382.9,372.52 383.1,373.99 383.3,375.31 383.5,376.48 383.7,377.49 383.9,378.36 384.2,379.09 384.4,379.7 384.6,380.19 384.8,380.57 385,380.85 385.2,381.05 385.4,381.16 385.6,381.17 385.8,381.07 386.1,380.87 386.3,380.6 386.5,380.28 386.7,379.9 386.9,379.44 387.1,378.93 387.3,378.4 387.5,377.87 387.7,377.35 388,376.84 388.2,376.31 388.4,375.75 388.6,375.14 388.8,374.46 389,373.71 389.2,372.93 389.4,372.14 389.6,371.38 389.9,370.64 390.1,369.91 390.3,369.19 390.5,368.49 390.7,367.81 390.9,367.16 391.1,366.51 391.3,365.89 391.5,365.31 391.8,364.77 392,364.26 392.2,363.76 392.4,363.3 392.6,362.89 392.8,362.56 393,362.28 393.2,362.03 393.4,361.8 393.7,361.62 393.9,361.5 394.1,361.4 394.3,361.31 394.5,361.23 394.7,361.16 394.9,361.1 395.1,361.06 395.3,361.04 395.6,361.04 395.8,361.06 396,361.1 396.2,361.15 396.4,361.21 396.6,361.27 396.8,361.34 397,361.41 397.2,361.48 397.5,361.56 397.7,361.66 397.9,361.76 398.1,361.86 398.3,361.97 398.5,362.07 398.7,362.18 398.9,362.28 399.1,362.37 399.4,362.46 399.6,362.54 399.8,362.62 400,362.7 400.2,362.78 400.4,362.86 400.6,362.94 400.8,363.01 401,363.09 401.3,363.17 401.5,363.25 401.7,363.34 401.9,363.43 402.1,363.52 402.3,363.62 402.5,363.72 402.7,363.82 402.9,363.94 403.2,364.05 403.4,364.18 403.6,364.3 403.8,364.43 404,364.56 404.2,364.69 404.4,364.82 404.6,364.95 404.9,365.09 405.1,365.23 405.3,365.37 405.5,365.51 405.7,365.66 405.9,365.82 406.1,365.98 406.3,366.14 406.5,366.31 406.8,366.49 407,366.67 407.2,366.87 407.4,367.07 407.6,367.27 407.8,367.48 408,367.7 408.2,367.92 408.4,368.15 408.7,368.38 408.9,368.62 409.1,368.87 409.3,369.13 409.5,369.4 409.7,369.67 409.9,369.94 410.1,370.22 410.3,370.5 410.6,370.77 410.8,371.04 411,371.3 411.2,371.56 411.4,371.83 411.6,372.09 411.8,372.35 412,372.61 412.2,372.87 412.5,373.14 412.7,373.41 412.9,373.69 413.1,373.97 413.3,374.27 413.5,374.56 413.7,374.86 413.9,375.16 414.1,375.47 414.4,375.77 414.6,376.06 414.8,376.35 415,376.64 415.2,376.91 415.4,377.19 415.6,377.46 415.8,377.73 416,378 416.3,378.26 416.5,378.52 416.7,378.78 416.9,379.03 417.1,379.29 417.3,379.54 417.5,379.79 417.7,380.03 417.9,380.28 418.2,380.52 418.4,380.76 418.6,380.99 418.8,381.22 419,381.43 419.2,381.64 419.4,381.84 419.6,382.04 419.8,382.23 420.1,382.42 420.3,382.6 420.5,382.78 420.7,382.94 420.9,383.11 421.1,383.26 421.3,383.41 421.5,383.55 421.7,383.68 422,383.81 422.2,383.93 422.4,384.05 422.6,384.16 422.8,384.27 423,384.38 423.2,384.48 423.4,384.58 423.6,384.68 423.9,384.78 424.1,384.87 424.3,384.97 424.5,385.05 424.7,385.14 424.9,385.23 425.1,385.31 425.3,385.39 425.5,385.47 425.8,385.55 426,385.62 426.2,385.69 426.4,385.77 426.6,385.84 426.8,385.91 427,385.98 427.2,386.04 427.4,386.11 427.7,386.17 427.9,386.24 428.1,386.3 428.3,386.37 428.5,386.43 428.7,386.5 428.9,386.56 429.1,386.63 429.3,386.69 429.6,386.75 429.8,386.81 430,386.87 430.2,386.93 430.4,386.99 430.6,387.05 430.8,387.1 431,387.16 431.3,387.21 431.5,387.26 431.7,387.31 431.9,387.35 432.1,387.4 432.3,387.44 432.5,387.49 432.7,387.53 432.9,387.57 433.2,387.62 433.4,387.66 433.6,387.7 433.8,387.74 434,387.79 434.2,387.83 434.4,387.87 434.6,387.91 434.8,387.94 435.1,387.98 435.3,388.02 435.5,388.06 435.7,388.09 435.9,388.12 436.1,388.16 436.3,388.19 436.5,388.22 436.7,388.25 437,388.28 437.2,388.3 437.4,388.33 437.6,388.35 437.8,388.37 438,388.39 438.2,388.41 438.4,388.43 438.6,388.45 438.9,388.46 439.1,388.48 439.3,388.5 439.5,388.52 439.7,388.53 439.9,388.55 440.1,388.57 440.3,388.58 440.5,388.6 440.8,388.62 441,388.63 441.2,388.65 441.4,388.66 441.6,388.68 441.8,388.69 442,388.7 442.2,388.71 442.4,388.73 442.7,388.74 442.9,388.75 443.1,388.76 443.3,388.77 443.5,388.78 443.7,388.79 443.9,388.79 444.1,388.8 444.3,388.81 444.6,388.81 444.8,388.82 445,388.82 445.2,388.82 445.2,389" fill="url(#rb)"/>
<rect x="361.1" y="324.2" width="84.9" height="64.8" fill="none" stroke="#000" stroke-width="0.8"/>
<path d="M364.3 389v1.6M374.9 389v1.6M385.4 389v1.6M396 389v1.6M406.5 389v1.6M417.1 389v1.6M427.7 389v1.6M438.2 389v1.6M369.6 389v0.9M380.1 389v0.9M390.7 389v0.9M401.3 389v0.9M411.8 389v0.9M422.4 389v0.9M432.9 389v0.9M443.5 389v0.9M361.1 389h-1.6M361.1 377.2h-1.6M361.1 365.5h-1.6M361.1 353.7h-1.6M361.1 342h-1.6M361.1 330.2h-1.6" stroke="#000" stroke-width="0.6" fill="none"/>
<text x="364.3" y="394.5" font-size="4.5" font-weight="bold" text-anchor="middle" fill="#000" stroke="#000" stroke-width="0.22">400</text>
<text x="374.9" y="394.5" font-size="4.5" font-weight="bold" text-anchor="middle" fill="#000" stroke="#000" stroke-width="0.22">450</text>
<text x="385.4" y="394.5" font-size="4.5" font-weight="bold" text-anchor="middle" fill="#000" stroke="#000" stroke-width="0.22">500</text>
<text x="396" y="394.5" font-size="4.5" font-weight="bold" text-anchor="middle" fill="#000" stroke="#000" stroke-width="0.22">550</text>
<text x="406.5" y="394.5" font-size="4.5" font-weight="bold" text-anchor="middle" fill="#000" stroke="#000" stroke-width="0.22">600</text>
<text x="417.1" y="394.5" font-size="4.5" font-weight="bold" text-anchor="middle" fill="#000" stroke="#000" stroke-width="0.22">650</text>
<text x="427.7" y="394.5" font-size="4.5" font-weight="bold" text-anchor="middle" fill="#000" stroke="#000" stroke-width="0.22">700</text>
<text x="438.2" y="394.5" font-size="4.5" font-weight="bold" text-anchor="middle" fill="#000" stroke="#000" stroke-width="0.22">750</text>
<text x="358.9" y="390.4" font-size="4.2" font-weight="bold" text-anchor="end" fill="#000" stroke="#000" stroke-width="0.22">0.0</text>
<text x="358.9" y="378.6" font-size="4.2" font-weight="bold" text-anchor="end" fill="#000" stroke="#000" stroke-width="0.22">0.2</text>
<text x="358.9" y="366.9" font-size="4.2" font-weight="bold" text-anchor="end" fill="#000" stroke="#000" stroke-width="0.22">0.4</text>
<text x="358.9" y="355.1" font-size="4.2" font-weight="bold" text-anchor="end" fill="#000" stroke="#000" stroke-width="0.22">0.6</text>
<text x="358.9" y="343.4" font-size="4.2" font-weight="bold" text-anchor="end" fill="#000" stroke="#000" stroke-width="0.22">0.8</text>
<text x="358.9" y="331.6" font-size="4.2" font-weight="bold" text-anchor="end" fill="#000" stroke="#000" stroke-width="0.22">1.0</text>
<text x="404.1" y="399.5" font-size="4.7" font-weight="bold" text-anchor="middle" fill="#000" stroke="#000" stroke-width="0.22">Wavelength (nm)</text>
<text x="350.2" y="356.6" font-size="4.25" font-weight="bold" text-anchor="middle" fill="#000" stroke="#000" stroke-width="0.22" transform="rotate(-90 350.2 356.6)">Normalized Intensity (a.u.)</text>
<text x="409.5" y="327.7" font-size="4.2" font-weight="bold" text-anchor="start" fill="#000" stroke="#000" stroke-width="0.22">0SCASNE</text>
<text x="409.5" y="333" font-size="4.2" font-weight="bold" text-anchor="start" fill="#000" stroke="#000" stroke-width="0.22">CIE=(0.3052,0.3187)</text>
<text x="409.5" y="337.8" font-size="4.2" font-weight="bold" text-anchor="start" fill="#000" stroke="#000" stroke-width="0.22">CCT=7049K</text>
<text x="409.5" y="342.5" font-size="4.2" font-weight="bold" text-anchor="start" fill="#000" stroke="#000" stroke-width="0.22">CRI=78.2</text>
<circle cx="404.7" cy="332.1" r="2.6" fill="#000"/>
<text x="362.3" y="333.6" font-size="12" font-weight="bold" text-anchor="start" fill="#e60012">(f)</text>
<defs><filter id="pb" x="-10%" y="-10%" width="120%" height="120%"><feGaussianBlur stdDeviation="0.8"/></filter><filter id="pg" x="-50%" y="-50%" width="200%" height="200%"><feGaussianBlur stdDeviation="1.7"/></filter></defs>
<clipPath id="pcb"><rect x="0" y="0" width="99.3" height="75.7"/></clipPath>
<g transform="translate(447 3)" clip-path="url(#pcb)">
<linearGradient id="bgb" x1="0" y1="0" x2="1" y2="0.2"><stop offset="0" stop-color="#23781a"/><stop offset="1" stop-color="#48a028"/></linearGradient>
<linearGradient id="plb" gradientUnits="userSpaceOnUse" x1="1.4" y1="48.7" x2="59.7" y2="23.1"><stop offset="0" stop-color="#68b026"/><stop offset="0.75" stop-color="#a2d848"/><stop offset="1" stop-color="#a2d848"/></linearGradient>
<rect x="-2" y="-2" width="103.3" height="79.7" fill="url(#bgb)"/>
<g filter="url(#pb)">
<circle cx="12" cy="20" r="26" fill="#3a962a" opacity="0.8"/>
<polygon points="-3,41.7 47.4,71.2 -3,78.7 47.4,78.7" fill="#2c8e1a"/>
<polygon points="48.4,66.2 97.2,17.4 102.3,17.4 102.3,78.7 48.4,78.7" fill="#38ae18"/>
<polygon points="85.3,77.7 93.3,63.7 96.3,31.4 102.3,27.4 102.3,77.7" fill="#0a2a08"/>
<path d="M56 58.2L73.7 39.8L93.8 18.9Q94.8 25.9 79.7 48.3Q64 66.2 56 58.2z" fill="#0d3a0c"/>
<path d="M50.9 66.4L94.8 20.6" stroke="#0d3a0c" stroke-width="3.2" stroke-dasharray="0.9 1.3" fill="none" opacity="0.8"/>
<polygon points="1.4,38.7 47.4,67.2 47.9,71.8 1.4,41.9" fill="#acdc54"/>
<polygon points="1.4,38.7 57.1,1.9 95.2,17.4 47.4,67.2" fill="url(#plb)"/>
<ellipse cx="41.7" cy="41.1" rx="5" ry="2.6" fill="#3c8a20" opacity="0.45"/>
</g>
<ellipse cx="50.7" cy="28.6" rx="10.5" ry="7.2" fill="#e4ffd8" opacity="0.8" filter="url(#pg)"/>
<path d="M57.7 22.1c7-7 19-6 24 3c4 8 1 14-5 19" fill="none" stroke="#10200c" stroke-width="0.8" opacity="0.85"/>
<path d="M44.7 32.1c-3 5-2 10 3 12c6 2 12 1 20 5" fill="none" stroke="#e03020" stroke-width="0.7" opacity="0.9"/>
<ellipse cx="49.7" cy="27.4" rx="8.6" ry="5.8" fill="#f0fff0" filter="url(#pb)"/>
<ellipse cx="49.7" cy="27.3" rx="8.3" ry="5.5" fill="none" stroke="#c4f070" stroke-width="1.5" stroke-dasharray="1.5 2.9" opacity="0.9"/>
<ellipse cx="49.7" cy="27.1" rx="6.9" ry="4.5" fill="#fff"/>
</g>
<text x="448" y="13.3" font-size="12" font-weight="bold" fill="#e60012">(b’)</text>
<clipPath id="pcc"><rect x="0" y="0" width="99.3" height="73.1"/></clipPath>
<g transform="translate(447 85.3)" clip-path="url(#pcc)">
<linearGradient id="bgc" x1="0" y1="0" x2="1" y2="0.2"><stop offset="0" stop-color="#177e18"/><stop offset="1" stop-color="#2c9e1e"/></linearGradient>
<linearGradient id="plc" gradientUnits="userSpaceOnUse" x1="0.9" y1="45.4" x2="60.9" y2="23.9"><stop offset="0" stop-color="#6ab822"/><stop offset="0.75" stop-color="#a0da40"/><stop offset="1" stop-color="#a0da40"/></linearGradient>
<rect x="-2" y="-2" width="103.3" height="77.1" fill="url(#bgc)"/>
<g filter="url(#pb)">
<circle cx="12" cy="24" r="24" fill="#38a028" opacity="0.8"/>
<polygon points="-3,38.4 39.6,75.3 -3,76.1 39.6,76.1" fill="#229414"/>
<polygon points="40.6,70.3 99.1,23.2 102.3,23.2 102.3,76.1 40.6,76.1" fill="#30a818"/>
<polygon points="85.3,75.1 93.3,61.1 96.3,37.2 102.3,33.2 102.3,75.1" fill="#166410"/>
<path d="M50 62.6L71.2 44.8L95.4 24.6Q96.4 31.6 77.2 53.3Q58 70.6 50 62.6z" fill="#0c400c"/>
<path d="M43.6 70.6L96.5 26.4" stroke="#0c400c" stroke-width="3.2" stroke-dasharray="0.9 1.3" fill="none" opacity="0.8"/>
<polygon points="0.9,35.4 39.6,71.3 40.1,75.9 0.9,38.6" fill="#b0e054"/>
<polygon points="0.9,35.4 60.3,2.8 97.1,23.2 39.6,71.3" fill="url(#plc)"/>
<ellipse cx="42.9" cy="41.9" rx="5" ry="2.6" fill="#3c8a20" opacity="0.45"/>
</g>
<ellipse cx="51.9" cy="29.4" rx="10.5" ry="7.2" fill="#e4ffd8" opacity="0.8" filter="url(#pg)"/>
<path d="M58.9 22.9c7-7 19-6 24 3c4 8 1 14-5 19" fill="none" stroke="#10200c" stroke-width="0.8" opacity="0.85"/>
<path d="M45.9 32.9c-3 5-2 10 3 12c6 2 12 1 20 5" fill="none" stroke="#e03020" stroke-width="0.7" opacity="0.9"/>
<ellipse cx="50.9" cy="28.2" rx="8.6" ry="5.8" fill="#f0fff0" filter="url(#pb)"/>
<ellipse cx="50.9" cy="28.1" rx="8.3" ry="5.5" fill="none" stroke="#c4f070" stroke-width="1.5" stroke-dasharray="1.5 2.9" opacity="0.9"/>
<ellipse cx="50.9" cy="27.9" rx="6.9" ry="4.5" fill="#fff"/>
</g>
<text x="448" y="95.6" font-size="12" font-weight="bold" fill="#e60012">(c’)</text>
<clipPath id="pcd"><rect x="0" y="0" width="99.3" height="72"/></clipPath>
<g transform="translate(447 164.4)" clip-path="url(#pcd)">
<linearGradient id="bgd" x1="0" y1="0" x2="1" y2="0.2"><stop offset="0" stop-color="#158018"/><stop offset="1" stop-color="#2ea01e"/></linearGradient>
<linearGradient id="pld" gradientUnits="userSpaceOnUse" x1="1.4" y1="47.4" x2="61.3" y2="23.2"><stop offset="0" stop-color="#6cbc22"/><stop offset="0.75" stop-color="#a2dc40"/><stop offset="1" stop-color="#a2dc40"/></linearGradient>
<rect x="-2" y="-2" width="103.3" height="76" fill="url(#bgd)"/>
<g filter="url(#pb)">
<circle cx="14" cy="22" r="24" fill="#34a026" opacity="0.8"/>
<polygon points="-3,40.4 43.5,70.4 -3,75 43.5,75" fill="#1f9414"/>
<polygon points="44.5,65.4 98.8,20.9 102.3,20.9 102.3,75 44.5,75" fill="#30ac18"/>
<polygon points="85.3,74 93.3,60 96.3,34.9 102.3,30.9 102.3,74" fill="#0e4a0c"/>
<path d="M53.1 58.2L72.8 41.4L95.2 22.3Q96.2 29.3 78.8 49.9Q61.1 66.2 53.1 58.2z" fill="#0c440c"/>
<path d="M47.3 65.9L96.3 24" stroke="#0c440c" stroke-width="3.2" stroke-dasharray="0.9 1.3" fill="none" opacity="0.8"/>
<polygon points="1.4,37.4 43.5,66.4 44,71 1.4,40.6" fill="#b4e058"/>
<polygon points="1.4,37.4 61,5 96.8,20.9 43.5,66.4" fill="url(#pld)"/>
<ellipse cx="43.3" cy="41.2" rx="5" ry="2.6" fill="#3c8a20" opacity="0.45"/>
</g>
<ellipse cx="52.3" cy="28.7" rx="10.5" ry="7.2" fill="#e4ffd8" opacity="0.8" filter="url(#pg)"/>
<path d="M59.3 22.2c7-7 19-6 24 3c4 8 1 14-5 19" fill="none" stroke="#10200c" stroke-width="0.8" opacity="0.85"/>
<path d="M46.3 32.2c-3 5-2 10 3 12c6 2 12 1 20 5" fill="none" stroke="#e03020" stroke-width="0.7" opacity="0.9"/>
<ellipse cx="51.3" cy="27.5" rx="8.6" ry="5.8" fill="#f0fff0" filter="url(#pb)"/>
<ellipse cx="51.3" cy="27.4" rx="8.3" ry="5.5" fill="none" stroke="#c4f070" stroke-width="1.5" stroke-dasharray="1.5 2.9" opacity="0.9"/>
<ellipse cx="51.3" cy="27.2" rx="6.9" ry="4.5" fill="#fff"/>
</g>
<text x="448" y="174.7" font-size="12" font-weight="bold" fill="#e60012">(d’)</text>
<clipPath id="pce"><rect x="0" y="0" width="99.2" height="73.2"/></clipPath>
<g transform="translate(447.3 242.2)" clip-path="url(#pce)">
<linearGradient id="bge" x1="0" y1="0" x2="1" y2="0.2"><stop offset="0" stop-color="#5c9a10"/><stop offset="1" stop-color="#78ae18"/></linearGradient>
<linearGradient id="ple" gradientUnits="userSpaceOnUse" x1="0.8" y1="43.5" x2="59.7" y2="24.6"><stop offset="0" stop-color="#8cba20"/><stop offset="0.75" stop-color="#b4d840"/><stop offset="1" stop-color="#b4d840"/></linearGradient>
<rect x="-2" y="-2" width="103.2" height="77.2" fill="url(#bge)"/>
<g filter="url(#pb)">
<circle cx="10" cy="14" r="26" fill="#74ac18" opacity="0.8"/>
<polygon points="-3,36.5 34.3,73.3 -3,76.2 34.3,76.2" fill="#6aa812"/>
<polygon points="35.3,68.3 100.1,24.8 102.2,24.8 102.2,76.2 35.3,76.2" fill="#22420a"/>
<polygon points="85.2,75.2 93.2,61.2 96.2,38.8 102.2,34.8 102.2,75.2" fill="#4c8a12"/>
<path d="M45.8 61.3L69.4 44.8L96.2 26.1Q97.2 33.1 75.4 53.3Q53.8 69.3 45.8 61.3z" fill="#1a3608"/>
<path d="M38.7 68.8L97.4 27.9" stroke="#1a3608" stroke-width="3.2" stroke-dasharray="0.9 1.3" fill="none" opacity="0.8"/>
<polygon points="0.8,33.5 34.3,69.3 34.8,73.9 0.8,36.7" fill="#c0dc50"/>
<polygon points="0.8,33.5 64.3,2.5 98.1,24.8 34.3,69.3" fill="url(#ple)"/>
<ellipse cx="41.7" cy="42.6" rx="5" ry="2.6" fill="#6a9a18" opacity="0.45"/>
</g>
<ellipse cx="50.7" cy="30.1" rx="10.5" ry="7.2" fill="#f4ffb0" opacity="0.8" filter="url(#pg)"/>
<path d="M57.7 23.6c7-7 19-6 24 3c4 8 1 14-5 19" fill="none" stroke="#10200c" stroke-width="0.8" opacity="0.85"/>
<path d="M44.7 33.6c-3 5-2 10 3 12c6 2 12 1 20 5" fill="none" stroke="#e03020" stroke-width="0.7" opacity="0.9"/>
<ellipse cx="49.7" cy="28.9" rx="8.6" ry="5.8" fill="#fbffd8" filter="url(#pb)"/>
<ellipse cx="49.7" cy="28.8" rx="8.3" ry="5.5" fill="none" stroke="#eaf860" stroke-width="1.5" stroke-dasharray="1.5 2.9" opacity="0.9"/>
<ellipse cx="49.7" cy="28.6" rx="6.9" ry="4.5" fill="#fff"/>
</g>
<text x="448.3" y="252.5" font-size="12" font-weight="bold" fill="#e60012">(e’)</text>
<clipPath id="pcf"><rect x="0" y="0" width="98.8" height="75.1"/></clipPath>
<g transform="translate(448 321.3)" clip-path="url(#pcf)">
<linearGradient id="bgf" x1="0" y1="0" x2="1" y2="0.2"><stop offset="0" stop-color="#7f9cba"/><stop offset="1" stop-color="#5f80a8"/></linearGradient>
<linearGradient id="plf" gradientUnits="userSpaceOnUse" x1="7.9" y1="46.3" x2="64.6" y2="24.4"><stop offset="0" stop-color="#a4b6cc"/><stop offset="0.75" stop-color="#d6dfea"/><stop offset="1" stop-color="#d6dfea"/></linearGradient>
<rect x="-2" y="-2" width="102.8" height="79.1" fill="url(#bgf)"/>
<g filter="url(#pb)">
<circle cx="14" cy="22" r="30" fill="#a4b8cc" opacity="0.8"/>
<polygon points="-3,39.3 34.7,77 -3,78.1 34.7,78.1" fill="#8ca4c0"/>
<polygon points="35.7,72 100.2,26.4 101.8,26.4 101.8,78.1 35.7,78.1" fill="#93a9be"/>
<polygon points="82.8,77.1 94.8,36.4 101.8,32.4 101.8,77.1" fill="#c8d2de"/>
<polygon points="56.7,77.1 58.7,67 86.7,51 80.7,77.1" fill="#4a6078"/>
<path d="M46.1 64.6L69.6 47.4L96.3 27.8Q97.3 34.8 75.6 55.9Q54.1 72.6 46.1 64.6z" fill="#4a6078"/>
<path d="M39.1 72.4L97.5 29.5" stroke="#4a6078" stroke-width="3.2" stroke-dasharray="0.9 1.3" fill="none" opacity="0.8"/>
<polygon points="7.9,36.3 34.7,73 35.2,77.6 7.9,39.5" fill="#eef2f6"/>
<polygon points="7.9,36.3 68.5,4.6 98.2,26.4 34.7,73" fill="url(#plf)"/>
<ellipse cx="46.6" cy="42.4" rx="5" ry="2.6" fill="#8a9cb4" opacity="0.45"/>
</g>
<ellipse cx="55.6" cy="29.9" rx="10.5" ry="7.2" fill="#ffffe0" opacity="0.8" filter="url(#pg)"/>
<path d="M62.6 23.4c7-7 19-6 24 3c4 8 1 14-5 19" fill="none" stroke="#5a3030" stroke-width="0.8" opacity="0.85"/>
<path d="M49.6 33.4c-3 5-2 10 3 12c6 2 12 1 20 5" fill="none" stroke="#e03020" stroke-width="0.7" opacity="0.9"/>
<ellipse cx="54.6" cy="28.7" rx="8.6" ry="5.8" fill="#fffff0" filter="url(#pb)"/>
<ellipse cx="54.6" cy="28.6" rx="8.3" ry="5.5" fill="none" stroke="#f4f090" stroke-width="1.5" stroke-dasharray="1.5 2.9" opacity="0.9"/>
<ellipse cx="54.6" cy="28.4" rx="6.9" ry="4.5" fill="#fff"/>
</g>
<text x="449" y="331.6" font-size="12" font-weight="bold" fill="#e60012">(f’)</text>
</svg>
</body></html>
